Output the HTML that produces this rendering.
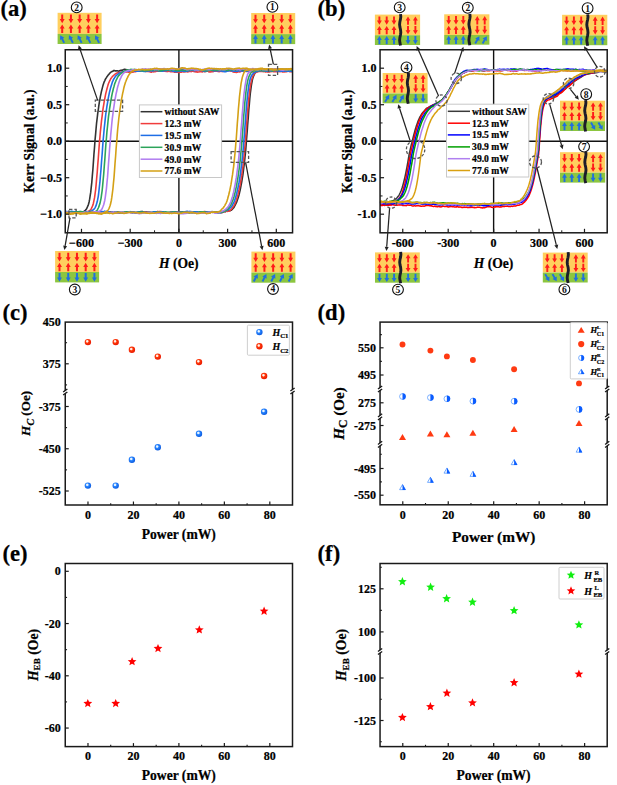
<!DOCTYPE html><html><head><meta charset="utf-8"><style>html,body{margin:0;padding:0;background:#fff;}svg{display:block;}</style></head><body><svg width="617" height="785" viewBox="0 0 617 785">
<rect width="617" height="785" fill="white"/>
<defs><radialGradient id="gb" cx="0.4" cy="0.38" r="0.62"><stop offset="0" stop-color="#ffffff"/><stop offset="0.22" stop-color="#d8ecff"/><stop offset="0.42" stop-color="#2a86ff"/><stop offset="1" stop-color="#0a5ae0"/></radialGradient><radialGradient id="gr" cx="0.4" cy="0.38" r="0.62"><stop offset="0" stop-color="#ffffff"/><stop offset="0.22" stop-color="#ffe0d4"/><stop offset="0.42" stop-color="#ff3a0a"/><stop offset="1" stop-color="#e81800"/></radialGradient></defs>
<line x1="178.90" y1="49.75" x2="178.90" y2="232.80" stroke="#111" stroke-width="1.4" />
<line x1="65.25" y1="141.20" x2="292.55" y2="141.20" stroke="#111" stroke-width="1.4" />
<polyline points="65.2,213.2 65.8,213.3 66.3,213.3 66.9,213.4 67.4,213.1 68.0,213.3 68.5,213.3 69.0,213.1 69.6,212.9 70.1,212.7 70.7,212.7 71.2,212.3 71.7,212.3 72.3,212.1 72.8,212.3 73.4,212.3 73.9,212.4 74.5,212.5 75.0,212.6 75.5,212.7 76.1,212.6 76.6,212.8 77.2,212.6 77.7,212.7 78.2,212.8 78.8,212.8 79.3,212.8 79.9,212.6 80.4,212.7 80.9,212.6 81.5,212.5 82.0,212.5 82.6,212.4 83.1,212.1 83.7,211.6 84.2,211.3 84.7,210.8 85.3,210.5 85.8,209.8 86.4,209.0 86.9,208.2 87.4,207.0 88.0,205.7 88.5,204.2 89.1,202.0 89.6,199.4 90.1,196.2 90.7,192.4 91.2,187.7 91.8,182.3 92.3,176.1 92.9,169.3 93.4,162.1 93.9,154.7 94.5,147.5 95.0,140.5 95.6,134.1 96.1,128.2 96.6,122.8 97.2,118.0 97.7,113.6 98.3,109.6 98.8,105.9 99.3,102.5 99.9,99.3 100.4,96.4 101.0,93.6 101.5,91.2 102.1,88.9 102.6,86.9 103.1,85.0 103.7,83.3 104.2,81.8 104.8,80.6 105.3,79.4 105.8,78.5 106.4,77.6 106.9,76.8 107.5,76.0 108.0,75.3 108.5,74.7 109.1,74.1 109.6,73.4 110.2,72.7 110.7,72.3 111.3,71.9 111.8,71.6 112.3,71.4 112.9,71.2 113.4,70.6 114.0,70.6 114.5,70.6 115.0,70.8 115.6,70.9 116.1,71.0 116.7,70.8 117.2,70.8 117.7,70.9 118.3,71.0 118.8,71.2 119.4,71.0 119.9,70.6 120.5,70.4 121.0,70.3 121.5,70.2 122.1,70.1 122.6,70.2 123.2,69.8 123.7,69.6 124.2,69.4 124.8,69.3 125.3,69.5 125.9,69.6 126.4,69.8 126.9,69.8 127.5,70.1 128.0,70.0 128.6,70.3 129.1,70.6 129.7,70.8 130.2,71.2 130.7,71.3 131.3,71.4 131.8,71.4 132.4,71.6 132.9,71.6 133.4,71.2 134.0,71.0 134.5,71.0 135.1,71.1 135.6,71.0 136.1,70.8 136.7,70.8 137.2,70.5 137.8,70.2 138.3,70.0 138.9,70.2 139.4,70.4 139.9,70.4 140.5,70.4 141.0,70.4 141.6,70.2 142.1,70.2 142.6,70.6 143.2,70.6 143.7,70.6 144.3,70.7 144.8,70.5 145.3,70.5 145.9,70.5 146.4,70.1 147.0,70.1 147.5,69.9 148.1,69.8 148.6,70.1 149.1,70.2 149.7,69.9 150.2,69.9 150.8,69.6 151.3,69.7 151.8,70.0 152.4,70.1 152.9,69.9 153.5,69.7 154.0,69.5 154.5,69.2 155.1,69.2 155.6,69.3 156.2,69.5 156.7,69.4 157.3,69.5 157.8,69.9 158.3,70.2 158.9,70.4 159.4,70.5 160.0,70.4 160.5,70.6 161.0,70.2 161.6,70.0 162.1,69.8 162.7,69.6 163.2,69.5 163.7,69.6 164.3,69.6 164.8,69.8 165.4,70.0 165.9,69.8 166.5,69.8 167.0,70.0 167.5,70.2 168.1,70.0 168.6,70.0 169.2,69.8 169.7,69.5 170.2,69.3 170.8,69.2 171.3,69.4 171.9,69.7 172.4,69.5 172.9,69.7 173.5,69.7 174.0,69.3 174.6,69.4 175.1,69.6 175.7,69.6 176.2,69.6 176.7,69.7 177.3,69.7 177.8,70.0 178.4,69.8 178.9,69.8 179.4,70.1 180.0,69.9 180.5,69.7 181.1,69.8 181.6,70.0 182.1,69.8 182.7,69.8 183.2,69.9 183.8,69.8 184.3,69.9 184.9,69.7 185.4,69.7 185.9,69.9 186.5,69.8 187.0,69.6 187.6,69.8 188.1,69.7 188.6,69.6 189.2,69.9 189.7,69.9 190.3,70.1 190.8,70.3 191.3,70.4 191.9,70.4 192.4,70.6 193.0,70.5 193.5,70.4 194.1,70.1 194.6,70.0 195.1,69.9 195.7,69.8 196.2,69.7 196.8,69.5 197.3,69.9 197.8,69.9 198.4,70.0 198.9,70.3 199.5,70.3 200.0,70.4 200.5,70.6 201.1,70.5 201.6,70.5 202.2,70.6 202.7,70.4 203.3,70.3 203.8,70.1 204.3,70.0 204.9,70.1 205.4,70.1 206.0,70.2 206.5,70.2 207.0,70.2 207.6,70.1 208.1,70.0 208.7,69.8 209.2,70.0 209.7,69.7 210.3,69.8 210.8,69.6 211.4,69.5 211.9,69.6 212.5,69.6 213.0,69.6 213.5,69.6 214.1,69.6 214.6,69.5 215.2,69.3 215.7,69.4 216.2,69.4 216.8,69.3 217.3,69.1 217.9,69.3 218.4,69.4 218.9,69.7 219.5,69.9 220.0,70.2 220.6,70.6 221.1,70.4 221.7,70.3 222.2,70.3 222.7,70.6 223.3,70.4 223.8,70.2 224.4,70.3 224.9,69.9 225.4,69.6 226.0,69.5 226.5,69.4 227.1,69.6 227.6,69.8 228.1,69.4 228.7,69.4 229.2,69.6 229.8,69.4 230.3,69.6 230.9,69.9 231.4,69.9 231.9,70.2 232.5,70.0 233.0,70.2 233.6,70.4 234.1,70.6 234.6,70.7 235.2,70.7 235.7,70.7 236.3,70.6 236.8,70.6 237.3,70.3 237.9,70.3 238.4,69.9 239.0,70.1 239.5,70.2 240.1,70.2 240.6,70.0 241.1,70.1 241.7,70.3 242.2,70.1 242.8,70.2 243.3,70.2 243.8,70.5 244.4,70.4 244.9,70.2 245.5,69.9 246.0,70.0 246.5,70.0 247.1,70.1 247.6,70.0 248.2,70.2 248.7,70.5 249.3,70.2 249.8,70.0 250.3,70.0 250.9,70.2 251.4,70.2 252.0,70.2 252.5,69.8 253.0,69.9 253.6,70.0 254.1,69.8 254.7,69.8 255.2,69.9 255.7,70.2 256.3,70.0 256.8,70.3 257.4,70.3 257.9,70.6 258.5,70.8 259.0,70.8 259.5,70.9 260.1,71.2 260.6,71.0 261.2,70.9 261.7,70.9 262.2,71.0 262.8,70.9 263.3,70.9 263.9,70.8 264.4,70.9 264.9,70.7 265.5,70.6 266.0,70.9 266.6,70.8 267.1,70.6 267.7,70.6 268.2,70.4 268.7,70.2 269.3,70.1 269.8,69.8 270.4,69.9 270.9,69.9 271.4,69.7 272.0,69.5 272.5,69.8 273.1,69.4 273.6,69.5 274.1,69.4 274.7,69.4 275.2,69.7 275.8,69.8 276.3,70.0 276.9,70.2 277.4,70.3 277.9,70.4 278.5,70.7 279.0,71.0 279.6,70.9 280.1,70.7 280.6,70.5 281.2,70.4 281.7,70.4 282.3,70.3 282.8,70.4 283.3,70.4 283.9,70.3 284.4,70.2 285.0,70.2 285.5,70.1 286.1,70.2 286.6,70.2 287.1,69.9 287.7,69.9 288.2,69.9 288.8,70.0 289.3,70.0 289.8,69.9 290.4,70.1 290.9,70.5 291.5,70.5 292.0,70.6 292.6,70.9" fill="none" stroke="#333333" stroke-width="1.6" stroke-linejoin="round"/>
<polyline points="65.2,212.7 65.8,212.5 66.3,212.3 66.9,212.2 67.4,211.9 68.0,212.0 68.5,211.9 69.0,211.8 69.6,212.2 70.1,212.1 70.7,212.0 71.2,212.1 71.7,212.0 72.3,211.7 72.8,212.1 73.4,211.9 73.9,212.0 74.5,212.0 75.0,211.6 75.5,211.6 76.1,211.8 76.6,211.6 77.2,211.7 77.7,211.7 78.2,211.7 78.8,211.9 79.3,212.1 79.9,212.3 80.4,212.6 80.9,212.6 81.5,212.6 82.0,212.7 82.6,212.7 83.1,212.7 83.7,212.6 84.2,212.6 84.7,212.3 85.3,212.2 85.8,212.0 86.4,212.1 86.9,212.1 87.4,212.3 88.0,212.3 88.5,212.5 89.1,212.6 89.6,212.5 90.1,212.6 90.7,212.8 91.2,212.7 91.8,212.5 92.3,212.6 92.9,212.4 93.4,212.6 93.9,212.4 94.5,212.1 95.0,211.9 95.6,211.9 96.1,212.0 96.6,212.3 97.2,212.6 97.7,212.5 98.3,212.5 98.8,212.5 99.3,212.8 99.9,213.1 100.4,213.2 101.0,213.2 101.5,212.9 102.1,212.7 102.6,212.7 103.1,212.8 103.7,212.7 104.2,212.8 104.8,212.7 105.3,212.3 105.8,212.4 106.4,212.2 106.9,212.1 107.5,212.4 108.0,212.4 108.5,212.2 109.1,212.0 109.6,212.0 110.2,211.9 110.7,212.2 111.3,211.9 111.8,212.3 112.3,212.4 112.9,212.4 113.4,212.3 114.0,212.3 114.5,212.6 115.0,212.5 115.6,212.4 116.1,212.1 116.7,212.2 117.2,212.2 117.7,212.0 118.3,211.9 118.8,212.1 119.4,212.5 119.9,212.4 120.5,212.5 121.0,212.6 121.5,212.9 122.1,213.1 122.6,213.1 123.2,213.1 123.7,213.3 124.2,213.0 124.8,212.6 125.3,212.8 125.9,212.6 126.4,212.4 126.9,212.0 127.5,212.1 128.0,212.0 128.6,212.2 129.1,211.8 129.7,211.9 130.2,212.1 130.7,211.9 131.3,212.2 131.8,212.5 132.4,212.9 132.9,212.6 133.4,212.7 134.0,212.4 134.5,212.8 135.1,212.9 135.6,212.8 136.1,212.9 136.7,212.9 137.2,212.5 137.8,212.2 138.3,212.2 138.9,212.0 139.4,212.0 139.9,211.7 140.5,211.6 141.0,211.5 141.6,211.6 142.1,211.4 142.6,211.6 143.2,211.7 143.7,211.8 144.3,211.9 144.8,212.3 145.3,212.3 145.9,212.5 146.4,212.6 147.0,212.5 147.5,212.7 148.1,212.5 148.6,212.4 149.1,212.6 149.7,212.4 150.2,212.3 150.8,212.5 151.3,212.4 151.8,212.5 152.4,212.6 152.9,212.6 153.5,212.6 154.0,212.8 154.5,212.8 155.1,212.7 155.6,212.4 156.2,212.4 156.7,212.5 157.3,212.5 157.8,212.5 158.3,212.5 158.9,212.8 159.4,213.0 160.0,212.9 160.5,213.1 161.0,213.1 161.6,213.0 162.1,212.9 162.7,212.8 163.2,212.6 163.7,212.6 164.3,212.5 164.8,212.6 165.4,212.5 165.9,212.4 166.5,212.7 167.0,212.8 167.5,212.7 168.1,212.5 168.6,212.7 169.2,212.7 169.7,212.7 170.2,212.6 170.8,212.5 171.3,212.5 171.9,212.2 172.4,212.0 172.9,212.3 173.5,212.7 174.0,212.5 174.6,212.2 175.1,212.1 175.7,212.0 176.2,212.2 176.7,212.4 177.3,212.4 177.8,212.4 178.4,212.1 178.9,211.7 179.4,211.9 180.0,212.2 180.5,212.3 181.1,212.4 181.6,212.1 182.1,211.8 182.7,211.9 183.2,212.0 183.8,212.0 184.3,212.3 184.9,212.1 185.4,212.2 185.9,211.9 186.5,212.0 187.0,211.9 187.6,212.0 188.1,212.2 188.6,212.5 189.2,212.7 189.7,212.6 190.3,212.5 190.8,212.5 191.3,212.8 191.9,212.7 192.4,212.8 193.0,212.9 193.5,213.0 194.1,212.8 194.6,212.9 195.1,213.0 195.7,213.1 196.2,212.8 196.8,212.5 197.3,212.4 197.8,212.4 198.4,212.5 198.9,212.5 199.5,212.3 200.0,212.0 200.5,212.0 201.1,212.2 201.6,212.4 202.2,212.4 202.7,212.6 203.3,212.7 203.8,212.5 204.3,212.2 204.9,212.5 205.4,212.8 206.0,212.8 206.5,212.6 207.0,212.5 207.6,212.7 208.1,212.6 208.7,212.4 209.2,212.4 209.7,212.7 210.3,212.4 210.8,212.3 211.4,212.1 211.9,212.2 212.5,212.4 213.0,212.1 213.5,212.3 214.1,212.2 214.6,212.2 215.2,212.2 215.7,212.5 216.2,212.5 216.8,212.5 217.3,212.2 217.9,212.2 218.4,212.4 218.9,212.4 219.5,212.4 220.0,212.5 220.6,212.6 221.1,212.6 221.7,212.6 222.2,212.4 222.7,212.4 223.3,212.1 223.8,211.8 224.4,211.5 224.9,211.7 225.4,211.6 226.0,211.1 226.5,210.7 227.1,210.7 227.6,210.7 228.1,210.8 228.7,210.7 229.2,210.8 229.8,210.8 230.3,210.7 230.9,210.3 231.4,210.2 231.9,209.6 232.5,209.1 233.0,208.5 233.6,207.9 234.1,207.2 234.6,206.2 235.2,205.1 235.7,204.0 236.3,202.9 236.8,201.6 237.3,200.3 237.9,198.5 238.4,196.9 239.0,194.9 239.5,192.7 240.1,190.4 240.6,187.9 241.1,185.1 241.7,182.1 242.2,178.9 242.8,175.4 243.3,171.7 243.8,167.5 244.4,163.0 244.9,158.0 245.5,152.5 246.0,146.4 246.5,139.8 247.1,132.8 247.6,125.5 248.2,118.1 248.7,111.0 249.3,104.4 249.8,98.4 250.3,93.3 250.9,88.8 251.4,85.1 252.0,81.9 252.5,79.4 253.0,77.6 253.6,76.0 254.1,74.9 254.7,73.7 255.2,72.6 255.7,71.8 256.3,71.5 256.8,71.3 257.4,71.1 257.9,70.8 258.5,70.6 259.0,70.2 259.5,70.0 260.1,69.9 260.6,69.9 261.2,69.8 261.7,69.7 262.2,69.7 262.8,69.7 263.3,69.8 263.9,69.8 264.4,70.1 264.9,70.1 265.5,70.3 266.0,70.6 266.6,70.8 267.1,70.7 267.7,70.7 268.2,70.5 268.7,70.4 269.3,70.0 269.8,70.0 270.4,70.3 270.9,70.3 271.4,70.2 272.0,69.9 272.5,69.9 273.1,69.9 273.6,70.2 274.1,70.3 274.7,70.4 275.2,70.2 275.8,69.9 276.3,69.6 276.9,69.8 277.4,69.8 277.9,69.8 278.5,69.7 279.0,69.7 279.6,69.6 280.1,69.9 280.6,70.1 281.2,70.3 281.7,70.6 282.3,70.2 282.8,70.3 283.3,70.3 283.9,70.4 284.4,70.1 285.0,70.2 285.5,70.2 286.1,70.0 286.6,69.8 287.1,69.4 287.7,69.8 288.2,69.8 288.8,69.6 289.3,69.4 289.8,69.4 290.4,69.6 290.9,69.6 291.5,69.9 292.0,70.1 292.6,70.1" fill="none" stroke="#333333" stroke-width="1.6" stroke-linejoin="round"/>
<polyline points="65.2,212.0 65.8,212.3 66.3,212.3 66.9,212.6 67.4,212.7 68.0,212.7 68.5,212.8 69.0,212.9 69.6,212.9 70.1,213.1 70.7,213.3 71.2,213.1 71.7,213.1 72.3,213.1 72.8,213.1 73.4,212.8 73.9,212.8 74.5,213.1 75.0,213.1 75.5,213.0 76.1,212.9 76.6,212.9 77.2,212.9 77.7,213.0 78.2,212.8 78.8,212.9 79.3,213.1 79.9,212.9 80.4,212.6 80.9,212.6 81.5,212.6 82.0,212.7 82.6,212.5 83.1,212.2 83.7,212.0 84.2,212.0 84.7,212.0 85.3,211.8 85.8,212.0 86.4,212.1 86.9,211.8 87.4,211.7 88.0,211.3 88.5,211.3 89.1,211.0 89.6,210.6 90.1,210.2 90.7,209.8 91.2,208.9 91.8,207.7 92.3,206.5 92.9,205.1 93.4,203.2 93.9,200.8 94.5,197.9 95.0,194.3 95.6,190.0 96.1,184.8 96.6,179.0 97.2,172.5 97.7,165.5 98.3,158.2 98.8,151.0 99.3,144.0 99.9,137.4 100.4,131.3 101.0,125.8 101.5,120.8 102.1,116.3 102.6,112.2 103.1,108.4 103.7,104.9 104.2,101.7 104.8,98.7 105.3,95.9 105.8,93.4 106.4,91.1 106.9,89.0 107.5,86.9 108.0,85.1 108.5,83.5 109.1,82.2 109.6,81.0 110.2,79.9 110.7,78.8 111.3,78.1 111.8,77.4 112.3,76.6 112.9,75.9 113.4,75.7 114.0,75.1 114.5,74.5 115.0,74.2 115.6,73.8 116.1,73.6 116.7,73.2 117.2,72.9 117.7,72.7 118.3,72.8 118.8,72.5 119.4,72.4 119.9,72.4 120.5,72.1 121.0,72.1 121.5,71.9 122.1,72.1 122.6,72.0 123.2,72.0 123.7,72.0 124.2,71.9 124.8,71.7 125.3,71.7 125.9,71.9 126.4,71.9 126.9,72.0 127.5,71.9 128.0,72.0 128.6,72.2 129.1,72.1 129.7,72.2 130.2,72.5 130.7,72.4 131.3,72.4 131.8,72.3 132.4,72.0 132.9,71.8 133.4,72.0 134.0,71.8 134.5,71.8 135.1,71.6 135.6,71.6 136.1,71.5 136.7,71.1 137.2,71.1 137.8,71.1 138.3,71.2 138.9,70.8 139.4,70.8 139.9,70.6 140.5,70.6 141.0,70.6 141.6,70.6 142.1,70.6 142.6,70.9 143.2,71.1 143.7,70.9 144.3,71.2 144.8,71.1 145.3,71.4 145.9,71.4 146.4,71.4 147.0,71.5 147.5,71.5 148.1,71.5 148.6,71.5 149.1,71.6 149.7,71.6 150.2,71.9 150.8,72.0 151.3,72.3 151.8,71.9 152.4,71.8 152.9,71.8 153.5,71.9 154.0,71.6 154.5,71.8 155.1,71.7 155.6,71.4 156.2,71.4 156.7,71.1 157.3,71.2 157.8,71.3 158.3,71.3 158.9,71.3 159.4,71.2 160.0,71.0 160.5,71.0 161.0,71.0 161.6,71.0 162.1,71.0 162.7,71.0 163.2,71.0 163.7,71.1 164.3,71.0 164.8,71.3 165.4,71.3 165.9,71.4 166.5,71.4 167.0,71.4 167.5,71.6 168.1,71.4 168.6,71.3 169.2,71.3 169.7,71.4 170.2,71.5 170.8,71.8 171.3,71.7 171.9,71.8 172.4,71.7 172.9,71.8 173.5,71.8 174.0,72.0 174.6,72.2 175.1,72.1 175.7,72.1 176.2,72.1 176.7,72.0 177.3,72.2 177.8,72.2 178.4,72.4 178.9,72.5 179.4,72.3 180.0,72.3 180.5,72.3 181.1,72.1 181.6,72.1 182.1,71.8 182.7,71.8 183.2,71.9 183.8,71.9 184.3,71.9 184.9,71.8 185.4,71.5 185.9,71.6 186.5,71.7 187.0,71.8 187.6,71.9 188.1,71.7 188.6,71.7 189.2,71.4 189.7,71.5 190.3,71.5 190.8,71.5 191.3,71.6 191.9,71.3 192.4,71.3 193.0,71.3 193.5,71.4 194.1,71.4 194.6,71.7 195.1,71.5 195.7,71.9 196.2,72.0 196.8,71.7 197.3,72.1 197.8,72.0 198.4,72.0 198.9,71.9 199.5,71.7 200.0,71.4 200.5,71.7 201.1,71.5 201.6,71.6 202.2,72.0 202.7,71.7 203.3,71.5 203.8,71.4 204.3,71.6 204.9,71.5 205.4,71.6 206.0,71.4 206.5,71.2 207.0,71.2 207.6,71.1 208.1,71.4 208.7,71.7 209.2,72.0 209.7,71.8 210.3,71.9 210.8,71.9 211.4,71.7 211.9,71.8 212.5,71.8 213.0,71.7 213.5,71.5 214.1,71.3 214.6,71.1 215.2,71.1 215.7,71.2 216.2,71.0 216.8,71.3 217.3,71.2 217.9,71.4 218.4,71.5 218.9,71.6 219.5,71.6 220.0,71.4 220.6,71.2 221.1,71.3 221.7,71.4 222.2,71.3 222.7,71.6 223.3,71.2 223.8,71.1 224.4,70.9 224.9,70.9 225.4,70.9 226.0,71.0 226.5,70.8 227.1,70.8 227.6,70.6 228.1,70.5 228.7,70.6 229.2,70.6 229.8,70.8 230.3,71.0 230.9,71.2 231.4,71.3 231.9,71.3 232.5,71.5 233.0,71.9 233.6,72.1 234.1,72.0 234.6,72.1 235.2,72.1 235.7,72.2 236.3,72.5 236.8,72.2 237.3,72.3 237.9,72.1 238.4,71.8 239.0,71.8 239.5,71.9 240.1,71.9 240.6,71.6 241.1,71.3 241.7,70.9 242.2,71.2 242.8,71.1 243.3,71.0 243.8,70.9 244.4,70.9 244.9,71.0 245.5,71.2 246.0,71.5 246.5,71.5 247.1,71.5 247.6,71.3 248.2,71.3 248.7,71.4 249.3,71.7 249.8,71.7 250.3,71.8 250.9,71.5 251.4,71.4 252.0,71.6 252.5,71.8 253.0,72.1 253.6,72.3 254.1,72.5 254.7,72.3 255.2,72.2 255.7,72.1 256.3,72.0 256.8,71.8 257.4,71.6 257.9,71.5 258.5,71.5 259.0,71.5 259.5,71.4 260.1,71.4 260.6,71.4 261.2,71.2 261.7,71.4 262.2,71.5 262.8,71.5 263.3,71.7 263.9,71.4 264.4,71.5 264.9,71.7 265.5,71.9 266.0,71.8 266.6,71.6 267.1,71.9 267.7,71.8 268.2,71.9 268.7,71.6 269.3,71.9 269.8,71.7 270.4,71.6 270.9,71.3 271.4,71.5 272.0,71.6 272.5,71.4 273.1,71.6 273.6,71.5 274.1,71.6 274.7,71.6 275.2,71.6 275.8,71.7 276.3,71.7 276.9,71.5 277.4,71.6 277.9,71.4 278.5,71.4 279.0,71.5 279.6,71.5 280.1,71.2 280.6,71.4 281.2,71.1 281.7,71.4 282.3,71.6 282.8,71.9 283.3,71.7 283.9,71.7 284.4,71.7 285.0,71.5 285.5,71.8 286.1,71.6 286.6,71.8 287.1,71.4 287.7,71.2 288.2,71.0 288.8,71.3 289.3,71.3 289.8,71.4 290.4,71.5 290.9,71.3 291.5,71.2 292.0,71.3 292.6,71.4" fill="none" stroke="#f03c3c" stroke-width="1.6" stroke-linejoin="round"/>
<polyline points="65.2,212.6 65.8,212.8 66.3,212.7 66.9,212.8 67.4,213.0 68.0,213.0 68.5,212.9 69.0,213.0 69.6,212.9 70.1,212.9 70.7,212.9 71.2,212.6 71.7,212.6 72.3,212.6 72.8,212.4 73.4,212.1 73.9,212.0 74.5,211.8 75.0,212.2 75.5,212.2 76.1,212.2 76.6,212.6 77.2,212.4 77.7,212.6 78.2,212.8 78.8,212.8 79.3,212.9 79.9,212.8 80.4,212.6 80.9,212.7 81.5,212.7 82.0,212.5 82.6,212.5 83.1,212.2 83.7,212.0 84.2,212.1 84.7,212.2 85.3,212.1 85.8,212.2 86.4,212.3 86.9,212.0 87.4,211.9 88.0,211.7 88.5,211.8 89.1,211.8 89.6,211.7 90.1,211.7 90.7,211.8 91.2,211.8 91.8,211.7 92.3,211.9 92.9,212.1 93.4,212.1 93.9,212.1 94.5,212.2 95.0,212.4 95.6,212.5 96.1,212.5 96.6,212.4 97.2,212.5 97.7,212.2 98.3,212.0 98.8,212.2 99.3,212.3 99.9,212.2 100.4,212.1 101.0,212.1 101.5,211.9 102.1,212.1 102.6,212.1 103.1,212.3 103.7,212.4 104.2,212.0 104.8,212.1 105.3,212.4 105.8,212.3 106.4,212.3 106.9,212.4 107.5,212.2 108.0,212.2 108.5,211.9 109.1,212.0 109.6,212.2 110.2,212.0 110.7,212.0 111.3,211.9 111.8,212.0 112.3,212.0 112.9,212.1 113.4,212.0 114.0,212.2 114.5,212.4 115.0,212.5 115.6,212.7 116.1,212.8 116.7,212.9 117.2,212.9 117.7,212.9 118.3,212.8 118.8,213.1 119.4,213.2 119.9,212.9 120.5,212.6 121.0,212.5 121.5,212.5 122.1,212.3 122.6,212.3 123.2,212.5 123.7,212.6 124.2,212.4 124.8,212.1 125.3,212.2 125.9,212.4 126.4,212.4 126.9,212.4 127.5,212.3 128.0,212.3 128.6,212.1 129.1,211.8 129.7,211.8 130.2,212.0 130.7,212.1 131.3,212.1 131.8,212.3 132.4,212.0 132.9,212.3 133.4,212.0 134.0,212.2 134.5,212.4 135.1,212.6 135.6,212.7 136.1,212.7 136.7,213.0 137.2,212.7 137.8,212.9 138.3,213.0 138.9,213.2 139.4,213.1 139.9,213.1 140.5,212.9 141.0,212.8 141.6,212.8 142.1,212.4 142.6,212.3 143.2,212.4 143.7,212.1 144.3,211.9 144.8,211.7 145.3,211.9 145.9,211.8 146.4,211.8 147.0,211.9 147.5,212.3 148.1,212.3 148.6,212.0 149.1,212.3 149.7,212.6 150.2,212.9 150.8,212.9 151.3,212.9 151.8,213.0 152.4,213.0 152.9,212.6 153.5,212.7 154.0,212.9 154.5,212.6 155.1,212.4 155.6,212.1 156.2,211.9 156.7,211.8 157.3,211.7 157.8,211.4 158.3,211.7 158.9,211.7 159.4,211.5 160.0,211.6 160.5,211.7 161.0,211.6 161.6,211.7 162.1,212.0 162.7,212.2 163.2,212.5 163.7,212.4 164.3,212.7 164.8,212.7 165.4,213.0 165.9,212.9 166.5,213.1 167.0,213.1 167.5,212.8 168.1,212.9 168.6,212.6 169.2,212.6 169.7,212.4 170.2,212.3 170.8,212.0 171.3,212.1 171.9,212.1 172.4,211.9 172.9,212.3 173.5,212.0 174.0,212.1 174.6,212.3 175.1,212.3 175.7,212.3 176.2,212.2 176.7,212.2 177.3,212.0 177.8,212.2 178.4,212.0 178.9,211.9 179.4,212.2 180.0,211.9 180.5,211.9 181.1,212.0 181.6,212.0 182.1,212.0 182.7,212.2 183.2,212.2 183.8,212.1 184.3,212.4 184.9,212.2 185.4,212.4 185.9,212.4 186.5,212.2 187.0,212.4 187.6,212.2 188.1,212.3 188.6,212.3 189.2,212.5 189.7,212.4 190.3,212.1 190.8,212.0 191.3,211.9 191.9,212.1 192.4,212.1 193.0,212.4 193.5,212.3 194.1,212.2 194.6,212.0 195.1,212.2 195.7,212.3 196.2,212.2 196.8,212.3 197.3,212.4 197.8,212.4 198.4,212.6 198.9,212.7 199.5,212.6 200.0,212.7 200.5,212.4 201.1,212.4 201.6,212.4 202.2,212.4 202.7,212.1 203.3,212.0 203.8,211.7 204.3,211.5 204.9,211.6 205.4,211.8 206.0,211.8 206.5,211.9 207.0,212.0 207.6,212.2 208.1,212.4 208.7,212.6 209.2,212.6 209.7,212.5 210.3,212.5 210.8,212.4 211.4,212.3 211.9,212.2 212.5,212.3 213.0,212.2 213.5,212.1 214.1,212.0 214.6,212.1 215.2,212.3 215.7,212.3 216.2,212.1 216.8,212.4 217.3,212.5 217.9,212.7 218.4,212.8 218.9,212.5 219.5,212.4 220.0,212.1 220.6,212.1 221.1,212.3 221.7,212.5 222.2,212.2 222.7,212.0 223.3,211.6 223.8,211.4 224.4,211.4 224.9,211.5 225.4,211.6 226.0,211.5 226.5,211.3 227.1,211.3 227.6,211.4 228.1,211.3 228.7,211.3 229.2,210.9 229.8,210.7 230.3,210.0 230.9,209.7 231.4,209.3 231.9,208.6 232.5,207.8 233.0,206.9 233.6,206.2 234.1,205.4 234.6,204.4 235.2,203.0 235.7,201.8 236.3,200.2 236.8,198.6 237.3,196.8 237.9,194.8 238.4,192.7 239.0,190.3 239.5,187.7 240.1,185.0 240.6,182.0 241.1,178.9 241.7,175.4 242.2,171.7 242.8,167.6 243.3,163.0 243.8,158.1 244.4,152.6 244.9,146.5 245.5,139.9 246.0,132.9 246.5,125.6 247.1,118.4 247.6,111.4 248.2,104.9 248.7,99.1 249.3,94.0 249.8,89.7 250.3,86.1 250.9,83.2 251.4,80.8 252.0,78.8 252.5,77.2 253.0,75.9 253.6,74.8 254.1,74.0 254.7,73.2 255.2,72.9 255.7,72.7 256.3,72.2 256.8,72.0 257.4,71.6 257.9,71.5 258.5,71.4 259.0,71.3 259.5,71.2 260.1,71.2 260.6,71.1 261.2,70.9 261.7,70.9 262.2,71.0 262.8,71.1 263.3,71.0 263.9,70.8 264.4,70.9 264.9,71.1 265.5,71.4 266.0,71.4 266.6,71.4 267.1,71.5 267.7,71.3 268.2,71.2 268.7,71.5 269.3,71.5 269.8,71.5 270.4,71.3 270.9,71.0 271.4,71.0 272.0,70.8 272.5,70.7 273.1,70.8 273.6,70.8 274.1,70.6 274.7,71.0 275.2,71.1 275.8,71.1 276.3,71.3 276.9,71.1 277.4,71.0 277.9,71.3 278.5,71.3 279.0,71.4 279.6,71.4 280.1,71.3 280.6,71.4 281.2,71.5 281.7,71.2 282.3,71.3 282.8,71.7 283.3,71.4 283.9,71.4 284.4,71.6 285.0,71.5 285.5,71.2 286.1,70.9 286.6,71.0 287.1,71.2 287.7,71.1 288.2,71.1 288.8,71.3 289.3,71.6 289.8,71.4 290.4,71.5 290.9,71.6 291.5,71.8 292.0,71.8 292.6,72.0" fill="none" stroke="#f03c3c" stroke-width="1.6" stroke-linejoin="round"/>
<polyline points="65.2,212.2 65.8,212.6 66.3,212.4 66.9,212.0 67.4,212.1 68.0,212.2 68.5,212.1 69.0,212.1 69.6,212.0 70.1,211.8 70.7,211.5 71.2,211.2 71.7,211.2 72.3,211.5 72.8,211.6 73.4,211.8 73.9,211.8 74.5,212.2 75.0,212.3 75.5,212.5 76.1,212.4 76.6,212.6 77.2,212.6 77.7,212.3 78.2,212.3 78.8,212.1 79.3,212.0 79.9,212.0 80.4,211.6 80.9,211.7 81.5,211.9 82.0,211.8 82.6,211.8 83.1,211.9 83.7,211.7 84.2,211.8 84.7,211.9 85.3,211.5 85.8,211.5 86.4,211.5 86.9,211.7 87.4,211.8 88.0,212.1 88.5,211.9 89.1,211.6 89.6,211.4 90.1,211.3 90.7,211.3 91.2,211.2 91.8,210.9 92.3,210.2 92.9,210.0 93.4,209.7 93.9,209.2 94.5,208.6 95.0,207.8 95.6,206.7 96.1,205.4 96.6,203.7 97.2,201.8 97.7,199.3 98.3,196.1 98.8,192.2 99.3,187.5 99.9,182.2 100.4,176.0 101.0,169.3 101.5,162.1 102.1,154.8 102.6,147.6 103.1,140.7 103.7,134.3 104.2,128.5 104.8,123.2 105.3,118.4 105.8,114.0 106.4,110.0 106.9,106.4 107.5,103.0 108.0,99.9 108.5,97.0 109.1,94.2 109.6,91.7 110.2,89.4 110.7,87.4 111.3,85.5 111.8,83.9 112.3,82.2 112.9,80.9 113.4,79.6 114.0,78.8 114.5,77.9 115.0,77.0 115.6,76.4 116.1,75.5 116.7,75.1 117.2,74.7 117.7,74.4 118.3,74.0 118.8,73.4 119.4,73.0 119.9,72.9 120.5,72.7 121.0,72.5 121.5,72.3 122.1,72.2 122.6,71.8 123.2,71.8 123.7,71.4 124.2,71.4 124.8,71.4 125.3,71.2 125.9,71.2 126.4,71.2 126.9,71.4 127.5,71.3 128.0,71.2 128.6,70.8 129.1,70.8 129.7,71.0 130.2,70.9 130.7,70.7 131.3,70.8 131.8,70.6 132.4,70.5 132.9,70.3 133.4,70.7 134.0,70.8 134.5,71.0 135.1,71.0 135.6,71.1 136.1,71.1 136.7,70.9 137.2,71.2 137.8,71.1 138.3,71.1 138.9,71.0 139.4,71.1 139.9,71.2 140.5,71.2 141.0,70.9 141.6,70.9 142.1,71.1 142.6,71.1 143.2,71.3 143.7,71.4 144.3,71.3 144.8,71.4 145.3,71.4 145.9,71.2 146.4,71.2 147.0,71.2 147.5,71.0 148.1,70.9 148.6,70.9 149.1,70.9 149.7,70.9 150.2,70.7 150.8,70.8 151.3,70.7 151.8,70.9 152.4,70.9 152.9,70.7 153.5,70.6 154.0,70.6 154.5,70.6 155.1,70.5 155.6,70.5 156.2,70.4 156.7,70.6 157.3,70.4 157.8,70.6 158.3,70.9 158.9,71.0 159.4,70.7 160.0,71.1 160.5,71.1 161.0,71.3 161.6,71.2 162.1,71.2 162.7,71.3 163.2,71.1 163.7,70.8 164.3,70.8 164.8,70.7 165.4,70.6 165.9,70.5 166.5,70.6 167.0,70.5 167.5,70.1 168.1,70.2 168.6,70.3 169.2,70.5 169.7,70.4 170.2,70.7 170.8,70.4 171.3,70.7 171.9,70.6 172.4,71.0 172.9,71.3 173.5,71.1 174.0,71.3 174.6,71.5 175.1,71.5 175.7,71.4 176.2,71.8 176.7,71.6 177.3,71.5 177.8,71.3 178.4,71.1 178.9,71.4 179.4,71.0 180.0,70.8 180.5,71.0 181.1,71.1 181.6,70.9 182.1,70.9 182.7,71.0 183.2,71.2 183.8,71.3 184.3,71.3 184.9,71.4 185.4,71.4 185.9,71.3 186.5,71.1 187.0,71.0 187.6,71.2 188.1,70.9 188.6,70.6 189.2,70.6 189.7,70.5 190.3,70.4 190.8,70.5 191.3,70.4 191.9,70.2 192.4,70.2 193.0,70.1 193.5,70.4 194.1,70.7 194.6,70.6 195.1,70.4 195.7,70.4 196.2,70.2 196.8,70.1 197.3,70.1 197.8,70.4 198.4,70.3 198.9,70.0 199.5,69.8 200.0,69.8 200.5,70.1 201.1,70.2 201.6,70.4 202.2,70.5 202.7,70.9 203.3,70.7 203.8,70.7 204.3,71.1 204.9,71.5 205.4,71.2 206.0,71.0 206.5,70.9 207.0,70.7 207.6,70.6 208.1,70.3 208.7,70.1 209.2,70.3 209.7,70.0 210.3,70.0 210.8,70.1 211.4,70.3 211.9,70.5 212.5,70.3 213.0,70.4 213.5,70.7 214.1,70.9 214.6,70.7 215.2,70.6 215.7,70.5 216.2,70.7 216.8,70.5 217.3,70.7 217.9,70.9 218.4,70.7 218.9,70.6 219.5,70.7 220.0,70.7 220.6,70.9 221.1,71.0 221.7,71.0 222.2,71.3 222.7,71.2 223.3,71.3 223.8,71.6 224.4,71.7 224.9,71.8 225.4,71.7 226.0,71.6 226.5,71.4 227.1,71.2 227.6,71.0 228.1,71.0 228.7,70.9 229.2,70.8 229.8,70.7 230.3,70.4 230.9,70.5 231.4,70.7 231.9,70.9 232.5,71.0 233.0,71.1 233.6,71.0 234.1,71.0 234.6,71.2 235.2,71.3 235.7,71.2 236.3,71.3 236.8,71.2 237.3,71.1 237.9,71.1 238.4,70.9 239.0,70.9 239.5,70.8 240.1,70.8 240.6,70.9 241.1,70.9 241.7,70.8 242.2,71.0 242.8,71.0 243.3,71.0 243.8,71.1 244.4,71.2 244.9,71.4 245.5,71.1 246.0,70.8 246.5,71.1 247.1,71.1 247.6,71.0 248.2,70.9 248.7,70.8 249.3,70.7 249.8,70.4 250.3,70.3 250.9,70.4 251.4,70.4 252.0,70.1 252.5,70.1 253.0,69.9 253.6,69.9 254.1,69.7 254.7,70.1 255.2,70.0 255.7,70.3 256.3,70.2 256.8,70.3 257.4,70.4 257.9,70.2 258.5,70.3 259.0,70.4 259.5,70.5 260.1,70.2 260.6,70.3 261.2,70.1 261.7,70.3 262.2,70.3 262.8,70.2 263.3,70.5 263.9,70.6 264.4,70.5 264.9,70.7 265.5,70.9 266.0,70.9 266.6,70.7 267.1,70.6 267.7,70.6 268.2,70.9 268.7,70.9 269.3,71.0 269.8,71.0 270.4,70.9 270.9,71.0 271.4,70.9 272.0,71.2 272.5,71.0 273.1,70.8 273.6,70.5 274.1,70.5 274.7,70.4 275.2,70.3 275.8,70.5 276.3,70.5 276.9,70.7 277.4,70.6 277.9,70.6 278.5,70.6 279.0,70.8 279.6,70.5 280.1,70.4 280.6,70.6 281.2,70.3 281.7,70.1 282.3,70.2 282.8,70.2 283.3,70.4 283.9,70.4 284.4,70.3 285.0,70.5 285.5,70.7 286.1,70.8 286.6,70.9 287.1,70.8 287.7,70.7 288.2,70.6 288.8,70.3 289.3,70.5 289.8,70.6 290.4,70.6 290.9,70.2 291.5,70.2 292.0,70.1 292.6,70.0" fill="none" stroke="#1e6ee6" stroke-width="1.6" stroke-linejoin="round"/>
<polyline points="65.2,211.1 65.8,211.1 66.3,211.4 66.9,211.7 67.4,211.7 68.0,211.5 68.5,211.8 69.0,212.0 69.6,212.1 70.1,212.3 70.7,212.5 71.2,212.3 71.7,212.1 72.3,212.2 72.8,212.2 73.4,212.1 73.9,212.0 74.5,211.8 75.0,212.1 75.5,212.2 76.1,212.0 76.6,212.2 77.2,212.2 77.7,212.1 78.2,212.1 78.8,212.2 79.3,212.2 79.9,212.2 80.4,212.0 80.9,211.7 81.5,211.8 82.0,211.9 82.6,212.1 83.1,212.1 83.7,212.0 84.2,212.2 84.7,212.3 85.3,212.5 85.8,212.5 86.4,212.6 86.9,212.5 87.4,212.4 88.0,212.4 88.5,212.5 89.1,212.5 89.6,212.4 90.1,212.1 90.7,212.0 91.2,212.2 91.8,212.4 92.3,212.6 92.9,212.6 93.4,212.4 93.9,212.2 94.5,212.4 95.0,212.3 95.6,212.6 96.1,212.4 96.6,212.2 97.2,211.9 97.7,211.7 98.3,211.9 98.8,212.0 99.3,212.2 99.9,211.9 100.4,211.7 101.0,211.6 101.5,211.6 102.1,211.5 102.6,211.8 103.1,211.7 103.7,211.6 104.2,211.5 104.8,211.1 105.3,211.4 105.8,211.6 106.4,211.4 106.9,211.7 107.5,211.9 108.0,211.7 108.5,211.7 109.1,211.8 109.6,211.9 110.2,212.3 110.7,212.2 111.3,212.3 111.8,212.2 112.3,212.1 112.9,212.0 113.4,212.4 114.0,212.3 114.5,212.5 115.0,212.5 115.6,212.5 116.1,212.6 116.7,212.3 117.2,212.6 117.7,212.6 118.3,212.8 118.8,212.7 119.4,212.8 119.9,213.0 120.5,212.9 121.0,212.8 121.5,212.7 122.1,212.8 122.6,212.9 123.2,212.9 123.7,212.6 124.2,212.7 124.8,212.6 125.3,212.2 125.9,212.2 126.4,212.3 126.9,212.2 127.5,212.2 128.0,212.0 128.6,211.7 129.1,212.0 129.7,211.7 130.2,211.6 130.7,211.9 131.3,212.0 131.8,212.1 132.4,211.9 132.9,212.1 133.4,211.9 134.0,212.0 134.5,212.0 135.1,212.3 135.6,212.2 136.1,212.2 136.7,212.1 137.2,212.1 137.8,212.1 138.3,212.0 138.9,212.3 139.4,212.2 139.9,212.2 140.5,212.0 141.0,212.0 141.6,212.0 142.1,212.2 142.6,212.2 143.2,212.4 143.7,212.2 144.3,212.2 144.8,212.3 145.3,212.4 145.9,212.4 146.4,212.5 147.0,212.4 147.5,212.5 148.1,212.5 148.6,212.4 149.1,212.7 149.7,212.8 150.2,212.8 150.8,212.7 151.3,212.8 151.8,212.5 152.4,212.4 152.9,212.1 153.5,211.8 154.0,211.9 154.5,211.9 155.1,211.9 155.6,211.9 156.2,211.7 156.7,211.8 157.3,212.0 157.8,212.0 158.3,212.1 158.9,212.4 159.4,212.1 160.0,212.0 160.5,211.8 161.0,212.0 161.6,212.2 162.1,212.0 162.7,211.8 163.2,211.8 163.7,212.1 164.3,212.2 164.8,212.5 165.4,212.6 165.9,212.7 166.5,212.6 167.0,212.7 167.5,212.9 168.1,213.0 168.6,213.2 169.2,212.8 169.7,212.6 170.2,212.4 170.8,212.3 171.3,212.3 171.9,212.2 172.4,212.0 172.9,212.2 173.5,212.1 174.0,211.8 174.6,212.1 175.1,212.3 175.7,212.2 176.2,212.1 176.7,212.2 177.3,212.4 177.8,212.5 178.4,212.2 178.9,212.5 179.4,212.4 180.0,212.2 180.5,212.2 181.1,212.2 181.6,212.3 182.1,212.0 182.7,211.8 183.2,211.7 183.8,212.0 184.3,211.7 184.9,211.9 185.4,211.8 185.9,211.6 186.5,211.5 187.0,211.3 187.6,211.4 188.1,211.6 188.6,211.7 189.2,211.4 189.7,211.6 190.3,211.6 190.8,211.6 191.3,211.8 191.9,211.8 192.4,212.2 193.0,212.1 193.5,212.0 194.1,211.9 194.6,212.0 195.1,211.7 195.7,211.7 196.2,211.8 196.8,211.8 197.3,212.1 197.8,212.0 198.4,212.1 198.9,212.3 199.5,212.3 200.0,212.5 200.5,212.6 201.1,212.6 201.6,212.7 202.2,212.7 202.7,212.5 203.3,212.5 203.8,212.3 204.3,212.2 204.9,212.2 205.4,211.9 206.0,212.1 206.5,212.2 207.0,212.1 207.6,211.9 208.1,211.9 208.7,211.7 209.2,212.0 209.7,211.9 210.3,211.8 210.8,212.0 211.4,211.7 211.9,211.6 212.5,211.6 213.0,211.9 213.5,211.9 214.1,212.2 214.6,212.2 215.2,212.4 215.7,212.5 216.2,212.4 216.8,212.5 217.3,212.8 217.9,212.7 218.4,212.6 218.9,212.6 219.5,212.6 220.0,212.5 220.6,212.6 221.1,212.2 221.7,212.1 222.2,212.2 222.7,211.9 223.3,211.5 223.8,211.3 224.4,211.3 224.9,211.1 225.4,210.8 226.0,210.5 226.5,210.5 227.1,210.5 227.6,209.9 228.1,209.7 228.7,209.4 229.2,208.9 229.8,208.2 230.3,207.8 230.9,207.3 231.4,206.6 231.9,206.0 232.5,204.9 233.0,203.9 233.6,202.9 234.1,201.8 234.6,200.4 235.2,198.8 235.7,197.0 236.3,195.1 236.8,192.9 237.3,190.6 237.9,188.1 238.4,185.4 239.0,182.5 239.5,179.4 240.1,176.0 240.6,172.3 241.1,168.3 241.7,164.0 242.2,159.1 242.8,153.8 243.3,147.8 243.8,141.4 244.4,134.5 244.9,127.2 245.5,119.9 246.0,112.8 246.5,106.1 247.1,100.0 247.6,94.7 248.2,90.1 248.7,86.2 249.3,83.0 249.8,80.5 250.3,78.5 250.9,77.0 251.4,75.9 252.0,74.8 252.5,74.2 253.0,73.7 253.6,73.1 254.1,72.8 254.7,72.4 255.2,72.2 255.7,71.9 256.3,71.5 256.8,71.2 257.4,71.4 257.9,71.2 258.5,70.9 259.0,70.8 259.5,70.7 260.1,70.8 260.6,70.6 261.2,70.6 261.7,70.6 262.2,70.6 262.8,70.7 263.3,70.7 263.9,70.8 264.4,70.7 264.9,70.8 265.5,70.8 266.0,71.0 266.6,71.1 267.1,71.3 267.7,71.3 268.2,70.9 268.7,70.7 269.3,70.5 269.8,70.3 270.4,70.2 270.9,69.9 271.4,69.9 272.0,69.7 272.5,69.7 273.1,70.0 273.6,70.1 274.1,70.1 274.7,70.3 275.2,70.4 275.8,70.6 276.3,70.8 276.9,70.4 277.4,70.7 277.9,70.9 278.5,70.7 279.0,70.8 279.6,71.2 280.1,71.1 280.6,71.2 281.2,71.1 281.7,71.0 282.3,71.2 282.8,71.0 283.3,70.9 283.9,71.1 284.4,71.2 285.0,70.9 285.5,70.9 286.1,71.0 286.6,70.9 287.1,71.0 287.7,71.2 288.2,71.2 288.8,71.3 289.3,71.1 289.8,70.9 290.4,71.2 290.9,71.2 291.5,71.2 292.0,71.4 292.6,71.2" fill="none" stroke="#1e6ee6" stroke-width="1.6" stroke-linejoin="round"/>
<polyline points="65.2,212.1 65.8,212.2 66.3,211.9 66.9,211.9 67.4,212.2 68.0,212.0 68.5,212.1 69.0,212.1 69.6,212.1 70.1,212.2 70.7,212.5 71.2,212.4 71.7,212.6 72.3,212.8 72.8,212.6 73.4,212.9 73.9,213.0 74.5,213.1 75.0,212.9 75.5,212.9 76.1,212.6 76.6,212.4 77.2,212.3 77.7,211.9 78.2,211.8 78.8,211.8 79.3,211.6 79.9,211.8 80.4,211.6 80.9,211.7 81.5,211.6 82.0,211.9 82.6,212.0 83.1,212.1 83.7,212.1 84.2,211.8 84.7,212.1 85.3,212.0 85.8,212.3 86.4,212.3 86.9,212.3 87.4,212.3 88.0,212.1 88.5,212.1 89.1,212.4 89.6,212.6 90.1,212.4 90.7,212.3 91.2,212.0 91.8,212.2 92.3,212.4 92.9,212.3 93.4,212.3 93.9,212.4 94.5,212.1 95.0,211.8 95.6,211.4 96.1,211.2 96.6,211.0 97.2,210.1 97.7,209.2 98.3,208.0 98.8,206.9 99.3,205.2 99.9,203.6 100.4,201.3 101.0,198.6 101.5,195.2 102.1,191.0 102.6,186.1 103.1,180.5 103.7,174.1 104.2,167.2 104.8,159.9 105.3,152.5 105.8,145.3 106.4,138.5 106.9,132.2 107.5,126.5 108.0,121.3 108.5,116.6 109.1,112.4 109.6,108.5 110.2,104.9 110.7,101.6 111.3,98.5 111.8,95.6 112.3,93.1 112.9,90.7 113.4,88.5 114.0,86.5 114.5,84.6 115.0,83.0 115.6,81.6 116.1,80.3 116.7,79.2 117.2,78.2 117.7,77.2 118.3,76.2 118.8,75.6 119.4,75.1 119.9,74.5 120.5,74.0 121.0,73.5 121.5,73.1 122.1,72.8 122.6,72.3 123.2,72.1 123.7,71.8 124.2,71.3 124.8,71.1 125.3,71.0 125.9,70.7 126.4,70.3 126.9,70.1 127.5,69.9 128.0,69.8 128.6,69.8 129.1,70.0 129.7,70.0 130.2,69.6 130.7,69.4 131.3,69.4 131.8,69.7 132.4,69.6 132.9,69.6 133.4,69.6 134.0,69.5 134.5,69.4 135.1,69.5 135.6,69.7 136.1,70.1 136.7,70.2 137.2,70.2 137.8,70.1 138.3,70.2 138.9,70.3 139.4,70.4 139.9,70.5 140.5,70.6 141.0,70.7 141.6,70.7 142.1,70.5 142.6,70.4 143.2,70.7 143.7,70.6 144.3,70.6 144.8,70.7 145.3,70.7 145.9,70.8 146.4,70.7 147.0,70.4 147.5,70.5 148.1,70.3 148.6,70.3 149.1,70.2 149.7,70.1 150.2,70.1 150.8,70.1 151.3,69.9 151.8,69.6 152.4,69.8 152.9,69.7 153.5,69.9 154.0,69.7 154.5,70.1 155.1,70.1 155.6,69.8 156.2,69.7 156.7,69.8 157.3,70.3 157.8,70.4 158.3,70.6 158.9,70.5 159.4,70.7 160.0,70.6 160.5,70.7 161.0,70.9 161.6,70.6 162.1,70.4 162.7,70.3 163.2,70.1 163.7,69.8 164.3,69.8 164.8,69.9 165.4,69.7 165.9,69.4 166.5,69.5 167.0,69.9 167.5,70.1 168.1,69.9 168.6,69.8 169.2,70.0 169.7,69.8 170.2,69.8 170.8,70.0 171.3,70.1 171.9,69.9 172.4,69.8 172.9,69.6 173.5,69.7 174.0,70.0 174.6,70.1 175.1,70.5 175.7,70.3 176.2,70.3 176.7,70.4 177.3,70.5 177.8,70.5 178.4,70.6 178.9,70.8 179.4,70.4 180.0,70.3 180.5,69.9 181.1,70.2 181.6,70.0 182.1,69.9 182.7,70.1 183.2,70.1 183.8,70.3 184.3,70.2 184.9,70.3 185.4,70.5 185.9,70.6 186.5,70.4 187.0,70.4 187.6,70.5 188.1,70.4 188.6,70.1 189.2,69.9 189.7,69.9 190.3,69.9 190.8,69.8 191.3,69.8 191.9,69.7 192.4,69.6 193.0,69.7 193.5,69.6 194.1,69.5 194.6,69.5 195.1,69.6 195.7,69.7 196.2,69.4 196.8,69.6 197.3,69.9 197.8,70.1 198.4,69.9 198.9,69.9 199.5,70.2 200.0,70.0 200.5,70.0 201.1,69.9 201.6,70.3 202.2,70.3 202.7,70.2 203.3,70.4 203.8,70.5 204.3,70.6 204.9,70.7 205.4,70.7 206.0,70.6 206.5,70.9 207.0,70.9 207.6,70.5 208.1,70.2 208.7,70.2 209.2,70.4 209.7,70.3 210.3,70.2 210.8,70.2 211.4,70.2 211.9,70.0 212.5,69.9 213.0,69.9 213.5,70.1 214.1,70.0 214.6,69.6 215.2,69.9 215.7,69.7 216.2,70.1 216.8,70.0 217.3,70.1 217.9,69.9 218.4,70.2 218.9,70.2 219.5,70.1 220.0,70.1 220.6,69.8 221.1,69.8 221.7,69.7 222.2,69.9 222.7,70.0 223.3,70.2 223.8,70.1 224.4,70.2 224.9,70.1 225.4,70.2 226.0,70.5 226.5,70.3 227.1,70.3 227.6,70.2 228.1,70.2 228.7,70.1 229.2,69.8 229.8,69.7 230.3,69.7 230.9,69.7 231.4,69.7 231.9,70.0 232.5,69.8 233.0,69.7 233.6,69.7 234.1,69.8 234.6,69.9 235.2,69.8 235.7,69.9 236.3,69.9 236.8,69.9 237.3,69.7 237.9,69.7 238.4,69.8 239.0,69.5 239.5,69.7 240.1,69.6 240.6,69.3 241.1,69.4 241.7,69.8 242.2,69.9 242.8,69.8 243.3,70.0 243.8,69.9 244.4,70.2 244.9,70.0 245.5,70.3 246.0,70.7 246.5,70.5 247.1,70.5 247.6,70.4 248.2,70.4 248.7,70.1 249.3,70.1 249.8,69.8 250.3,70.1 250.9,70.0 251.4,69.7 252.0,69.7 252.5,69.8 253.0,69.7 253.6,70.0 254.1,70.1 254.7,70.4 255.2,70.9 255.7,70.4 256.3,70.4 256.8,70.4 257.4,70.6 257.9,70.4 258.5,70.6 259.0,70.5 259.5,70.6 260.1,70.4 260.6,70.3 261.2,70.4 261.7,70.3 262.2,70.7 262.8,70.6 263.3,70.6 263.9,70.2 264.4,70.3 264.9,70.2 265.5,70.1 266.0,69.8 266.6,69.8 267.1,69.9 267.7,69.9 268.2,69.9 268.7,70.1 269.3,70.5 269.8,70.4 270.4,70.3 270.9,70.5 271.4,70.7 272.0,71.0 272.5,70.9 273.1,70.7 273.6,70.5 274.1,70.3 274.7,70.0 275.2,69.8 275.8,69.6 276.3,69.6 276.9,69.5 277.4,69.4 277.9,69.5 278.5,69.4 279.0,69.5 279.6,69.5 280.1,69.6 280.6,70.0 281.2,70.0 281.7,70.3 282.3,70.2 282.8,69.9 283.3,70.0 283.9,70.1 284.4,70.1 285.0,70.2 285.5,70.3 286.1,70.3 286.6,70.4 287.1,70.0 287.7,69.9 288.2,70.3 288.8,70.1 289.3,70.2 289.8,70.1 290.4,70.0 290.9,69.9 291.5,69.5 292.0,69.9 292.6,69.9" fill="none" stroke="#2ca45a" stroke-width="1.6" stroke-linejoin="round"/>
<polyline points="65.2,212.1 65.8,212.0 66.3,212.0 66.9,212.3 67.4,212.1 68.0,212.1 68.5,212.4 69.0,212.3 69.6,212.5 70.1,212.2 70.7,212.3 71.2,212.2 71.7,212.3 72.3,212.2 72.8,212.4 73.4,212.6 73.9,212.3 74.5,212.3 75.0,212.2 75.5,212.3 76.1,212.2 76.6,212.4 77.2,212.6 77.7,212.4 78.2,212.3 78.8,212.1 79.3,212.1 79.9,212.0 80.4,211.8 80.9,212.0 81.5,212.2 82.0,212.0 82.6,211.7 83.1,212.0 83.7,212.1 84.2,212.3 84.7,212.6 85.3,212.8 85.8,212.9 86.4,212.7 86.9,212.6 87.4,213.0 88.0,213.1 88.5,212.8 89.1,212.5 89.6,212.4 90.1,212.3 90.7,212.1 91.2,212.1 91.8,212.3 92.3,212.2 92.9,212.0 93.4,212.0 93.9,212.3 94.5,212.5 95.0,212.5 95.6,212.5 96.1,212.9 96.6,213.1 97.2,213.0 97.7,213.2 98.3,213.3 98.8,213.2 99.3,213.2 99.9,213.2 100.4,213.3 101.0,213.1 101.5,213.0 102.1,212.8 102.6,212.7 103.1,212.7 103.7,212.5 104.2,212.5 104.8,212.4 105.3,212.3 105.8,212.4 106.4,212.6 106.9,212.5 107.5,212.4 108.0,212.7 108.5,212.6 109.1,212.5 109.6,212.5 110.2,212.6 110.7,212.6 111.3,212.4 111.8,212.2 112.3,212.2 112.9,212.1 113.4,211.9 114.0,212.0 114.5,212.0 115.0,212.2 115.6,212.3 116.1,212.1 116.7,212.2 117.2,212.4 117.7,212.3 118.3,212.3 118.8,212.3 119.4,212.4 119.9,212.4 120.5,212.4 121.0,212.2 121.5,212.2 122.1,212.2 122.6,212.2 123.2,212.0 123.7,212.2 124.2,212.3 124.8,212.1 125.3,212.0 125.9,211.9 126.4,211.8 126.9,212.0 127.5,212.2 128.0,212.1 128.6,212.2 129.1,212.1 129.7,212.0 130.2,212.1 130.7,212.4 131.3,212.7 131.8,212.6 132.4,212.7 132.9,212.7 133.4,212.7 134.0,212.7 134.5,213.0 135.1,213.0 135.6,212.8 136.1,212.7 136.7,212.7 137.2,212.7 137.8,212.6 138.3,212.4 138.9,212.3 139.4,212.2 139.9,211.8 140.5,212.0 141.0,212.2 141.6,212.2 142.1,212.2 142.6,212.1 143.2,212.1 143.7,212.3 144.3,212.6 144.8,212.8 145.3,212.8 145.9,212.7 146.4,212.6 147.0,212.6 147.5,212.6 148.1,212.9 148.6,212.6 149.1,212.4 149.7,212.2 150.2,212.2 150.8,212.5 151.3,212.7 151.8,212.7 152.4,212.7 152.9,212.5 153.5,212.4 154.0,212.5 154.5,212.7 155.1,212.8 155.6,212.8 156.2,212.5 156.7,212.2 157.3,212.5 157.8,212.5 158.3,212.5 158.9,212.5 159.4,212.5 160.0,212.5 160.5,212.7 161.0,212.5 161.6,212.8 162.1,212.7 162.7,212.4 163.2,212.2 163.7,212.3 164.3,212.0 164.8,212.1 165.4,211.9 165.9,212.0 166.5,212.1 167.0,212.0 167.5,212.2 168.1,212.2 168.6,212.5 169.2,212.4 169.7,212.7 170.2,212.5 170.8,212.6 171.3,212.3 171.9,212.3 172.4,212.3 172.9,212.0 173.5,212.3 174.0,212.2 174.6,212.1 175.1,212.1 175.7,212.1 176.2,212.3 176.7,212.6 177.3,212.7 177.8,212.7 178.4,212.6 178.9,212.5 179.4,212.3 180.0,212.6 180.5,212.2 181.1,212.3 181.6,212.4 182.1,212.4 182.7,212.1 183.2,212.5 183.8,212.5 184.3,212.6 184.9,212.7 185.4,212.6 185.9,212.9 186.5,212.9 187.0,212.9 187.6,212.5 188.1,212.7 188.6,212.4 189.2,212.7 189.7,212.4 190.3,212.1 190.8,212.2 191.3,212.3 191.9,212.4 192.4,212.2 193.0,212.5 193.5,212.4 194.1,212.7 194.6,212.6 195.1,212.6 195.7,212.8 196.2,212.7 196.8,212.7 197.3,212.5 197.8,212.7 198.4,212.4 198.9,212.2 199.5,211.8 200.0,211.8 200.5,212.0 201.1,212.0 201.6,212.0 202.2,211.8 202.7,211.8 203.3,211.8 203.8,212.0 204.3,212.0 204.9,212.2 205.4,212.2 206.0,212.3 206.5,212.4 207.0,212.6 207.6,212.4 208.1,212.4 208.7,212.4 209.2,212.2 209.7,212.5 210.3,212.5 210.8,212.3 211.4,212.2 211.9,211.9 212.5,211.7 213.0,212.0 213.5,212.2 214.1,212.1 214.6,212.4 215.2,212.1 215.7,212.3 216.2,212.3 216.8,212.3 217.3,212.6 217.9,212.6 218.4,212.6 218.9,212.4 219.5,212.2 220.0,212.0 220.6,212.1 221.1,212.0 221.7,212.1 222.2,212.0 222.7,211.7 223.3,211.7 223.8,211.3 224.4,211.2 224.9,211.1 225.4,210.8 226.0,210.6 226.5,210.3 227.1,209.7 227.6,209.2 228.1,208.6 228.7,207.8 229.2,207.2 229.8,206.5 230.3,205.7 230.9,204.7 231.4,203.7 231.9,202.4 232.5,201.1 233.0,199.7 233.6,198.1 234.1,196.3 234.6,194.2 235.2,192.0 235.7,189.5 236.3,186.9 236.8,184.0 237.3,180.9 237.9,177.6 238.4,174.0 239.0,170.0 239.5,165.8 240.1,161.1 240.6,155.9 241.1,150.2 241.7,143.9 242.2,137.1 242.8,129.9 243.3,122.5 243.8,115.2 244.4,108.3 244.9,101.9 245.5,96.3 246.0,91.4 246.5,87.3 247.1,83.9 247.6,81.2 248.2,78.9 248.7,77.3 249.3,75.8 249.8,74.8 250.3,73.8 250.9,72.9 251.4,72.1 252.0,71.8 252.5,71.5 253.0,71.1 253.6,70.9 254.1,70.7 254.7,70.6 255.2,70.3 255.7,70.1 256.3,70.2 256.8,70.1 257.4,69.9 257.9,69.6 258.5,69.8 259.0,69.8 259.5,69.6 260.1,69.7 260.6,70.0 261.2,70.2 261.7,70.0 262.2,70.1 262.8,70.2 263.3,70.5 263.9,70.4 264.4,70.7 264.9,70.8 265.5,70.8 266.0,70.5 266.6,70.1 267.1,70.1 267.7,70.2 268.2,70.0 268.7,69.8 269.3,69.5 269.8,69.3 270.4,69.1 270.9,69.1 271.4,69.3 272.0,69.4 272.5,69.4 273.1,69.5 273.6,69.4 274.1,69.6 274.7,70.0 275.2,69.9 275.8,69.8 276.3,69.6 276.9,69.8 277.4,69.8 277.9,69.8 278.5,69.4 279.0,69.4 279.6,69.2 280.1,68.9 280.6,69.1 281.2,69.2 281.7,69.1 282.3,68.8 282.8,68.8 283.3,69.1 283.9,69.1 284.4,69.2 285.0,69.1 285.5,69.4 286.1,69.3 286.6,69.1 287.1,69.4 287.7,69.3 288.2,69.6 288.8,69.7 289.3,69.9 289.8,70.0 290.4,70.2 290.9,69.9 291.5,70.0 292.0,70.0 292.6,70.0" fill="none" stroke="#2ca45a" stroke-width="1.6" stroke-linejoin="round"/>
<polyline points="65.2,212.2 65.8,212.2 66.3,212.2 66.9,212.6 67.4,212.7 68.0,212.9 68.5,212.9 69.0,212.8 69.6,213.0 70.1,212.9 70.7,212.9 71.2,213.2 71.7,213.4 72.3,213.3 72.8,213.1 73.4,212.8 73.9,212.8 74.5,213.1 75.0,213.1 75.5,213.1 76.1,213.1 76.6,213.0 77.2,212.7 77.7,212.8 78.2,212.9 78.8,213.1 79.3,212.9 79.9,212.9 80.4,212.9 80.9,212.7 81.5,212.8 82.0,213.0 82.6,212.9 83.1,212.7 83.7,212.6 84.2,212.5 84.7,212.6 85.3,212.3 85.8,212.2 86.4,212.2 86.9,212.2 87.4,212.0 88.0,212.3 88.5,212.3 89.1,212.7 89.6,212.8 90.1,212.6 90.7,212.8 91.2,212.7 91.8,213.0 92.3,212.9 92.9,213.2 93.4,213.0 93.9,212.9 94.5,212.6 95.0,212.5 95.6,212.4 96.1,212.2 96.6,212.2 97.2,212.2 97.7,211.9 98.3,211.6 98.8,211.3 99.3,211.2 99.9,210.9 100.4,210.4 101.0,210.1 101.5,209.6 102.1,208.8 102.6,207.5 103.1,206.3 103.7,204.7 104.2,202.7 104.8,200.2 105.3,197.1 105.8,193.3 106.4,188.8 106.9,183.5 107.5,177.4 108.0,170.7 108.5,163.5 109.1,156.1 109.6,148.8 110.2,141.7 110.7,135.1 111.3,129.0 111.8,123.5 112.3,118.6 112.9,114.1 113.4,110.0 114.0,106.2 114.5,102.7 115.0,99.5 115.6,96.5 116.1,93.7 116.7,91.2 117.2,88.9 117.7,86.7 118.3,84.8 118.8,83.0 119.4,81.2 119.9,79.7 120.5,78.4 121.0,77.3 121.5,76.1 122.1,75.2 122.6,74.3 123.2,73.6 123.7,73.1 124.2,72.7 124.8,72.1 125.3,71.7 125.9,71.5 126.4,71.3 126.9,71.2 127.5,70.8 128.0,70.8 128.6,70.5 129.1,70.3 129.7,70.3 130.2,70.5 130.7,70.6 131.3,70.5 131.8,70.1 132.4,69.8 132.9,70.0 133.4,69.9 134.0,69.8 134.5,69.7 135.1,69.7 135.6,69.5 136.1,69.5 136.7,69.6 137.2,69.8 137.8,70.0 138.3,69.7 138.9,69.7 139.4,70.0 139.9,69.7 140.5,69.6 141.0,69.4 141.6,69.2 142.1,69.0 142.6,69.0 143.2,69.1 143.7,69.2 144.3,69.1 144.8,68.9 145.3,69.0 145.9,68.9 146.4,69.1 147.0,69.3 147.5,69.2 148.1,69.1 148.6,69.0 149.1,69.1 149.7,69.2 150.2,69.1 150.8,69.4 151.3,69.3 151.8,69.2 152.4,69.2 152.9,69.2 153.5,69.3 154.0,69.3 154.5,69.6 155.1,69.5 155.6,69.5 156.2,69.2 156.7,69.4 157.3,69.3 157.8,69.4 158.3,69.6 158.9,69.5 159.4,69.2 160.0,68.9 160.5,68.9 161.0,68.8 161.6,69.0 162.1,68.7 162.7,68.8 163.2,68.7 163.7,68.6 164.3,68.6 164.8,68.8 165.4,69.0 165.9,68.9 166.5,69.1 167.0,69.0 167.5,69.1 168.1,69.0 168.6,69.1 169.2,69.2 169.7,69.5 170.2,69.5 170.8,69.3 171.3,69.3 171.9,69.3 172.4,69.2 172.9,69.4 173.5,69.5 174.0,69.4 174.6,69.2 175.1,68.9 175.7,68.7 176.2,68.9 176.7,68.9 177.3,68.9 177.8,68.9 178.4,68.7 178.9,68.6 179.4,68.4 180.0,68.4 180.5,68.5 181.1,68.4 181.6,68.4 182.1,68.4 182.7,68.5 183.2,68.4 183.8,68.7 184.3,69.0 184.9,69.1 185.4,69.1 185.9,69.3 186.5,69.6 187.0,69.5 187.6,69.8 188.1,69.8 188.6,69.6 189.2,69.4 189.7,69.3 190.3,69.2 190.8,69.6 191.3,69.3 191.9,69.3 192.4,69.4 193.0,69.1 193.5,69.4 194.1,69.7 194.6,70.0 195.1,70.0 195.7,70.0 196.2,69.7 196.8,70.0 197.3,69.8 197.8,69.8 198.4,70.0 198.9,69.7 199.5,69.7 200.0,69.6 200.5,69.5 201.1,69.7 201.6,69.7 202.2,69.6 202.7,69.6 203.3,69.3 203.8,69.2 204.3,69.4 204.9,69.2 205.4,69.4 206.0,69.4 206.5,69.3 207.0,69.6 207.6,69.5 208.1,69.5 208.7,69.6 209.2,69.7 209.7,69.4 210.3,69.5 210.8,69.4 211.4,69.3 211.9,69.0 212.5,68.7 213.0,68.6 213.5,68.7 214.1,68.6 214.6,68.7 215.2,68.7 215.7,68.9 216.2,68.8 216.8,68.9 217.3,69.0 217.9,69.2 218.4,69.5 218.9,69.5 219.5,69.8 220.0,69.7 220.6,69.8 221.1,69.5 221.7,69.5 222.2,69.6 222.7,69.8 223.3,69.7 223.8,69.8 224.4,69.8 224.9,69.7 225.4,69.5 226.0,69.2 226.5,69.2 227.1,69.0 227.6,68.8 228.1,68.5 228.7,68.5 229.2,68.6 229.8,68.6 230.3,68.9 230.9,68.8 231.4,68.9 231.9,68.9 232.5,69.2 233.0,69.5 233.6,69.7 234.1,69.8 234.6,69.4 235.2,69.3 235.7,69.3 236.3,69.6 236.8,69.8 237.3,69.7 237.9,69.4 238.4,69.4 239.0,69.4 239.5,69.6 240.1,70.0 240.6,69.8 241.1,69.6 241.7,69.2 242.2,69.0 242.8,69.0 243.3,69.2 243.8,69.0 244.4,69.0 244.9,69.0 245.5,68.8 246.0,69.0 246.5,69.1 247.1,69.4 247.6,69.8 248.2,69.7 248.7,69.6 249.3,69.6 249.8,69.2 250.3,69.1 250.9,69.0 251.4,69.0 252.0,68.8 252.5,68.5 253.0,68.5 253.6,68.9 254.1,69.1 254.7,69.2 255.2,69.5 255.7,69.7 256.3,69.6 256.8,69.5 257.4,69.6 257.9,70.0 258.5,69.6 259.0,69.4 259.5,69.5 260.1,69.6 260.6,69.5 261.2,69.1 261.7,69.2 262.2,69.3 262.8,69.4 263.3,69.3 263.9,69.3 264.4,69.4 264.9,69.4 265.5,69.3 266.0,69.5 266.6,69.8 267.1,69.8 267.7,69.8 268.2,69.6 268.7,69.4 269.3,69.6 269.8,69.8 270.4,69.5 270.9,69.7 271.4,69.6 272.0,69.5 272.5,69.4 273.1,69.3 273.6,69.5 274.1,69.5 274.7,69.4 275.2,69.3 275.8,69.5 276.3,69.1 276.9,69.1 277.4,69.2 277.9,69.4 278.5,69.3 279.0,69.3 279.6,69.4 280.1,69.4 280.6,69.2 281.2,69.0 281.7,69.1 282.3,69.3 282.8,69.3 283.3,69.0 283.9,69.1 284.4,69.2 285.0,69.3 285.5,69.5 286.1,69.5 286.6,69.7 287.1,69.7 287.7,69.3 288.2,69.1 288.8,69.1 289.3,69.3 289.8,69.3 290.4,69.3 290.9,69.1 291.5,69.4 292.0,69.1 292.6,69.1" fill="none" stroke="#b07cf0" stroke-width="1.6" stroke-linejoin="round"/>
<polyline points="65.2,212.5 65.8,212.5 66.3,212.3 66.9,212.3 67.4,212.1 68.0,212.1 68.5,212.4 69.0,212.8 69.6,212.6 70.1,212.8 70.7,212.9 71.2,213.2 71.7,213.1 72.3,213.4 72.8,213.3 73.4,213.3 73.9,213.1 74.5,213.1 75.0,213.0 75.5,213.1 76.1,213.1 76.6,213.0 77.2,212.9 77.7,212.7 78.2,212.9 78.8,213.2 79.3,213.1 79.9,212.8 80.4,212.7 80.9,212.7 81.5,212.8 82.0,212.7 82.6,212.8 83.1,212.9 83.7,212.8 84.2,212.4 84.7,212.4 85.3,212.8 85.8,213.1 86.4,213.1 86.9,213.0 87.4,212.8 88.0,213.0 88.5,212.8 89.1,212.9 89.6,213.1 90.1,213.1 90.7,212.7 91.2,212.4 91.8,212.1 92.3,212.0 92.9,211.9 93.4,211.8 93.9,212.0 94.5,211.9 95.0,211.8 95.6,211.9 96.1,211.9 96.6,212.2 97.2,212.1 97.7,212.3 98.3,212.4 98.8,212.6 99.3,212.4 99.9,212.6 100.4,212.8 101.0,213.0 101.5,213.2 102.1,212.8 102.6,212.9 103.1,212.7 103.7,212.7 104.2,212.4 104.8,212.1 105.3,212.0 105.8,212.0 106.4,211.9 106.9,211.9 107.5,212.4 108.0,212.5 108.5,212.6 109.1,212.5 109.6,212.7 110.2,212.8 110.7,212.8 111.3,212.5 111.8,212.3 112.3,212.2 112.9,212.2 113.4,211.9 114.0,212.2 114.5,212.3 115.0,212.3 115.6,212.4 116.1,212.3 116.7,212.6 117.2,212.8 117.7,212.7 118.3,212.5 118.8,212.5 119.4,212.4 119.9,212.3 120.5,212.2 121.0,212.0 121.5,212.4 122.1,212.3 122.6,212.4 123.2,212.3 123.7,212.6 124.2,212.9 124.8,212.7 125.3,212.7 125.9,212.9 126.4,213.1 126.9,212.9 127.5,212.7 128.0,212.5 128.6,212.5 129.1,212.4 129.7,212.4 130.2,212.7 130.7,212.9 131.3,212.9 131.8,212.9 132.4,212.8 132.9,212.8 133.4,212.9 134.0,212.9 134.5,212.8 135.1,212.6 135.6,212.5 136.1,212.7 136.7,212.8 137.2,212.9 137.8,213.2 138.3,213.4 138.9,213.6 139.4,213.7 139.9,213.5 140.5,213.5 141.0,213.5 141.6,213.2 142.1,213.2 142.6,213.1 143.2,213.2 143.7,213.0 144.3,212.8 144.8,212.8 145.3,212.9 145.9,213.2 146.4,212.9 147.0,213.1 147.5,212.8 148.1,212.8 148.6,212.6 149.1,212.7 149.7,212.6 150.2,212.4 150.8,212.5 151.3,212.4 151.8,212.8 152.4,212.9 152.9,212.8 153.5,212.8 154.0,212.8 154.5,212.7 155.1,212.8 155.6,213.0 156.2,213.3 156.7,213.4 157.3,212.9 157.8,212.8 158.3,213.0 158.9,212.8 159.4,213.0 160.0,213.2 160.5,213.5 161.0,213.2 161.6,213.2 162.1,212.8 162.7,213.1 163.2,212.9 163.7,213.2 164.3,213.1 164.8,213.1 165.4,212.9 165.9,212.7 166.5,213.0 167.0,213.0 167.5,213.0 168.1,213.1 168.6,213.2 169.2,213.0 169.7,213.2 170.2,213.2 170.8,213.3 171.3,213.3 171.9,213.2 172.4,213.1 172.9,213.2 173.5,213.0 174.0,213.1 174.6,213.1 175.1,212.9 175.7,212.9 176.2,212.9 176.7,212.9 177.3,213.0 177.8,213.1 178.4,213.0 178.9,213.3 179.4,213.3 180.0,213.4 180.5,213.7 181.1,213.7 181.6,213.5 182.1,213.6 182.7,213.7 183.2,213.7 183.8,213.8 184.3,213.4 184.9,213.3 185.4,213.4 185.9,213.4 186.5,213.2 187.0,213.1 187.6,212.8 188.1,212.4 188.6,212.2 189.2,212.3 189.7,212.3 190.3,212.4 190.8,212.3 191.3,212.3 191.9,212.3 192.4,212.4 193.0,212.8 193.5,213.1 194.1,213.0 194.6,212.9 195.1,213.0 195.7,213.2 196.2,213.1 196.8,213.0 197.3,213.3 197.8,213.1 198.4,213.0 198.9,213.0 199.5,213.0 200.0,213.0 200.5,213.2 201.1,213.3 201.6,213.2 202.2,213.1 202.7,213.2 203.3,213.3 203.8,213.1 204.3,212.9 204.9,213.2 205.4,213.2 206.0,213.0 206.5,212.7 207.0,213.0 207.6,212.8 208.1,212.4 208.7,212.3 209.2,212.2 209.7,212.3 210.3,212.0 210.8,212.1 211.4,212.3 211.9,212.3 212.5,212.0 213.0,212.3 213.5,212.6 214.1,212.8 214.6,213.0 215.2,213.1 215.7,213.3 216.2,213.1 216.8,212.9 217.3,212.7 217.9,212.8 218.4,212.5 218.9,212.5 219.5,212.0 220.0,212.0 220.6,211.8 221.1,211.5 221.7,211.3 222.2,211.2 222.7,210.9 223.3,210.6 223.8,210.6 224.4,210.0 224.9,209.9 225.4,209.2 226.0,208.8 226.5,208.4 227.1,207.9 227.6,207.3 228.1,206.7 228.7,206.0 229.2,204.9 229.8,204.0 230.3,202.8 230.9,201.6 231.4,200.0 231.9,198.3 232.5,196.5 233.0,194.5 233.6,192.2 234.1,189.7 234.6,187.0 235.2,184.1 235.7,181.0 236.3,177.7 236.8,174.0 237.3,170.1 237.9,165.8 238.4,161.1 239.0,155.8 239.5,150.0 240.1,143.7 240.6,136.8 241.1,129.6 241.7,122.2 242.2,114.9 242.8,107.9 243.3,101.5 243.8,95.7 244.4,90.8 244.9,86.6 245.5,83.1 246.0,80.1 246.5,77.7 247.1,76.0 247.6,74.3 248.2,73.2 248.7,72.6 249.3,72.0 249.8,71.7 250.3,71.2 250.9,70.7 251.4,70.6 252.0,70.3 252.5,69.8 253.0,69.7 253.6,69.4 254.1,69.1 254.7,69.1 255.2,69.1 255.7,69.2 256.3,69.2 256.8,69.1 257.4,68.9 257.9,68.8 258.5,69.1 259.0,69.3 259.5,69.1 260.1,68.9 260.6,69.0 261.2,68.9 261.7,69.1 262.2,69.3 262.8,69.6 263.3,69.7 263.9,69.5 264.4,69.5 264.9,69.6 265.5,69.6 266.0,69.4 266.6,69.5 267.1,69.2 267.7,69.3 268.2,69.3 268.7,69.2 269.3,69.2 269.8,68.9 270.4,69.2 270.9,69.0 271.4,68.9 272.0,69.1 272.5,69.2 273.1,68.8 273.6,69.0 274.1,69.1 274.7,69.0 275.2,68.8 275.8,68.8 276.3,68.9 276.9,69.1 277.4,68.9 277.9,68.8 278.5,69.1 279.0,69.1 279.6,69.2 280.1,69.5 280.6,69.9 281.2,69.9 281.7,70.1 282.3,70.1 282.8,70.3 283.3,70.4 283.9,70.0 284.4,69.9 285.0,69.8 285.5,69.6 286.1,69.5 286.6,69.4 287.1,69.4 287.7,69.6 288.2,69.3 288.8,69.5 289.3,69.8 289.8,69.6 290.4,69.4 290.9,69.3 291.5,69.3 292.0,69.1 292.6,69.0" fill="none" stroke="#b07cf0" stroke-width="1.6" stroke-linejoin="round"/>
<polyline points="65.2,212.9 65.8,213.0 66.3,213.1 66.9,212.9 67.4,212.9 68.0,213.2 68.5,213.5 69.0,213.8 69.6,213.9 70.1,214.1 70.7,214.1 71.2,214.0 71.7,213.9 72.3,213.8 72.8,213.9 73.4,213.9 73.9,213.5 74.5,213.1 75.0,213.4 75.5,213.2 76.1,213.1 76.6,213.1 77.2,213.2 77.7,213.4 78.2,213.3 78.8,213.3 79.3,213.7 79.9,214.1 80.4,214.1 80.9,214.0 81.5,213.9 82.0,213.9 82.6,213.8 83.1,213.7 83.7,213.6 84.2,213.4 84.7,213.4 85.3,213.0 85.8,212.8 86.4,213.1 86.9,213.3 87.4,213.1 88.0,213.3 88.5,213.3 89.1,213.4 89.6,213.2 90.1,213.0 90.7,213.3 91.2,213.3 91.8,213.3 92.3,213.0 92.9,213.0 93.4,212.8 93.9,213.0 94.5,213.1 95.0,213.1 95.6,213.2 96.1,213.2 96.6,213.4 97.2,213.2 97.7,213.4 98.3,213.5 98.8,213.7 99.3,213.7 99.9,213.5 100.4,213.6 101.0,213.5 101.5,213.5 102.1,213.2 102.6,213.3 103.1,213.2 103.7,213.1 104.2,212.7 104.8,212.4 105.3,212.0 105.8,211.9 106.4,211.8 106.9,211.1 107.5,210.8 108.0,210.2 108.5,209.4 109.1,208.3 109.6,206.9 110.2,205.3 110.7,203.2 111.3,200.5 111.8,197.4 112.3,193.6 112.9,189.0 113.4,183.7 114.0,177.6 114.5,170.9 115.0,163.6 115.6,156.2 116.1,148.8 116.7,141.7 117.2,135.1 117.7,129.0 118.3,123.4 118.8,118.5 119.4,113.9 119.9,109.8 120.5,106.0 121.0,102.5 121.5,99.3 122.1,96.3 122.6,93.6 123.2,91.1 123.7,88.7 124.2,86.5 124.8,84.6 125.3,82.8 125.9,81.3 126.4,79.9 126.9,78.7 127.5,77.6 128.0,76.4 128.6,75.4 129.1,74.6 129.7,73.8 130.2,72.9 130.7,72.4 131.3,71.9 131.8,71.5 132.4,71.0 132.9,70.9 133.4,70.9 134.0,70.4 134.5,70.0 135.1,70.1 135.6,70.2 136.1,70.0 136.7,69.8 137.2,69.9 137.8,69.7 138.3,69.5 138.9,69.2 139.4,69.5 139.9,69.7 140.5,69.7 141.0,69.4 141.6,69.6 142.1,69.6 142.6,69.3 143.2,69.5 143.7,69.8 144.3,69.9 144.8,69.9 145.3,69.8 145.9,69.5 146.4,69.8 147.0,69.8 147.5,69.5 148.1,69.7 148.6,69.6 149.1,69.6 149.7,69.5 150.2,69.1 150.8,69.3 151.3,69.6 151.8,69.3 152.4,69.0 152.9,68.9 153.5,68.9 154.0,68.6 154.5,68.4 155.1,68.4 155.6,68.6 156.2,68.4 156.7,68.2 157.3,68.4 157.8,68.7 158.3,68.7 158.9,68.9 159.4,68.9 160.0,69.0 160.5,69.1 161.0,69.2 161.6,69.3 162.1,69.1 162.7,69.1 163.2,68.9 163.7,69.1 164.3,69.1 164.8,69.1 165.4,69.1 165.9,69.2 166.5,69.1 167.0,68.9 167.5,69.0 168.1,68.8 168.6,69.2 169.2,69.0 169.7,68.8 170.2,68.7 170.8,68.4 171.3,68.4 171.9,68.2 172.4,68.2 172.9,68.5 173.5,68.6 174.0,68.4 174.6,68.6 175.1,68.7 175.7,69.0 176.2,69.3 176.7,69.1 177.3,69.3 177.8,69.4 178.4,69.1 178.9,68.9 179.4,69.0 180.0,68.7 180.5,68.5 181.1,68.1 181.6,67.9 182.1,68.0 182.7,67.8 183.2,68.0 183.8,68.1 184.3,68.3 184.9,68.0 185.4,68.3 185.9,68.5 186.5,68.7 187.0,68.7 187.6,68.9 188.1,68.9 188.6,68.6 189.2,68.5 189.7,68.6 190.3,68.6 190.8,68.3 191.3,68.2 191.9,68.1 192.4,68.4 193.0,68.2 193.5,68.3 194.1,68.5 194.6,68.7 195.1,68.5 195.7,68.5 196.2,68.5 196.8,68.7 197.3,68.8 197.8,68.7 198.4,69.1 198.9,69.2 199.5,69.4 200.0,69.2 200.5,69.4 201.1,69.7 201.6,70.1 202.2,69.8 202.7,69.9 203.3,69.8 203.8,69.7 204.3,69.5 204.9,69.1 205.4,69.3 206.0,69.1 206.5,68.7 207.0,68.6 207.6,68.5 208.1,68.2 208.7,68.3 209.2,68.1 209.7,68.2 210.3,68.6 210.8,68.5 211.4,68.4 211.9,68.5 212.5,68.5 213.0,68.7 213.5,68.7 214.1,68.5 214.6,68.8 215.2,68.9 215.7,68.8 216.2,68.6 216.8,68.7 217.3,68.9 217.9,68.7 218.4,68.8 218.9,69.0 219.5,69.1 220.0,68.8 220.6,68.8 221.1,68.9 221.7,69.1 222.2,69.1 222.7,68.8 223.3,69.0 223.8,68.9 224.4,68.9 224.9,68.7 225.4,68.9 226.0,68.7 226.5,68.3 227.1,68.4 227.6,68.6 228.1,68.6 228.7,68.4 229.2,68.4 229.8,68.6 230.3,68.8 230.9,68.5 231.4,68.8 231.9,69.0 232.5,69.0 233.0,68.9 233.6,69.1 234.1,69.1 234.6,68.8 235.2,68.7 235.7,68.5 236.3,68.7 236.8,68.4 237.3,68.4 237.9,68.3 238.4,68.2 239.0,68.1 239.5,68.1 240.1,68.4 240.6,68.7 241.1,68.8 241.7,68.5 242.2,68.5 242.8,68.3 243.3,68.4 243.8,68.4 244.4,68.3 244.9,68.7 245.5,68.5 246.0,68.1 246.5,68.2 247.1,68.3 247.6,68.6 248.2,68.9 248.7,68.9 249.3,69.1 249.8,69.1 250.3,69.2 250.9,69.4 251.4,69.6 252.0,69.5 252.5,69.4 253.0,69.4 253.6,69.5 254.1,69.4 254.7,69.6 255.2,69.5 255.7,69.1 256.3,69.1 256.8,69.0 257.4,69.0 257.9,69.0 258.5,68.7 259.0,68.5 259.5,68.7 260.1,68.4 260.6,68.2 261.2,68.6 261.7,68.3 262.2,68.3 262.8,68.6 263.3,68.9 263.9,68.9 264.4,68.9 264.9,68.9 265.5,69.1 266.0,69.2 266.6,68.8 267.1,69.1 267.7,68.9 268.2,68.9 268.7,68.8 269.3,69.1 269.8,69.2 270.4,69.0 270.9,69.1 271.4,69.3 272.0,69.6 272.5,69.7 273.1,70.0 273.6,70.0 274.1,69.8 274.7,69.8 275.2,69.8 275.8,69.9 276.3,69.6 276.9,69.4 277.4,69.1 277.9,68.9 278.5,68.9 279.0,68.8 279.6,69.0 280.1,69.0 280.6,69.2 281.2,69.0 281.7,69.0 282.3,69.1 282.8,69.3 283.3,69.4 283.9,69.3 284.4,69.2 285.0,69.1 285.5,69.1 286.1,68.8 286.6,68.9 287.1,69.3 287.7,69.1 288.2,68.9 288.8,68.9 289.3,68.8 289.8,68.7 290.4,68.7 290.9,68.6 291.5,68.8 292.0,68.9 292.6,68.6" fill="none" stroke="#d4a015" stroke-width="1.6" stroke-linejoin="round"/>
<polyline points="65.2,212.6 65.8,212.8 66.3,212.8 66.9,212.9 67.4,212.9 68.0,212.9 68.5,213.1 69.0,213.3 69.6,213.2 70.1,213.4 70.7,213.5 71.2,213.3 71.7,213.2 72.3,213.0 72.8,213.0 73.4,213.1 73.9,212.9 74.5,212.9 75.0,212.9 75.5,212.9 76.1,212.7 76.6,213.0 77.2,213.0 77.7,213.0 78.2,213.3 78.8,213.2 79.3,213.1 79.9,213.2 80.4,213.2 80.9,213.1 81.5,213.4 82.0,213.2 82.6,213.3 83.1,213.4 83.7,213.5 84.2,213.6 84.7,213.8 85.3,213.8 85.8,213.9 86.4,214.1 86.9,213.9 87.4,213.9 88.0,213.5 88.5,213.2 89.1,212.9 89.6,212.9 90.1,212.9 90.7,212.6 91.2,212.4 91.8,212.5 92.3,212.5 92.9,212.4 93.4,212.6 93.9,213.0 94.5,212.9 95.0,213.0 95.6,212.7 96.1,212.7 96.6,212.9 97.2,212.9 97.7,213.2 98.3,213.6 98.8,213.4 99.3,213.2 99.9,213.5 100.4,213.8 101.0,214.0 101.5,214.1 102.1,213.9 102.6,213.5 103.1,213.4 103.7,212.9 104.2,213.1 104.8,213.2 105.3,213.1 105.8,213.1 106.4,212.7 106.9,212.6 107.5,212.5 108.0,212.9 108.5,213.0 109.1,213.3 109.6,213.4 110.2,213.2 110.7,213.3 111.3,213.2 111.8,213.3 112.3,213.7 112.9,213.8 113.4,213.6 114.0,213.4 114.5,213.3 115.0,213.0 115.6,213.1 116.1,213.0 116.7,213.0 117.2,212.9 117.7,212.5 118.3,212.3 118.8,212.4 119.4,212.6 119.9,212.7 120.5,213.0 121.0,212.9 121.5,213.1 122.1,212.9 122.6,213.0 123.2,213.1 123.7,213.5 124.2,213.4 124.8,213.3 125.3,213.1 125.9,213.0 126.4,213.0 126.9,212.8 127.5,212.7 128.0,212.7 128.6,212.5 129.1,212.2 129.7,212.4 130.2,212.4 130.7,212.6 131.3,212.5 131.8,212.4 132.4,212.3 132.9,212.3 133.4,212.3 134.0,212.4 134.5,212.6 135.1,212.4 135.6,212.4 136.1,212.3 136.7,212.6 137.2,212.6 137.8,212.7 138.3,212.9 138.9,213.0 139.4,213.2 139.9,213.0 140.5,213.0 141.0,213.0 141.6,212.9 142.1,212.8 142.6,212.7 143.2,212.7 143.7,212.6 144.3,212.6 144.8,212.6 145.3,212.7 145.9,213.0 146.4,212.9 147.0,213.2 147.5,213.1 148.1,213.3 148.6,213.2 149.1,213.3 149.7,213.4 150.2,213.1 150.8,213.4 151.3,213.3 151.8,213.1 152.4,213.0 152.9,213.1 153.5,213.2 154.0,213.3 154.5,213.0 155.1,213.0 155.6,212.8 156.2,212.7 156.7,212.6 157.3,212.6 157.8,212.3 158.3,212.4 158.9,212.2 159.4,212.2 160.0,212.2 160.5,212.4 161.0,212.7 161.6,212.6 162.1,212.8 162.7,212.8 163.2,213.2 163.7,212.9 164.3,213.1 164.8,212.9 165.4,213.3 165.9,213.2 166.5,213.1 167.0,213.3 167.5,213.0 168.1,213.3 168.6,213.1 169.2,213.5 169.7,213.4 170.2,213.3 170.8,213.3 171.3,213.4 171.9,213.4 172.4,213.2 172.9,213.2 173.5,213.1 174.0,212.9 174.6,212.8 175.1,213.1 175.7,213.2 176.2,213.1 176.7,213.3 177.3,213.3 177.8,213.4 178.4,213.7 178.9,213.4 179.4,213.6 180.0,213.3 180.5,213.3 181.1,213.3 181.6,213.2 182.1,212.9 182.7,212.8 183.2,212.6 183.8,212.3 184.3,212.4 184.9,212.4 185.4,212.4 185.9,212.3 186.5,212.6 187.0,212.3 187.6,212.4 188.1,212.4 188.6,212.5 189.2,212.7 189.7,212.8 190.3,212.6 190.8,212.6 191.3,212.4 191.9,212.4 192.4,212.5 193.0,212.6 193.5,212.7 194.1,212.9 194.6,213.0 195.1,213.0 195.7,213.1 196.2,213.4 196.8,213.7 197.3,213.5 197.8,213.5 198.4,213.4 198.9,213.5 199.5,213.2 200.0,213.1 200.5,212.9 201.1,212.7 201.6,212.7 202.2,212.7 202.7,212.5 203.3,212.6 203.8,212.6 204.3,212.6 204.9,212.9 205.4,213.0 206.0,213.4 206.5,213.7 207.0,213.4 207.6,213.4 208.1,213.4 208.7,213.3 209.2,213.3 209.7,213.0 210.3,212.8 210.8,212.6 211.4,212.2 211.9,212.0 212.5,212.1 213.0,212.0 213.5,212.3 214.1,212.1 214.6,212.1 215.2,212.0 215.7,212.1 216.2,212.2 216.8,212.2 217.3,212.3 217.9,212.0 218.4,212.0 218.9,211.6 219.5,211.5 220.0,211.0 220.6,210.7 221.1,210.0 221.7,209.3 222.2,208.8 222.7,208.3 223.3,207.8 223.8,207.0 224.4,206.1 224.9,205.3 225.4,204.3 226.0,203.4 226.5,202.2 227.1,200.6 227.6,199.0 228.1,197.0 228.7,195.0 229.2,192.8 229.8,190.4 230.3,187.8 230.9,184.9 231.4,181.8 231.9,178.5 232.5,174.9 233.0,171.0 233.6,166.8 234.1,162.1 234.6,157.0 235.2,151.3 235.7,145.0 236.3,138.2 236.8,131.0 237.3,123.6 237.9,116.2 238.4,109.1 239.0,102.5 239.5,96.6 240.1,91.5 240.6,87.1 241.1,83.3 241.7,80.3 242.2,77.9 242.8,75.8 243.3,74.4 243.8,73.0 244.4,71.9 244.9,71.1 245.5,70.4 246.0,70.2 246.5,70.2 247.1,70.2 247.6,70.2 248.2,70.0 248.7,69.6 249.3,69.7 249.8,69.7 250.3,69.5 250.9,69.6 251.4,69.5 252.0,69.3 252.5,69.3 253.0,69.3 253.6,69.4 254.1,69.6 254.7,69.4 255.2,69.5 255.7,69.4 256.3,69.5 256.8,69.6 257.4,69.7 257.9,69.5 258.5,69.4 259.0,69.2 259.5,69.2 260.1,69.3 260.6,69.0 261.2,69.2 261.7,69.0 262.2,68.7 262.8,68.6 263.3,68.7 263.9,68.8 264.4,69.1 264.9,69.1 265.5,69.3 266.0,69.4 266.6,69.4 267.1,69.5 267.7,69.7 268.2,69.6 268.7,69.5 269.3,69.5 269.8,69.4 270.4,69.4 270.9,69.0 271.4,69.0 272.0,69.0 272.5,69.1 273.1,69.3 273.6,69.6 274.1,69.4 274.7,69.1 275.2,69.2 275.8,69.1 276.3,69.5 276.9,69.5 277.4,69.6 277.9,69.6 278.5,69.3 279.0,69.0 279.6,69.2 280.1,69.4 280.6,69.2 281.2,69.3 281.7,69.0 282.3,69.2 282.8,68.9 283.3,69.0 283.9,69.2 284.4,69.3 285.0,69.5 285.5,69.5 286.1,69.5 286.6,69.3 287.1,69.4 287.7,69.3 288.2,69.4 288.8,69.3 289.3,69.3 289.8,69.1 290.4,69.0 290.9,69.0 291.5,69.3 292.0,69.5 292.6,69.2" fill="none" stroke="#d4a015" stroke-width="1.6" stroke-linejoin="round"/>
<line x1="81.49" y1="232.80" x2="81.49" y2="228.80" stroke="#1a1a1a" stroke-width="1.2" />
<line x1="130.19" y1="232.80" x2="130.19" y2="228.80" stroke="#1a1a1a" stroke-width="1.2" />
<line x1="178.90" y1="232.80" x2="178.90" y2="228.80" stroke="#1a1a1a" stroke-width="1.2" />
<line x1="227.61" y1="232.80" x2="227.61" y2="228.80" stroke="#1a1a1a" stroke-width="1.2" />
<line x1="276.31" y1="232.80" x2="276.31" y2="228.80" stroke="#1a1a1a" stroke-width="1.2" />
<line x1="105.84" y1="232.80" x2="105.84" y2="230.30" stroke="#1a1a1a" stroke-width="1.0" />
<line x1="154.55" y1="232.80" x2="154.55" y2="230.30" stroke="#1a1a1a" stroke-width="1.0" />
<line x1="203.25" y1="232.80" x2="203.25" y2="230.30" stroke="#1a1a1a" stroke-width="1.0" />
<line x1="251.96" y1="232.80" x2="251.96" y2="230.30" stroke="#1a1a1a" stroke-width="1.0" />
<line x1="65.25" y1="68.20" x2="69.25" y2="68.20" stroke="#1a1a1a" stroke-width="1.2" />
<line x1="65.25" y1="104.70" x2="69.25" y2="104.70" stroke="#1a1a1a" stroke-width="1.2" />
<line x1="65.25" y1="141.20" x2="69.25" y2="141.20" stroke="#1a1a1a" stroke-width="1.2" />
<line x1="65.25" y1="177.70" x2="69.25" y2="177.70" stroke="#1a1a1a" stroke-width="1.2" />
<line x1="65.25" y1="214.20" x2="69.25" y2="214.20" stroke="#1a1a1a" stroke-width="1.2" />
<line x1="65.25" y1="86.45" x2="67.75" y2="86.45" stroke="#1a1a1a" stroke-width="1.0" />
<line x1="65.25" y1="122.95" x2="67.75" y2="122.95" stroke="#1a1a1a" stroke-width="1.0" />
<line x1="65.25" y1="159.45" x2="67.75" y2="159.45" stroke="#1a1a1a" stroke-width="1.0" />
<line x1="65.25" y1="195.95" x2="67.75" y2="195.95" stroke="#1a1a1a" stroke-width="1.0" />
<rect x="65.25" y="49.75" width="227.30" height="183.05" fill="none" stroke="#1a1a1a" stroke-width="1.5"/>
<text x="81.49" y="246.60" font-size="12" text-anchor="middle" font-family="Liberation Serif" font-weight="bold" stroke="#000" stroke-width="0.22" >−600</text>
<text x="130.19" y="246.60" font-size="12" text-anchor="middle" font-family="Liberation Serif" font-weight="bold" stroke="#000" stroke-width="0.22" >−300</text>
<text x="178.90" y="246.60" font-size="12" text-anchor="middle" font-family="Liberation Serif" font-weight="bold" stroke="#000" stroke-width="0.22" >0</text>
<text x="227.61" y="246.60" font-size="12" text-anchor="middle" font-family="Liberation Serif" font-weight="bold" stroke="#000" stroke-width="0.22" >300</text>
<text x="276.31" y="246.60" font-size="12" text-anchor="middle" font-family="Liberation Serif" font-weight="bold" stroke="#000" stroke-width="0.22" >600</text>
<text x="62.00" y="72.30" font-size="12" text-anchor="end" font-family="Liberation Serif" font-weight="bold" stroke="#000" stroke-width="0.22" >1.0</text>
<text x="62.00" y="108.80" font-size="12" text-anchor="end" font-family="Liberation Serif" font-weight="bold" stroke="#000" stroke-width="0.22" >0.5</text>
<text x="62.00" y="145.30" font-size="12" text-anchor="end" font-family="Liberation Serif" font-weight="bold" stroke="#000" stroke-width="0.22" >0.0</text>
<text x="62.00" y="181.80" font-size="12" text-anchor="end" font-family="Liberation Serif" font-weight="bold" stroke="#000" stroke-width="0.22" >−0.5</text>
<text x="62.00" y="218.30" font-size="12" text-anchor="end" font-family="Liberation Serif" font-weight="bold" stroke="#000" stroke-width="0.22" >−1.0</text>
<text x="178.8" y="267.6" font-size="13.6" text-anchor="middle" font-family="Liberation Serif" font-weight="bold" stroke="#000" stroke-width="0.22"><tspan font-style="italic">H</tspan> (Oe)</text>
<text x="34.30" y="141.10" font-size="13.8" text-anchor="middle" font-family="Liberation Serif" font-weight="bold" stroke="#000" stroke-width="0.22" transform="rotate(-90 34.3 141.1)" >Kerr Signal (a.u.)</text>
<text x="0.40" y="16.00" font-size="22.6" text-anchor="start" font-family="Liberation Serif" font-weight="bold" stroke="#000" stroke-width="0.22" >(a)</text>
<rect x="139.4" y="104.9" width="82.2" height="72.6" fill="white" stroke="#c8c8c8" stroke-width="1"/>
<line x1="140.60" y1="111.70" x2="162.40" y2="111.70" stroke="#333333" stroke-width="1.5" />
<text x="164.60" y="115.00" font-size="9.6" text-anchor="start" font-family="Liberation Serif" font-weight="bold" stroke="#000" stroke-width="0.22" >without SAW</text>
<line x1="140.60" y1="123.60" x2="162.40" y2="123.60" stroke="#f03c3c" stroke-width="1.5" />
<text x="164.60" y="126.90" font-size="9.6" text-anchor="start" font-family="Liberation Serif" font-weight="bold" stroke="#000" stroke-width="0.22" >12.3 mW</text>
<line x1="140.60" y1="135.40" x2="162.40" y2="135.40" stroke="#1e6ee6" stroke-width="1.5" />
<text x="164.60" y="138.70" font-size="9.6" text-anchor="start" font-family="Liberation Serif" font-weight="bold" stroke="#000" stroke-width="0.22" >19.5 mW</text>
<line x1="140.60" y1="147.30" x2="162.40" y2="147.30" stroke="#2ca45a" stroke-width="1.5" />
<text x="164.60" y="150.60" font-size="9.6" text-anchor="start" font-family="Liberation Serif" font-weight="bold" stroke="#000" stroke-width="0.22" >30.9 mW</text>
<line x1="140.60" y1="159.20" x2="162.40" y2="159.20" stroke="#b07cf0" stroke-width="1.5" />
<text x="164.60" y="162.50" font-size="9.6" text-anchor="start" font-family="Liberation Serif" font-weight="bold" stroke="#000" stroke-width="0.22" >49.0 mW</text>
<line x1="140.60" y1="171.00" x2="162.40" y2="171.00" stroke="#d4a015" stroke-width="1.5" />
<text x="164.60" y="174.30" font-size="9.6" text-anchor="start" font-family="Liberation Serif" font-weight="bold" stroke="#000" stroke-width="0.22" >77.6 mW</text>
<rect x="57.60" y="12.80" width="44.00" height="21.10" fill="#ffcf5e"/>
<rect x="57.60" y="33.90" width="44.00" height="10.10" fill="#8cc63f"/>
<polygon points="63.20,14.58 61.20,14.58 61.20,18.98 59.75,18.98 62.20,23.18 64.65,18.98 63.20,18.98" fill="#ff1a1a"/>
<polygon points="61.20,33.01 63.20,33.01 63.20,28.61 64.65,28.61 62.20,24.41 59.75,28.61 61.20,28.61" fill="#ff1a1a"/>
<polygon points="63.26,43.29 65.04,42.39 63.05,38.46 64.34,37.81 60.25,35.18 59.97,40.03 61.26,39.37" fill="#1f6fe0"/>
<polygon points="71.93,14.58 69.93,14.58 69.93,18.98 68.48,18.98 70.93,23.18 73.38,18.98 71.93,18.98" fill="#ff1a1a"/>
<polygon points="69.93,33.01 71.93,33.01 71.93,28.61 73.38,28.61 70.93,24.41 68.48,28.61 69.93,28.61" fill="#ff1a1a"/>
<polygon points="71.99,43.29 73.77,42.39 71.78,38.46 73.07,37.81 68.98,35.18 68.70,40.03 69.99,39.37" fill="#1f6fe0"/>
<polygon points="80.66,14.58 78.66,14.58 78.66,18.98 77.21,18.98 79.66,23.18 82.11,18.98 80.66,18.98" fill="#ff1a1a"/>
<polygon points="78.66,33.01 80.66,33.01 80.66,28.61 82.11,28.61 79.66,24.41 77.21,28.61 78.66,28.61" fill="#ff1a1a"/>
<polygon points="80.72,43.29 82.50,42.39 80.51,38.46 81.80,37.81 77.71,35.18 77.43,40.03 78.72,39.37" fill="#1f6fe0"/>
<polygon points="89.39,14.58 87.39,14.58 87.39,18.98 85.94,18.98 88.39,23.18 90.84,18.98 89.39,18.98" fill="#ff1a1a"/>
<polygon points="87.39,33.01 89.39,33.01 89.39,28.61 90.84,28.61 88.39,24.41 85.94,28.61 87.39,28.61" fill="#ff1a1a"/>
<polygon points="89.45,43.29 91.23,42.39 89.24,38.46 90.53,37.81 86.44,35.18 86.16,40.03 87.45,39.37" fill="#1f6fe0"/>
<polygon points="98.12,14.58 96.12,14.58 96.12,18.98 94.67,18.98 97.12,23.18 99.57,18.98 98.12,18.98" fill="#ff1a1a"/>
<polygon points="96.12,33.01 98.12,33.01 98.12,28.61 99.57,28.61 97.12,24.41 94.67,28.61 96.12,28.61" fill="#ff1a1a"/>
<polygon points="98.18,43.29 99.96,42.39 97.97,38.46 99.26,37.81 95.17,35.18 94.89,40.03 96.18,39.37" fill="#1f6fe0"/>
<circle cx="76.70" cy="7.40" r="5.4" fill="white" stroke="#111" stroke-width="1.1"/>
<text x="76.70" y="10.70" font-size="9.6" text-anchor="middle" font-family="Liberation Serif" font-weight="bold" fill="#111">2</text>
<rect x="251.20" y="13.00" width="44.00" height="21.10" fill="#ffcf5e"/>
<rect x="251.20" y="34.10" width="44.00" height="10.00" fill="#8cc63f"/>
<polygon points="256.50,14.76 254.50,14.76 254.50,19.16 253.05,19.16 255.50,23.36 257.95,19.16 256.50,19.16" fill="#ff1a1a"/>
<polygon points="254.50,33.16 256.50,33.16 256.50,28.76 257.95,28.76 255.50,24.56 253.05,28.76 254.50,28.76" fill="#ff1a1a"/>
<polygon points="254.50,43.42 256.50,43.42 256.50,39.02 257.95,39.02 255.50,34.82 253.05,39.02 254.50,39.02" fill="#1f6fe0"/>
<polygon points="265.23,14.76 263.23,14.76 263.23,19.16 261.78,19.16 264.23,23.36 266.68,19.16 265.23,19.16" fill="#ff1a1a"/>
<polygon points="263.23,33.16 265.23,33.16 265.23,28.76 266.68,28.76 264.23,24.56 261.78,28.76 263.23,28.76" fill="#ff1a1a"/>
<polygon points="263.23,43.42 265.23,43.42 265.23,39.02 266.68,39.02 264.23,34.82 261.78,39.02 263.23,39.02" fill="#1f6fe0"/>
<polygon points="273.96,14.76 271.96,14.76 271.96,19.16 270.51,19.16 272.96,23.36 275.41,19.16 273.96,19.16" fill="#ff1a1a"/>
<polygon points="271.96,33.16 273.96,33.16 273.96,28.76 275.41,28.76 272.96,24.56 270.51,28.76 271.96,28.76" fill="#ff1a1a"/>
<polygon points="271.96,43.42 273.96,43.42 273.96,39.02 275.41,39.02 272.96,34.82 270.51,39.02 271.96,39.02" fill="#1f6fe0"/>
<polygon points="282.69,14.76 280.69,14.76 280.69,19.16 279.24,19.16 281.69,23.36 284.14,19.16 282.69,19.16" fill="#ff1a1a"/>
<polygon points="280.69,33.16 282.69,33.16 282.69,28.76 284.14,28.76 281.69,24.56 279.24,28.76 280.69,28.76" fill="#ff1a1a"/>
<polygon points="280.69,43.42 282.69,43.42 282.69,39.02 284.14,39.02 281.69,34.82 279.24,39.02 280.69,39.02" fill="#1f6fe0"/>
<polygon points="291.42,14.76 289.42,14.76 289.42,19.16 287.97,19.16 290.42,23.36 292.87,19.16 291.42,19.16" fill="#ff1a1a"/>
<polygon points="289.42,33.16 291.42,33.16 291.42,28.76 292.87,28.76 290.42,24.56 287.97,28.76 289.42,28.76" fill="#ff1a1a"/>
<polygon points="289.42,43.42 291.42,43.42 291.42,39.02 292.87,39.02 290.42,34.82 287.97,39.02 289.42,39.02" fill="#1f6fe0"/>
<circle cx="272.40" cy="6.90" r="5.4" fill="white" stroke="#111" stroke-width="1.1"/>
<text x="272.40" y="10.20" font-size="9.6" text-anchor="middle" font-family="Liberation Serif" font-weight="bold" fill="#111">1</text>
<rect x="55.10" y="251.00" width="44.00" height="21.00" fill="#ffcf5e"/>
<rect x="55.10" y="272.00" width="44.00" height="10.40" fill="#8cc63f"/>
<polygon points="60.50,252.82 58.50,252.82 58.50,257.22 57.05,257.22 59.50,261.42 61.95,257.22 60.50,257.22" fill="#ff1a1a"/>
<polygon points="58.50,271.31 60.50,271.31 60.50,266.91 61.95,266.91 59.50,262.71 57.05,266.91 58.50,266.91" fill="#ff1a1a"/>
<polygon points="60.50,273.08 58.50,273.08 58.50,277.48 57.05,277.48 59.50,281.68 61.95,277.48 60.50,277.48" fill="#1f6fe0"/>
<polygon points="69.23,252.82 67.23,252.82 67.23,257.22 65.78,257.22 68.23,261.42 70.68,257.22 69.23,257.22" fill="#ff1a1a"/>
<polygon points="67.23,271.31 69.23,271.31 69.23,266.91 70.68,266.91 68.23,262.71 65.78,266.91 67.23,266.91" fill="#ff1a1a"/>
<polygon points="69.23,273.08 67.23,273.08 67.23,277.48 65.78,277.48 68.23,281.68 70.68,277.48 69.23,277.48" fill="#1f6fe0"/>
<polygon points="77.96,252.82 75.96,252.82 75.96,257.22 74.51,257.22 76.96,261.42 79.41,257.22 77.96,257.22" fill="#ff1a1a"/>
<polygon points="75.96,271.31 77.96,271.31 77.96,266.91 79.41,266.91 76.96,262.71 74.51,266.91 75.96,266.91" fill="#ff1a1a"/>
<polygon points="77.96,273.08 75.96,273.08 75.96,277.48 74.51,277.48 76.96,281.68 79.41,277.48 77.96,277.48" fill="#1f6fe0"/>
<polygon points="86.69,252.82 84.69,252.82 84.69,257.22 83.24,257.22 85.69,261.42 88.14,257.22 86.69,257.22" fill="#ff1a1a"/>
<polygon points="84.69,271.31 86.69,271.31 86.69,266.91 88.14,266.91 85.69,262.71 83.24,266.91 84.69,266.91" fill="#ff1a1a"/>
<polygon points="86.69,273.08 84.69,273.08 84.69,277.48 83.24,277.48 85.69,281.68 88.14,277.48 86.69,277.48" fill="#1f6fe0"/>
<polygon points="95.42,252.82 93.42,252.82 93.42,257.22 91.97,257.22 94.42,261.42 96.87,257.22 95.42,257.22" fill="#ff1a1a"/>
<polygon points="93.42,271.31 95.42,271.31 95.42,266.91 96.87,266.91 94.42,262.71 91.97,266.91 93.42,266.91" fill="#ff1a1a"/>
<polygon points="95.42,273.08 93.42,273.08 93.42,277.48 91.97,277.48 94.42,281.68 96.87,277.48 95.42,277.48" fill="#1f6fe0"/>
<circle cx="74.80" cy="289.50" r="5.4" fill="white" stroke="#111" stroke-width="1.1"/>
<text x="74.80" y="292.80" font-size="9.6" text-anchor="middle" font-family="Liberation Serif" font-weight="bold" fill="#111">3</text>
<rect x="251.40" y="251.60" width="44.00" height="21.00" fill="#ffcf5e"/>
<rect x="251.40" y="272.60" width="44.00" height="10.10" fill="#8cc63f"/>
<polygon points="256.70,253.36 254.70,253.36 254.70,257.76 253.25,257.76 255.70,261.96 258.15,257.76 256.70,257.76" fill="#ff1a1a"/>
<polygon points="254.70,271.76 256.70,271.76 256.70,267.36 258.15,267.36 255.70,263.16 253.25,267.36 254.70,267.36" fill="#ff1a1a"/>
<polygon points="252.86,281.10 254.64,282.01 256.64,278.09 257.93,278.75 257.65,273.89 253.56,276.52 254.85,277.18" fill="#1f6fe0"/>
<polygon points="265.43,253.36 263.43,253.36 263.43,257.76 261.98,257.76 264.43,261.96 266.88,257.76 265.43,257.76" fill="#ff1a1a"/>
<polygon points="263.43,271.76 265.43,271.76 265.43,267.36 266.88,267.36 264.43,263.16 261.98,267.36 263.43,267.36" fill="#ff1a1a"/>
<polygon points="261.59,281.10 263.37,282.01 265.37,278.09 266.66,278.75 266.38,273.89 262.29,276.52 263.58,277.18" fill="#1f6fe0"/>
<polygon points="274.16,253.36 272.16,253.36 272.16,257.76 270.71,257.76 273.16,261.96 275.61,257.76 274.16,257.76" fill="#ff1a1a"/>
<polygon points="272.16,271.76 274.16,271.76 274.16,267.36 275.61,267.36 273.16,263.16 270.71,267.36 272.16,267.36" fill="#ff1a1a"/>
<polygon points="270.32,281.10 272.10,282.01 274.10,278.09 275.39,278.75 275.11,273.89 271.02,276.52 272.31,277.18" fill="#1f6fe0"/>
<polygon points="282.89,253.36 280.89,253.36 280.89,257.76 279.44,257.76 281.89,261.96 284.34,257.76 282.89,257.76" fill="#ff1a1a"/>
<polygon points="280.89,271.76 282.89,271.76 282.89,267.36 284.34,267.36 281.89,263.16 279.44,267.36 280.89,267.36" fill="#ff1a1a"/>
<polygon points="279.05,281.10 280.83,282.01 282.83,278.09 284.12,278.75 283.84,273.89 279.75,276.52 281.04,277.18" fill="#1f6fe0"/>
<polygon points="291.62,253.36 289.62,253.36 289.62,257.76 288.17,257.76 290.62,261.96 293.07,257.76 291.62,257.76" fill="#ff1a1a"/>
<polygon points="289.62,271.76 291.62,271.76 291.62,267.36 293.07,267.36 290.62,263.16 288.17,267.36 289.62,267.36" fill="#ff1a1a"/>
<polygon points="287.78,281.10 289.56,282.01 291.56,278.09 292.85,278.75 292.57,273.89 288.48,276.52 289.77,277.18" fill="#1f6fe0"/>
<circle cx="273.00" cy="289.00" r="5.4" fill="white" stroke="#111" stroke-width="1.1"/>
<text x="273.00" y="292.30" font-size="9.6" text-anchor="middle" font-family="Liberation Serif" font-weight="bold" fill="#111">4</text>
<rect x="95.30" y="100.10" width="27.30" height="11.30" fill="none" stroke="#555" stroke-width="1.3" stroke-dasharray="3.4,2.0"/>
<rect x="268.50" y="64.40" width="9.10" height="11.00" fill="none" stroke="#555" stroke-width="1.3" stroke-dasharray="3.4,2.0"/>
<rect x="69.00" y="209.40" width="7.20" height="8.40" fill="none" stroke="#555" stroke-width="1.3" stroke-dasharray="3.4,2.0"/>
<rect x="231.10" y="151.60" width="17.50" height="10.80" fill="none" stroke="#555" stroke-width="1.3" stroke-dasharray="3.4,2.0"/>
<line x1="97.60" y1="100.10" x2="79.97" y2="49.17" stroke="#222" stroke-width="1.25" />
<polygon points="78.60,45.20 81.86,48.51 78.08,49.82" fill="#222"/>
<line x1="273.40" y1="64.40" x2="270.07" y2="48.71" stroke="#222" stroke-width="1.25" />
<polygon points="269.20,44.60 272.03,48.29 268.12,49.12" fill="#222"/>
<line x1="70.00" y1="217.80" x2="65.12" y2="245.86" stroke="#222" stroke-width="1.25" />
<polygon points="64.40,250.00 63.15,245.52 67.09,246.20" fill="#222"/>
<line x1="245.60" y1="162.40" x2="261.61" y2="246.07" stroke="#222" stroke-width="1.25" />
<polygon points="262.40,250.20 259.65,246.45 263.58,245.70" fill="#222"/>
<line x1="493.62" y1="49.75" x2="493.62" y2="232.80" stroke="#111" stroke-width="1.4" />
<line x1="380.05" y1="141.20" x2="607.20" y2="141.20" stroke="#111" stroke-width="1.4" />
<polyline points="380.0,202.4 380.6,202.2 381.1,202.3 381.6,202.3 382.1,202.3 382.6,202.3 383.1,202.2 383.6,202.3 384.1,202.0 384.6,202.3 385.1,202.3 385.6,202.2 386.1,202.1 386.6,202.2 387.1,202.1 387.6,202.1 388.1,202.0 388.6,202.0 389.1,202.1 389.6,201.8 390.1,201.7 390.7,201.8 391.2,201.4 391.7,201.2 392.2,201.0 392.7,201.0 393.2,200.7 393.7,200.3 394.2,200.1 394.7,199.8 395.2,199.4 395.7,198.9 396.2,198.7 396.7,198.2 397.2,197.5 397.7,196.9 398.2,196.4 398.7,195.7 399.2,194.8 399.7,193.7 400.2,192.8 400.7,191.6 401.3,190.2 401.8,188.8 402.3,187.3 402.8,185.5 403.3,183.7 403.8,181.8 404.3,179.8 404.8,177.7 405.3,175.4 405.8,173.0 406.3,170.5 406.8,167.9 407.3,165.1 407.8,162.3 408.3,159.4 408.8,156.4 409.3,153.5 409.8,151.3 410.3,149.1 410.8,146.9 411.3,144.7 411.9,142.6 412.4,140.5 412.9,138.5 413.4,136.4 413.9,134.5 414.4,132.6 414.9,130.8 415.4,129.0 415.9,127.4 416.4,125.8 416.9,124.4 417.4,122.9 417.9,121.6 418.4,120.3 418.9,119.2 419.4,118.1 419.9,117.0 420.4,116.2 420.9,115.3 421.4,114.5 421.9,113.7 422.5,112.8 423.0,112.2 423.5,111.7 424.0,111.2 424.5,110.6 425.0,110.0 425.5,109.5 426.0,108.9 426.5,108.4 427.0,108.0 427.5,107.9 428.0,107.7 428.5,107.5 429.0,106.9 429.5,106.7 430.0,106.5 430.5,106.1 431.0,105.8 431.5,105.8 432.0,105.5 432.5,105.3 433.1,104.9 433.6,104.5 434.1,104.4 434.6,104.3 435.1,104.2 435.6,104.1 436.1,103.9 436.6,103.5 437.1,103.0 437.6,102.5 438.1,102.4 438.6,102.2 439.1,101.9 439.6,101.4 440.1,101.1 440.6,100.8 441.1,100.6 441.6,100.2 442.1,99.7 442.6,99.4 443.1,98.8 443.7,98.1 444.2,97.4 444.7,97.1 445.2,96.3 445.7,95.5 446.2,94.9 446.7,94.2 447.2,93.6 447.7,92.7 448.2,92.0 448.7,91.4 449.2,90.7 449.7,89.8 450.2,89.1 450.7,88.3 451.2,87.3 451.7,86.5 452.2,85.7 452.7,84.7 453.2,83.9 453.7,83.1 454.3,82.3 454.8,81.4 455.3,80.6 455.8,79.7 456.3,79.1 456.8,78.4 457.3,77.6 457.8,77.2 458.3,76.7 458.8,76.0 459.3,75.4 459.8,75.2 460.3,74.9 460.8,74.4 461.3,73.8 461.8,73.6 462.3,73.6 462.8,73.3 463.3,73.2 463.8,73.0 464.3,72.8 464.9,72.3 465.4,72.1 465.9,71.9 466.4,71.8 466.9,71.6 467.4,71.4 467.9,71.1 468.4,71.0 468.9,71.1 469.4,70.8 469.9,70.8 470.4,70.6 470.9,70.7 471.4,70.5 471.9,70.4 472.4,70.4 472.9,70.5 473.4,70.5 473.9,70.2 474.4,70.2 474.9,70.2 475.5,70.0 476.0,70.1 476.5,70.0 477.0,70.3 477.5,70.2 478.0,70.1 478.5,70.0 479.0,69.8 479.5,70.1 480.0,70.2 480.5,70.3 481.0,70.4 481.5,70.7 482.0,70.7 482.5,70.6 483.0,70.7 483.5,70.7 484.0,71.0 484.5,70.7 485.0,70.7 485.5,70.4 486.1,70.4 486.6,70.2 487.1,70.1 487.6,70.1 488.1,69.9 488.6,70.0 489.1,69.8 489.6,69.9 490.1,70.0 490.6,70.1 491.1,70.0 491.6,70.0 492.1,70.2 492.6,70.0 493.1,70.2 493.6,70.2 494.1,70.3 494.6,70.2 495.1,70.2 495.6,70.3 496.1,70.2 496.7,70.2 497.2,70.1 497.7,70.1 498.2,70.1 498.7,70.0 499.2,70.1 499.7,70.1 500.2,70.0 500.7,69.9 501.2,70.1 501.7,70.1 502.2,70.0 502.7,70.2 503.2,70.0 503.7,70.0 504.2,69.8 504.7,70.0 505.2,70.2 505.7,70.0 506.2,69.9 506.7,69.8 507.3,69.9 507.8,69.9 508.3,70.1 508.8,70.2 509.3,70.2 509.8,69.9 510.3,69.9 510.8,70.0 511.3,70.2 511.8,70.3 512.3,70.4 512.8,70.4 513.3,70.3 513.8,70.2 514.3,70.4 514.8,70.5 515.3,70.3 515.8,70.5 516.3,70.4 516.8,70.4 517.3,70.3 517.9,70.3 518.4,70.1 518.9,70.1 519.4,70.0 519.9,70.1 520.4,70.0 520.9,69.8 521.4,69.7 521.9,69.8 522.4,69.8 522.9,69.7 523.4,69.7 523.9,69.6 524.4,69.7 524.9,69.6 525.4,69.9 525.9,69.8 526.4,69.7 526.9,69.6 527.4,69.6 527.9,69.7 528.5,69.9 529.0,69.8 529.5,69.7 530.0,69.9 530.5,69.6 531.0,69.8 531.5,69.8 532.0,69.8 532.5,69.7 533.0,69.7 533.5,69.7 534.0,69.7 534.5,69.8 535.0,69.8 535.5,70.0 536.0,70.1 536.5,70.4 537.0,70.4 537.5,70.6 538.0,70.8 538.6,70.8 539.1,71.0 539.6,70.8 540.1,70.5 540.6,70.3 541.1,69.9 541.6,69.8 542.1,69.7 542.6,69.7 543.1,69.4 543.6,69.2 544.1,69.1 544.6,69.3 545.1,69.6 545.6,69.6 546.1,69.7 546.6,69.7 547.1,69.7 547.6,69.7 548.1,69.8 548.6,69.9 549.2,69.9 549.7,69.8 550.2,69.8 550.7,69.8 551.2,69.9 551.7,69.8 552.2,69.8 552.7,69.8 553.2,69.8 553.7,69.8 554.2,70.0 554.7,70.1 555.2,69.8 555.7,70.0 556.2,70.0 556.7,70.0 557.2,70.3 557.7,70.2 558.2,70.1 558.7,70.0 559.2,69.9 559.8,69.9 560.3,70.1 560.8,70.0 561.3,70.0 561.8,70.0 562.3,69.8 562.8,70.0 563.3,70.0 563.8,70.1 564.3,70.1 564.8,69.9 565.3,69.9 565.8,69.9 566.3,70.0 566.8,69.9 567.3,70.0 567.8,70.0 568.3,70.1 568.8,70.1 569.3,70.2 569.8,70.2 570.4,70.2 570.9,70.3 571.4,70.5 571.9,70.5 572.4,70.4 572.9,70.2 573.4,70.3 573.9,70.2 574.4,70.1 574.9,70.3 575.4,70.1 575.9,70.2 576.4,69.9 576.9,69.9 577.4,69.7 577.9,69.8 578.4,69.8 578.9,69.8 579.4,69.7 579.9,69.7 580.4,69.9 581.0,69.9 581.5,70.1 582.0,70.3 582.5,70.5 583.0,70.5 583.5,70.5 584.0,70.7 584.5,71.0 585.0,70.9 585.5,70.9 586.0,70.9 586.5,70.9 587.0,70.8 587.5,70.8 588.0,70.8 588.5,70.9 589.0,70.7 589.5,70.7 590.0,70.9 590.5,70.7 591.0,70.7 591.6,70.7 592.1,70.8 592.6,70.7 593.1,71.0 593.6,70.7 594.1,71.0 594.6,70.9 595.1,70.7 595.6,70.8 596.1,70.9 596.6,71.0 597.1,70.9 597.6,70.9 598.1,71.0 598.6,71.1 599.1,70.9 599.6,71.1 600.1,71.0 600.6,70.9 601.1,71.0 601.6,71.0 602.2,71.2 602.7,71.3 603.2,71.4 603.7,71.4 604.2,71.6 604.7,71.5 605.2,71.6 605.7,71.8 606.2,71.6 606.7,71.4 607.2,71.4" fill="none" stroke="#3a3a3a" stroke-width="1.5" stroke-linejoin="round"/>
<polyline points="380.0,202.8 380.6,202.5 381.1,202.5 381.6,202.4 382.1,202.6 382.6,202.6 383.1,202.7 383.6,202.6 384.1,202.5 384.6,202.5 385.1,202.4 385.6,202.5 386.1,202.6 386.6,202.6 387.1,202.3 387.6,202.5 388.1,202.4 388.6,202.4 389.1,202.4 389.6,202.4 390.1,202.7 390.7,202.6 391.2,202.4 391.7,202.5 392.2,202.7 392.7,202.5 393.2,202.4 393.7,202.6 394.2,202.6 394.7,202.6 395.2,202.3 395.7,202.4 396.2,202.7 396.7,202.6 397.2,202.5 397.7,202.5 398.2,202.8 398.7,202.6 399.2,202.6 399.7,202.6 400.2,202.9 400.7,202.9 401.3,202.8 401.8,202.7 402.3,202.9 402.8,203.1 403.3,202.9 403.8,203.1 404.3,203.0 404.8,203.2 405.3,203.0 405.8,202.9 406.3,202.9 406.8,202.9 407.3,203.0 407.8,202.7 408.3,203.0 408.8,202.8 409.3,203.0 409.8,203.0 410.3,203.1 410.8,203.2 411.3,203.1 411.9,203.4 412.4,203.2 412.9,203.4 413.4,203.1 413.9,203.2 414.4,203.2 414.9,203.2 415.4,203.0 415.9,203.1 416.4,203.0 416.9,202.8 417.4,202.8 417.9,202.7 418.4,202.9 418.9,203.1 419.4,203.2 419.9,203.1 420.4,203.2 420.9,203.3 421.4,203.3 421.9,203.4 422.5,203.4 423.0,203.7 423.5,203.6 424.0,203.5 424.5,203.2 425.0,203.0 425.5,203.3 426.0,203.2 426.5,203.2 427.0,203.5 427.5,203.4 428.0,203.2 428.5,203.3 429.0,203.2 429.5,203.3 430.0,203.6 430.5,203.4 431.0,203.6 431.5,203.6 432.0,203.4 432.5,203.6 433.1,203.8 433.6,203.9 434.1,203.9 434.6,204.2 435.1,204.2 435.6,204.5 436.1,204.5 436.6,204.6 437.1,204.8 437.6,204.6 438.1,204.8 438.6,204.5 439.1,204.6 439.6,204.5 440.1,204.5 440.6,204.3 441.1,204.3 441.6,204.1 442.1,204.1 442.6,204.0 443.1,203.9 443.7,204.0 444.2,203.9 444.7,203.9 445.2,204.0 445.7,204.1 446.2,203.9 446.7,204.0 447.2,203.9 447.7,204.1 448.2,204.2 448.7,204.3 449.2,204.5 449.7,204.3 450.2,204.3 450.7,204.4 451.2,204.4 451.7,204.7 452.2,204.5 452.7,204.5 453.2,204.5 453.7,204.7 454.3,204.6 454.8,204.6 455.3,204.5 455.8,204.5 456.3,204.6 456.8,204.3 457.3,204.5 457.8,204.4 458.3,204.1 458.8,203.8 459.3,203.7 459.8,203.8 460.3,203.8 460.8,203.7 461.3,203.8 461.8,203.8 462.3,203.6 462.8,203.7 463.3,203.8 463.8,204.2 464.3,204.2 464.9,204.3 465.4,204.5 465.9,204.5 466.4,204.5 466.9,204.7 467.4,204.7 467.9,205.0 468.4,204.9 468.9,204.9 469.4,205.1 469.9,204.9 470.4,204.8 470.9,205.0 471.4,205.0 471.9,204.8 472.4,204.9 472.9,204.8 473.4,204.9 473.9,204.7 474.4,204.6 474.9,204.6 475.5,204.7 476.0,204.6 476.5,204.4 477.0,204.7 477.5,204.5 478.0,204.3 478.5,204.2 479.0,204.1 479.5,204.2 480.0,204.1 480.5,204.2 481.0,204.1 481.5,204.0 482.0,203.7 482.5,203.8 483.0,203.8 483.5,204.0 484.0,204.1 484.5,204.0 485.0,204.2 485.5,204.2 486.1,204.2 486.6,204.1 487.1,204.1 487.6,204.2 488.1,204.4 488.6,204.5 489.1,204.5 489.6,204.6 490.1,204.6 490.6,204.7 491.1,204.9 491.6,204.9 492.1,205.2 492.6,205.1 493.1,205.0 493.6,204.8 494.1,204.8 494.6,204.8 495.1,204.8 495.6,204.8 496.1,204.7 496.7,204.8 497.2,204.8 497.7,204.8 498.2,204.8 498.7,205.1 499.2,204.8 499.7,204.8 500.2,204.8 500.7,204.8 501.2,204.9 501.7,204.8 502.2,204.6 502.7,204.7 503.2,204.7 503.7,204.6 504.2,204.5 504.7,204.5 505.2,204.2 505.7,203.8 506.2,203.8 506.7,203.7 507.3,203.9 507.8,203.8 508.3,203.6 508.8,203.4 509.3,203.5 509.8,203.3 510.3,203.6 510.8,203.7 511.3,203.6 511.8,203.7 512.3,203.6 512.8,203.5 513.3,203.6 513.8,203.5 514.3,203.4 514.8,203.4 515.3,203.0 515.8,202.8 516.3,202.6 516.8,202.6 517.3,202.2 517.9,202.2 518.4,202.2 518.9,202.3 519.4,202.1 519.9,201.8 520.4,201.7 520.9,201.5 521.4,201.2 521.9,200.8 522.4,200.7 522.9,200.3 523.4,199.8 523.9,199.4 524.4,199.2 524.9,198.8 525.4,198.2 525.9,197.7 526.4,197.1 526.9,196.4 527.4,195.7 527.9,194.8 528.5,193.9 529.0,192.8 529.5,191.5 530.0,190.2 530.5,188.9 531.0,187.3 531.5,185.7 532.0,184.0 532.5,182.0 533.0,180.0 533.5,177.8 534.0,175.5 534.5,173.2 535.0,170.6 535.5,168.0 536.0,165.2 536.5,162.3 537.0,159.3 537.5,156.3 538.0,153.3 538.6,149.3 539.1,141.6 539.6,134.2 540.1,127.6 540.6,121.7 541.1,116.8 541.6,112.8 542.1,109.5 542.6,106.9 543.1,104.9 543.6,103.4 544.1,102.2 544.6,101.3 545.1,100.6 545.6,100.1 546.1,99.6 546.6,99.2 547.1,98.8 547.6,98.6 548.1,98.3 548.6,98.0 549.2,97.8 549.7,97.6 550.2,97.4 550.7,97.1 551.2,97.1 551.7,97.0 552.2,97.0 552.7,96.9 553.2,96.7 553.7,96.7 554.2,96.3 554.7,95.9 555.2,95.6 555.7,95.5 556.2,95.1 556.7,94.7 557.2,94.2 557.7,93.8 558.2,93.7 558.7,93.1 559.2,92.8 559.8,92.7 560.3,92.3 560.8,91.7 561.3,91.2 561.8,91.1 562.3,90.9 562.8,90.7 563.3,90.2 563.8,89.9 564.3,89.5 564.8,89.1 565.3,88.8 565.8,88.4 566.3,88.1 566.8,87.4 567.3,87.0 567.8,86.4 568.3,86.0 568.8,85.7 569.3,85.3 569.8,84.8 570.4,84.2 570.9,83.9 571.4,83.5 571.9,83.2 572.4,82.8 572.9,82.5 573.4,81.7 573.9,81.5 574.4,81.2 574.9,80.7 575.4,80.7 575.9,80.2 576.4,80.0 576.9,79.7 577.4,79.2 577.9,79.1 578.4,78.9 578.9,78.5 579.4,78.1 579.9,77.9 580.4,77.4 581.0,77.3 581.5,76.8 582.0,76.4 582.5,76.2 583.0,75.7 583.5,75.5 584.0,75.1 584.5,75.0 585.0,74.9 585.5,74.6 586.0,74.5 586.5,74.3 587.0,74.2 587.5,74.0 588.0,74.1 588.5,74.0 589.0,73.8 589.5,73.5 590.0,73.4 590.5,73.3 591.0,73.1 591.6,73.0 592.1,72.8 592.6,73.0 593.1,72.8 593.6,72.7 594.1,72.8 594.6,72.9 595.1,72.6 595.6,72.7 596.1,72.7 596.6,72.5 597.1,72.6 597.6,72.5 598.1,72.3 598.6,72.0 599.1,71.9 599.6,71.6 600.1,71.5 600.6,71.6 601.1,71.6 601.6,71.5 602.2,71.4 602.7,71.4 603.2,71.4 603.7,71.3 604.2,71.2 604.7,71.2 605.2,71.1 605.7,71.0 606.2,70.7 606.7,70.6 607.2,70.8" fill="none" stroke="#3a3a3a" stroke-width="1.5" stroke-linejoin="round"/>
<polyline points="380.0,204.9 380.6,204.9 381.1,205.0 381.6,205.1 382.1,204.9 382.6,204.7 383.1,204.8 383.6,204.8 384.1,205.0 384.6,205.0 385.1,204.9 385.6,204.8 386.1,205.0 386.6,205.0 387.1,205.1 387.6,205.0 388.1,205.0 388.6,204.9 389.1,204.7 389.6,204.9 390.1,204.7 390.7,204.9 391.2,204.7 391.7,204.4 392.2,204.1 392.7,204.1 393.2,203.8 393.7,203.6 394.2,203.5 394.7,203.1 395.2,202.8 395.7,202.3 396.2,201.8 396.7,201.4 397.2,201.0 397.7,200.5 398.2,199.9 398.7,199.2 399.2,198.5 399.7,197.6 400.2,196.9 400.7,195.9 401.3,194.9 401.8,193.7 402.3,192.4 402.8,190.9 403.3,189.3 403.8,187.5 404.3,185.6 404.8,183.7 405.3,181.5 405.8,179.2 406.3,176.8 406.8,174.4 407.3,171.7 407.8,169.0 408.3,166.1 408.8,163.2 409.3,160.2 409.8,157.2 410.3,154.4 410.8,152.1 411.3,149.8 411.9,147.5 412.4,145.3 412.9,143.1 413.4,140.9 413.9,138.8 414.4,136.7 414.9,134.8 415.4,132.9 415.9,131.0 416.4,129.4 416.9,127.7 417.4,126.1 417.9,124.5 418.4,123.0 418.9,121.6 419.4,120.4 419.9,119.2 420.4,118.1 420.9,116.9 421.4,115.8 421.9,114.8 422.5,113.9 423.0,113.1 423.5,112.6 424.0,111.9 424.5,111.1 425.0,110.7 425.5,109.9 426.0,109.6 426.5,109.1 427.0,108.8 427.5,108.3 428.0,108.2 428.5,107.6 429.0,107.3 429.5,107.2 430.0,106.7 430.5,106.6 431.0,106.3 431.5,106.2 432.0,105.9 432.5,105.4 433.1,104.9 433.6,104.8 434.1,104.6 434.6,104.4 435.1,104.5 435.6,104.1 436.1,103.8 436.6,103.5 437.1,103.1 437.6,103.0 438.1,102.9 438.6,102.7 439.1,102.5 439.6,101.8 440.1,101.3 440.6,100.9 441.1,100.5 441.6,100.1 442.1,99.9 442.6,99.4 443.1,98.8 443.7,98.1 444.2,97.3 444.7,97.0 445.2,96.5 445.7,96.0 446.2,95.3 446.7,94.4 447.2,93.4 447.7,92.7 448.2,91.7 448.7,91.1 449.2,90.2 449.7,89.3 450.2,88.4 450.7,87.6 451.2,86.6 451.7,85.7 452.2,85.1 452.7,84.0 453.2,83.1 453.7,82.4 454.3,81.8 454.8,81.0 455.3,80.1 455.8,79.3 456.3,78.9 456.8,78.4 457.3,77.9 457.8,77.4 458.3,77.0 458.8,76.5 459.3,75.9 459.8,75.6 460.3,75.3 460.8,75.0 461.3,74.4 461.8,74.1 462.3,73.5 462.8,73.4 463.3,73.1 463.8,72.7 464.3,72.5 464.9,72.2 465.4,71.9 465.9,71.8 466.4,71.5 466.9,71.3 467.4,71.3 467.9,71.1 468.4,71.2 468.9,71.2 469.4,71.3 469.9,71.1 470.4,71.2 470.9,71.1 471.4,71.0 471.9,70.9 472.4,70.8 472.9,70.9 473.4,70.8 473.9,70.7 474.4,70.6 474.9,70.6 475.5,70.5 476.0,70.3 476.5,70.4 477.0,70.4 477.5,70.3 478.0,70.2 478.5,69.9 479.0,70.2 479.5,70.0 480.0,70.2 480.5,70.1 481.0,70.3 481.5,70.2 482.0,70.3 482.5,70.6 483.0,70.5 483.5,70.6 484.0,70.4 484.5,70.5 485.0,70.5 485.5,70.4 486.1,70.5 486.6,70.6 487.1,70.7 487.6,70.7 488.1,70.7 488.6,70.6 489.1,70.7 489.6,70.7 490.1,70.4 490.6,70.5 491.1,70.5 491.6,70.4 492.1,70.2 492.6,70.0 493.1,70.2 493.6,70.4 494.1,70.5 494.6,70.6 495.1,70.7 495.6,70.7 496.1,70.6 496.7,70.7 497.2,70.7 497.7,70.9 498.2,70.7 498.7,70.8 499.2,70.8 499.7,70.8 500.2,70.7 500.7,70.9 501.2,70.8 501.7,70.5 502.2,70.7 502.7,70.4 503.2,70.5 503.7,70.3 504.2,70.2 504.7,70.0 505.2,69.8 505.7,69.9 506.2,70.1 506.7,70.3 507.3,70.4 507.8,70.5 508.3,70.4 508.8,70.6 509.3,70.4 509.8,70.6 510.3,71.0 510.8,70.7 511.3,70.7 511.8,70.7 512.3,70.8 512.8,70.8 513.3,71.1 513.8,71.0 514.3,71.2 514.8,71.1 515.3,71.0 515.8,71.2 516.3,71.1 516.8,70.9 517.3,70.7 517.9,70.7 518.4,70.4 518.9,70.2 519.4,70.0 519.9,70.1 520.4,70.1 520.9,70.2 521.4,70.0 521.9,70.1 522.4,70.3 522.9,70.1 523.4,70.1 523.9,70.4 524.4,70.4 524.9,70.4 525.4,70.4 525.9,70.1 526.4,70.3 526.9,70.4 527.4,70.1 527.9,70.4 528.5,70.5 529.0,70.4 529.5,70.3 530.0,70.3 530.5,70.2 531.0,70.5 531.5,70.5 532.0,70.7 532.5,70.9 533.0,70.7 533.5,70.9 534.0,70.8 534.5,71.1 535.0,70.9 535.5,70.9 536.0,70.8 536.5,70.9 537.0,70.6 537.5,70.5 538.0,70.4 538.6,70.3 539.1,70.5 539.6,70.1 540.1,70.2 540.6,70.2 541.1,69.9 541.6,69.9 542.1,70.0 542.6,69.8 543.1,70.1 543.6,69.9 544.1,69.8 544.6,69.9 545.1,69.8 545.6,70.1 546.1,70.1 546.6,70.1 547.1,70.0 547.6,70.1 548.1,70.0 548.6,70.1 549.2,70.2 549.7,70.2 550.2,70.4 550.7,70.1 551.2,70.3 551.7,70.1 552.2,70.2 552.7,70.2 553.2,70.2 553.7,70.2 554.2,70.4 554.7,70.5 555.2,70.4 555.7,70.5 556.2,70.4 556.7,70.5 557.2,70.3 557.7,70.3 558.2,70.0 558.7,70.2 559.2,70.0 559.8,69.9 560.3,69.7 560.8,70.0 561.3,69.9 561.8,69.9 562.3,70.0 562.8,70.1 563.3,70.3 563.8,70.3 564.3,70.3 564.8,70.4 565.3,70.6 565.8,70.6 566.3,70.6 566.8,70.5 567.3,70.6 567.8,70.9 568.3,70.6 568.8,70.4 569.3,70.5 569.8,70.6 570.4,70.4 570.9,70.1 571.4,70.5 571.9,70.6 572.4,70.7 572.9,70.4 573.4,70.7 573.9,70.6 574.4,70.5 574.9,70.3 575.4,70.4 575.9,70.5 576.4,70.3 576.9,70.3 577.4,70.3 577.9,70.5 578.4,70.2 578.9,70.5 579.4,70.5 579.9,70.6 580.4,70.6 581.0,70.7 581.5,70.8 582.0,70.7 582.5,70.6 583.0,70.5 583.5,70.6 584.0,70.4 584.5,70.4 585.0,70.5 585.5,70.6 586.0,70.6 586.5,70.7 587.0,70.9 587.5,70.9 588.0,71.3 588.5,71.1 589.0,71.1 589.5,71.2 590.0,71.0 590.5,70.8 591.0,70.6 591.6,70.7 592.1,70.5 592.6,70.5 593.1,70.4 593.6,70.5 594.1,70.4 594.6,70.7 595.1,70.8 595.6,70.8 596.1,70.8 596.6,70.5 597.1,70.8 597.6,70.8 598.1,70.9 598.6,70.9 599.1,70.9 599.6,70.7 600.1,70.6 600.6,70.7 601.1,70.8 601.6,70.8 602.2,70.6 602.7,70.5 603.2,70.3 603.7,70.4 604.2,70.4 604.7,70.4 605.2,70.6 605.7,70.7 606.2,70.7 606.7,70.9 607.2,70.9" fill="none" stroke="#ff0000" stroke-width="1.5" stroke-linejoin="round"/>
<polyline points="380.0,205.3 380.6,205.3 381.1,205.4 381.6,205.5 382.1,205.6 382.6,205.3 383.1,205.2 383.6,205.3 384.1,205.3 384.6,205.4 385.1,205.3 385.6,205.2 386.1,205.2 386.6,205.1 387.1,205.2 387.6,205.2 388.1,205.1 388.6,205.2 389.1,205.2 389.6,204.9 390.1,205.0 390.7,205.0 391.2,205.0 391.7,204.9 392.2,204.8 392.7,204.8 393.2,204.8 393.7,204.9 394.2,205.0 394.7,205.0 395.2,205.3 395.7,205.3 396.2,205.1 396.7,205.2 397.2,205.2 397.7,205.1 398.2,205.1 398.7,205.1 399.2,204.9 399.7,205.1 400.2,205.0 400.7,205.0 401.3,204.9 401.8,205.1 402.3,205.3 402.8,205.5 403.3,205.6 403.8,205.5 404.3,205.6 404.8,205.4 405.3,205.4 405.8,205.5 406.3,205.7 406.8,205.4 407.3,205.1 407.8,205.1 408.3,205.1 408.8,205.2 409.3,205.3 409.8,205.3 410.3,205.2 410.8,205.3 411.3,205.4 411.9,205.7 412.4,205.9 412.9,206.0 413.4,206.1 413.9,205.9 414.4,205.7 414.9,205.8 415.4,205.9 415.9,205.9 416.4,205.8 416.9,205.6 417.4,205.7 417.9,205.7 418.4,205.7 418.9,205.6 419.4,205.9 419.9,206.0 420.4,206.0 420.9,206.2 421.4,206.2 421.9,206.3 422.5,206.1 423.0,206.1 423.5,206.1 424.0,206.3 424.5,206.1 425.0,205.8 425.5,205.8 426.0,205.5 426.5,205.6 427.0,205.4 427.5,205.5 428.0,205.4 428.5,205.4 429.0,205.5 429.5,205.7 430.0,205.8 430.5,205.8 431.0,205.9 431.5,205.8 432.0,206.0 432.5,206.2 433.1,206.4 433.6,206.4 434.1,206.3 434.6,206.1 435.1,206.5 435.6,206.4 436.1,206.5 436.6,206.6 437.1,206.8 437.6,206.8 438.1,206.6 438.6,206.5 439.1,206.6 439.6,206.8 440.1,206.7 440.6,206.9 441.1,206.9 441.6,206.7 442.1,206.5 442.6,206.3 443.1,206.3 443.7,206.3 444.2,206.4 444.7,206.5 445.2,206.6 445.7,206.6 446.2,206.5 446.7,206.6 447.2,206.6 447.7,206.8 448.2,207.0 448.7,206.9 449.2,206.7 449.7,206.6 450.2,206.7 450.7,206.4 451.2,206.5 451.7,206.5 452.2,206.7 452.7,206.7 453.2,206.6 453.7,206.7 454.3,206.9 454.8,207.0 455.3,206.9 455.8,207.0 456.3,206.8 456.8,206.9 457.3,206.7 457.8,206.8 458.3,206.9 458.8,207.2 459.3,207.0 459.8,207.0 460.3,206.9 460.8,207.0 461.3,207.3 461.8,207.4 462.3,207.3 462.8,207.4 463.3,207.4 463.8,207.2 464.3,207.4 464.9,207.2 465.4,207.4 465.9,207.2 466.4,207.2 466.9,207.3 467.4,207.6 467.9,207.5 468.4,207.4 468.9,207.4 469.4,207.4 469.9,207.3 470.4,207.2 470.9,207.5 471.4,207.2 471.9,207.3 472.4,207.3 472.9,207.4 473.4,207.4 473.9,207.3 474.4,207.5 474.9,207.8 475.5,207.6 476.0,207.4 476.5,207.6 477.0,207.4 477.5,207.2 478.0,207.1 478.5,207.3 479.0,207.3 479.5,207.3 480.0,207.3 480.5,207.6 481.0,207.7 481.5,207.7 482.0,207.8 482.5,207.9 483.0,207.8 483.5,207.7 484.0,207.7 484.5,207.7 485.0,207.7 485.5,207.4 486.1,207.2 486.6,206.9 487.1,206.8 487.6,206.8 488.1,206.7 488.6,206.6 489.1,206.8 489.6,206.8 490.1,206.8 490.6,206.8 491.1,207.0 491.6,207.2 492.1,207.3 492.6,207.4 493.1,207.4 493.6,207.3 494.1,207.1 494.6,206.8 495.1,206.8 495.6,207.0 496.1,206.8 496.7,206.7 497.2,206.8 497.7,206.7 498.2,206.8 498.7,206.8 499.2,206.9 499.7,206.9 500.2,206.9 500.7,206.8 501.2,206.9 501.7,206.8 502.2,206.6 502.7,206.6 503.2,206.4 503.7,206.5 504.2,206.4 504.7,206.4 505.2,206.3 505.7,206.2 506.2,206.3 506.7,206.2 507.3,206.2 507.8,206.2 508.3,206.4 508.8,206.4 509.3,206.4 509.8,206.6 510.3,206.5 510.8,206.4 511.3,206.2 511.8,206.3 512.3,206.4 512.8,206.2 513.3,206.2 513.8,205.9 514.3,206.1 514.8,206.0 515.3,206.0 515.8,205.9 516.3,205.7 516.8,205.5 517.3,205.3 517.9,205.3 518.4,205.2 518.9,205.3 519.4,204.9 519.9,204.8 520.4,204.6 520.9,204.4 521.4,204.4 521.9,204.2 522.4,203.9 522.9,203.4 523.4,202.9 523.9,202.5 524.4,202.2 524.9,201.5 525.4,201.0 525.9,200.4 526.4,199.8 526.9,199.1 527.4,198.4 527.9,197.6 528.5,196.7 529.0,195.6 529.5,194.4 530.0,193.3 530.5,192.0 531.0,190.6 531.5,189.0 532.0,187.3 532.5,185.5 533.0,183.6 533.5,181.5 534.0,179.3 534.5,176.9 535.0,174.4 535.5,171.8 536.0,169.1 536.5,166.3 537.0,163.4 537.5,160.4 538.0,157.4 538.6,154.4 539.1,148.4 539.6,140.8 540.1,133.7 540.6,127.4 541.1,121.9 541.6,117.3 542.1,113.6 542.6,110.7 543.1,108.3 543.6,106.4 544.1,104.9 544.6,103.8 545.1,102.9 545.6,102.2 546.1,101.6 546.6,101.0 547.1,100.6 547.6,100.2 548.1,100.1 548.6,99.9 549.2,99.7 549.7,99.5 550.2,99.3 550.7,98.9 551.2,98.7 551.7,98.5 552.2,98.4 552.7,98.3 553.2,98.1 553.7,97.8 554.2,97.6 554.7,97.2 555.2,97.0 555.7,96.8 556.2,96.6 556.7,96.5 557.2,96.1 557.7,95.6 558.2,95.0 558.7,94.5 559.2,94.0 559.8,93.6 560.3,93.3 560.8,93.1 561.3,92.8 561.8,92.3 562.3,92.0 562.8,91.5 563.3,91.0 563.8,90.5 564.3,89.9 564.8,89.5 565.3,89.1 565.8,88.5 566.3,88.0 566.8,87.4 567.3,87.0 567.8,86.8 568.3,86.5 568.8,86.3 569.3,85.9 569.8,85.6 570.4,84.9 570.9,84.4 571.4,83.9 571.9,83.7 572.4,83.2 572.9,82.7 573.4,82.0 573.9,81.5 574.4,81.0 574.9,80.7 575.4,80.4 575.9,79.9 576.4,79.5 576.9,78.9 577.4,78.6 577.9,78.2 578.4,77.8 578.9,77.5 579.4,77.2 579.9,76.8 580.4,76.7 581.0,76.4 581.5,76.3 582.0,76.2 582.5,75.9 583.0,75.6 583.5,75.4 584.0,75.0 584.5,74.8 585.0,74.6 585.5,74.1 586.0,74.3 586.5,74.0 587.0,73.7 587.5,73.6 588.0,73.5 588.5,73.5 589.0,73.6 589.5,73.6 590.0,73.3 590.5,73.4 591.0,73.0 591.6,73.0 592.1,73.0 592.6,72.9 593.1,72.8 593.6,72.9 594.1,72.6 594.6,72.5 595.1,72.5 595.6,72.1 596.1,72.0 596.6,71.7 597.1,71.7 597.6,71.6 598.1,71.4 598.6,71.1 599.1,71.1 599.6,71.1 600.1,70.9 600.6,71.0 601.1,71.1 601.6,71.1 602.2,71.2 602.7,71.0 603.2,71.1 603.7,71.2 604.2,71.3 604.7,71.4 605.2,71.4 605.7,71.3 606.2,71.5 606.7,71.6 607.2,71.4" fill="none" stroke="#ff0000" stroke-width="1.5" stroke-linejoin="round"/>
<polyline points="380.0,203.6 380.6,203.4 381.1,203.2 381.6,203.3 382.1,203.3 382.6,203.3 383.1,203.5 383.6,203.5 384.1,203.5 384.6,203.5 385.1,203.4 385.6,203.4 386.1,203.6 386.6,203.6 387.1,203.4 387.6,203.2 388.1,203.1 388.6,203.2 389.1,203.3 389.6,203.3 390.1,203.1 390.7,203.1 391.2,202.9 391.7,202.6 392.2,202.6 392.7,202.8 393.2,202.6 393.7,202.4 394.2,202.1 394.7,201.9 395.2,201.6 395.7,201.4 396.2,201.2 396.7,201.1 397.2,200.6 397.7,200.1 398.2,199.7 398.7,199.3 399.2,198.9 399.7,198.2 400.2,197.7 400.7,197.1 401.3,196.3 401.8,195.4 402.3,194.4 402.8,193.3 403.3,192.2 403.8,191.0 404.3,189.7 404.8,188.2 405.3,186.5 405.8,184.7 406.3,182.8 406.8,180.7 407.3,178.6 407.8,176.3 408.3,173.9 408.8,171.3 409.3,168.6 409.8,165.8 410.3,163.0 410.8,160.1 411.3,157.1 411.9,154.1 412.4,151.9 412.9,149.6 413.4,147.4 413.9,145.2 414.4,143.0 414.9,140.9 415.4,138.9 415.9,136.9 416.4,135.0 416.9,133.1 417.4,131.3 417.9,129.6 418.4,128.0 418.9,126.4 419.4,125.0 419.9,123.4 420.4,122.0 420.9,120.7 421.4,119.4 421.9,118.3 422.5,117.2 423.0,116.3 423.5,115.4 424.0,114.6 424.5,113.7 425.0,113.1 425.5,112.5 426.0,111.9 426.5,111.3 427.0,110.6 427.5,110.3 428.0,109.5 428.5,109.0 429.0,108.5 429.5,108.3 430.0,108.0 430.5,107.3 431.0,106.7 431.5,106.3 432.0,106.0 432.5,105.5 433.1,105.4 433.6,105.3 434.1,104.9 434.6,104.5 435.1,104.2 435.6,104.1 436.1,104.1 436.6,103.8 437.1,103.6 437.6,103.6 438.1,103.2 438.6,102.8 439.1,102.7 439.6,102.2 440.1,101.8 440.6,101.2 441.1,100.9 441.6,100.6 442.1,100.3 442.6,99.5 443.1,98.8 443.7,98.1 444.2,97.2 444.7,96.9 445.2,96.6 445.7,96.2 446.2,95.1 446.7,94.2 447.2,93.3 447.7,92.7 448.2,91.8 448.7,91.2 449.2,90.5 449.7,89.7 450.2,88.4 450.7,87.4 451.2,86.5 451.7,85.6 452.2,84.7 452.7,83.6 453.2,82.7 453.7,81.6 454.3,80.5 454.8,79.7 455.3,79.0 455.8,78.4 456.3,77.8 456.8,77.3 457.3,76.6 457.8,76.3 458.3,75.9 458.8,75.6 459.3,75.1 459.8,74.5 460.3,74.1 460.8,73.6 461.3,73.1 461.8,72.7 462.3,72.6 462.8,72.1 463.3,71.7 463.8,71.2 464.3,71.2 464.9,70.9 465.4,70.7 465.9,70.5 466.4,70.5 466.9,70.3 467.4,70.3 467.9,70.4 468.4,70.4 468.9,70.6 469.4,70.6 469.9,70.6 470.4,70.5 470.9,70.4 471.4,70.4 471.9,70.3 472.4,70.0 472.9,69.8 473.4,69.7 473.9,69.5 474.4,69.4 474.9,69.5 475.5,69.7 476.0,69.6 476.5,69.4 477.0,69.3 477.5,69.5 478.0,69.6 478.5,69.5 479.0,69.7 479.5,69.7 480.0,69.6 480.5,69.5 481.0,69.5 481.5,69.5 482.0,69.6 482.5,69.4 483.0,69.2 483.5,69.3 484.0,69.3 484.5,69.0 485.0,68.9 485.5,69.1 486.1,69.3 486.6,69.5 487.1,69.5 487.6,69.6 488.1,69.9 488.6,69.8 489.1,69.8 489.6,70.1 490.1,70.3 490.6,70.2 491.1,70.3 491.6,70.2 492.1,70.4 492.6,70.3 493.1,70.2 493.6,70.2 494.1,70.1 494.6,70.2 495.1,70.0 495.6,69.8 496.1,69.7 496.7,69.8 497.2,69.8 497.7,69.5 498.2,69.5 498.7,69.6 499.2,69.4 499.7,69.1 500.2,69.3 500.7,69.4 501.2,69.4 501.7,69.4 502.2,69.3 502.7,69.4 503.2,69.4 503.7,69.2 504.2,69.3 504.7,69.5 505.2,69.5 505.7,69.7 506.2,69.6 506.7,69.3 507.3,69.1 507.8,69.3 508.3,69.2 508.8,69.4 509.3,69.5 509.8,69.6 510.3,69.3 510.8,69.0 511.3,69.0 511.8,69.2 512.3,69.2 512.8,69.1 513.3,69.2 513.8,69.0 514.3,69.0 514.8,68.9 515.3,69.2 515.8,69.2 516.3,69.5 516.8,69.6 517.3,69.8 517.9,69.7 518.4,69.6 518.9,69.7 519.4,69.5 519.9,69.3 520.4,69.3 520.9,69.4 521.4,69.4 521.9,69.4 522.4,69.4 522.9,69.6 523.4,69.7 523.9,69.6 524.4,69.7 524.9,69.9 525.4,69.9 525.9,69.9 526.4,69.7 526.9,69.8 527.4,69.8 527.9,69.7 528.5,69.6 529.0,69.9 529.5,69.8 530.0,69.8 530.5,69.6 531.0,69.6 531.5,69.7 532.0,69.4 532.5,69.3 533.0,69.3 533.5,69.3 534.0,69.1 534.5,69.0 535.0,68.8 535.5,68.8 536.0,68.7 536.5,68.6 537.0,68.6 537.5,68.4 538.0,68.3 538.6,68.4 539.1,68.5 539.6,68.7 540.1,68.9 540.6,68.8 541.1,69.0 541.6,69.0 542.1,69.2 542.6,69.4 543.1,69.4 543.6,69.2 544.1,69.0 544.6,68.8 545.1,68.6 545.6,68.8 546.1,68.6 546.6,68.7 547.1,68.6 547.6,68.6 548.1,68.7 548.6,68.9 549.2,69.1 549.7,69.3 550.2,69.5 550.7,69.5 551.2,69.6 551.7,69.8 552.2,70.0 552.7,70.0 553.2,70.0 553.7,69.9 554.2,69.8 554.7,69.9 555.2,70.0 555.7,70.0 556.2,70.0 556.7,69.6 557.2,69.6 557.7,69.6 558.2,69.6 558.7,69.6 559.2,69.6 559.8,69.4 560.3,69.5 560.8,69.4 561.3,69.6 561.8,69.8 562.3,69.7 562.8,69.7 563.3,69.5 563.8,69.6 564.3,69.6 564.8,69.5 565.3,69.3 565.8,69.1 566.3,68.9 566.8,68.9 567.3,69.1 567.8,68.8 568.3,69.0 568.8,69.0 569.3,69.2 569.8,69.2 570.4,69.3 570.9,69.3 571.4,69.5 571.9,69.3 572.4,69.2 572.9,69.5 573.4,69.3 573.9,69.5 574.4,69.4 574.9,69.5 575.4,69.3 575.9,69.5 576.4,69.6 576.9,69.6 577.4,69.8 577.9,69.7 578.4,69.8 578.9,69.6 579.4,69.5 579.9,69.6 580.4,69.7 581.0,69.6 581.5,69.4 582.0,69.6 582.5,69.3 583.0,69.3 583.5,69.5 584.0,69.8 584.5,69.9 585.0,70.0 585.5,70.3 586.0,70.1 586.5,70.3 587.0,70.2 587.5,70.5 588.0,70.5 588.5,70.5 589.0,70.5 589.5,70.7 590.0,70.4 590.5,70.2 591.0,70.4 591.6,70.4 592.1,70.4 592.6,70.2 593.1,70.2 593.6,70.4 594.1,70.1 594.6,70.2 595.1,70.4 595.6,70.7 596.1,70.7 596.6,70.7 597.1,70.9 597.6,71.1 598.1,71.3 598.6,71.0 599.1,71.2 599.6,71.1 600.1,70.9 600.6,70.7 601.1,70.5 601.6,70.4 602.2,70.5 602.7,70.6 603.2,70.5 603.7,70.6 604.2,70.6 604.7,70.4 605.2,70.6 605.7,70.8 606.2,70.8 606.7,70.8 607.2,70.7" fill="none" stroke="#0000ff" stroke-width="1.5" stroke-linejoin="round"/>
<polyline points="380.0,203.4 380.6,203.4 381.1,203.3 381.6,203.5 382.1,203.2 382.6,203.3 383.1,203.6 383.6,203.6 384.1,203.8 384.6,203.7 385.1,203.6 385.6,203.6 386.1,203.7 386.6,203.8 387.1,203.9 387.6,203.8 388.1,203.8 388.6,203.6 389.1,203.5 389.6,203.5 390.1,203.5 390.7,203.4 391.2,203.7 391.7,203.6 392.2,203.8 392.7,203.9 393.2,203.7 393.7,203.6 394.2,203.4 394.7,203.2 395.2,203.5 395.7,203.4 396.2,203.2 396.7,203.1 397.2,202.7 397.7,202.6 398.2,202.8 398.7,203.1 399.2,203.4 399.7,203.5 400.2,203.3 400.7,203.3 401.3,203.6 401.8,203.8 402.3,203.8 402.8,203.9 403.3,203.9 403.8,203.6 404.3,203.6 404.8,203.6 405.3,203.5 405.8,203.6 406.3,203.4 406.8,203.4 407.3,203.5 407.8,203.4 408.3,203.2 408.8,203.4 409.3,203.4 409.8,203.6 410.3,203.7 410.8,203.9 411.3,204.1 411.9,204.0 412.4,203.9 412.9,204.0 413.4,204.1 413.9,204.0 414.4,203.8 414.9,203.8 415.4,203.9 415.9,203.6 416.4,203.5 416.9,203.5 417.4,203.6 417.9,203.4 418.4,203.3 418.9,203.6 419.4,203.6 419.9,203.6 420.4,203.7 420.9,203.7 421.4,203.9 421.9,203.9 422.5,204.0 423.0,204.1 423.5,204.1 424.0,204.0 424.5,204.0 425.0,204.0 425.5,204.1 426.0,204.2 426.5,204.0 427.0,204.1 427.5,204.0 428.0,204.0 428.5,204.2 429.0,204.3 429.5,204.3 430.0,204.1 430.5,203.8 431.0,203.9 431.5,204.1 432.0,204.0 432.5,204.3 433.1,204.2 433.6,204.1 434.1,204.1 434.6,204.2 435.1,204.3 435.6,204.6 436.1,204.6 436.6,204.3 437.1,204.3 437.6,204.2 438.1,204.5 438.6,204.6 439.1,204.7 439.6,204.9 440.1,204.9 440.6,204.8 441.1,204.6 441.6,204.7 442.1,204.6 442.6,204.7 443.1,204.5 443.7,204.5 444.2,204.5 444.7,204.2 445.2,204.2 445.7,204.5 446.2,204.7 446.7,204.8 447.2,205.0 447.7,205.0 448.2,205.0 448.7,204.8 449.2,204.7 449.7,205.0 450.2,205.2 450.7,205.0 451.2,204.9 451.7,204.8 452.2,204.8 452.7,205.0 453.2,205.0 453.7,205.1 454.3,205.2 454.8,205.2 455.3,205.2 455.8,205.1 456.3,205.2 456.8,205.4 457.3,205.3 457.8,205.0 458.3,204.8 458.8,204.9 459.3,204.9 459.8,204.9 460.3,204.8 460.8,204.8 461.3,204.9 461.8,204.9 462.3,204.9 462.8,205.0 463.3,205.3 463.8,205.5 464.3,205.6 464.9,205.3 465.4,205.3 465.9,205.3 466.4,205.4 466.9,205.2 467.4,205.5 467.9,205.6 468.4,205.6 468.9,205.4 469.4,205.6 469.9,205.7 470.4,205.7 470.9,205.7 471.4,205.5 471.9,205.7 472.4,205.4 472.9,205.4 473.4,205.1 473.9,205.1 474.4,205.1 474.9,205.1 475.5,205.2 476.0,205.2 476.5,205.3 477.0,205.0 477.5,205.1 478.0,205.2 478.5,205.3 479.0,205.2 479.5,205.1 480.0,205.2 480.5,205.2 481.0,205.2 481.5,205.4 482.0,205.6 482.5,205.6 483.0,205.5 483.5,205.7 484.0,205.9 484.5,205.7 485.0,205.7 485.5,205.5 486.1,205.7 486.6,205.7 487.1,205.6 487.6,205.5 488.1,205.4 488.6,205.4 489.1,205.2 489.6,205.4 490.1,205.3 490.6,205.3 491.1,205.2 491.6,205.2 492.1,205.1 492.6,205.3 493.1,205.5 493.6,205.2 494.1,205.2 494.6,205.2 495.1,205.1 495.6,205.2 496.1,205.2 496.7,205.1 497.2,205.3 497.7,205.2 498.2,205.3 498.7,205.2 499.2,205.1 499.7,205.0 500.2,205.2 500.7,205.0 501.2,205.1 501.7,204.9 502.2,204.7 502.7,204.6 503.2,204.3 503.7,204.6 504.2,204.6 504.7,204.6 505.2,204.3 505.7,204.3 506.2,204.3 506.7,204.4 507.3,204.5 507.8,204.7 508.3,204.6 508.8,204.4 509.3,204.5 509.8,204.4 510.3,204.4 510.8,204.6 511.3,204.5 511.8,204.4 512.3,204.3 512.8,204.1 513.3,204.2 513.8,204.3 514.3,204.2 514.8,204.2 515.3,204.1 515.8,203.7 516.3,203.4 516.8,203.4 517.3,203.3 517.9,203.4 518.4,203.2 518.9,203.1 519.4,203.0 519.9,202.6 520.4,202.5 520.9,202.5 521.4,202.5 521.9,202.0 522.4,201.8 522.9,201.3 523.4,200.7 523.9,200.4 524.4,199.8 524.9,199.4 525.4,199.0 525.9,198.4 526.4,197.6 526.9,197.0 527.4,196.0 527.9,195.1 528.5,194.3 529.0,193.2 529.5,192.1 530.0,190.8 530.5,189.4 531.0,187.9 531.5,186.3 532.0,184.5 532.5,182.7 533.0,180.7 533.5,178.4 534.0,176.1 534.5,173.6 535.0,171.1 535.5,168.4 536.0,165.6 536.5,162.7 537.0,159.7 537.5,156.7 538.0,153.6 538.6,149.6 539.1,141.8 539.6,134.5 540.1,127.8 540.6,121.9 541.1,116.9 541.6,112.8 542.1,109.4 542.6,106.9 543.1,104.8 543.6,103.3 544.1,102.0 544.6,101.0 545.1,100.3 545.6,99.7 546.1,99.3 546.6,98.9 547.1,98.7 547.6,98.4 548.1,98.0 548.6,97.7 549.2,97.6 549.7,97.3 550.2,97.0 550.7,96.9 551.2,96.6 551.7,96.2 552.2,95.8 552.7,95.5 553.2,95.3 553.7,95.0 554.2,94.8 554.7,94.7 555.2,94.5 555.7,94.1 556.2,93.8 556.7,93.6 557.2,93.3 557.7,93.0 558.2,92.5 558.7,92.3 559.2,91.7 559.8,91.3 560.3,91.0 560.8,90.8 561.3,90.3 561.8,89.7 562.3,89.5 562.8,89.0 563.3,88.7 563.8,88.2 564.3,87.6 564.8,87.2 565.3,86.8 565.8,86.3 566.3,86.0 566.8,85.5 567.3,85.2 567.8,84.7 568.3,84.3 568.8,83.6 569.3,83.4 569.8,82.9 570.4,82.5 570.9,82.1 571.4,81.7 571.9,81.3 572.4,80.8 572.9,80.4 573.4,80.0 573.9,79.9 574.4,79.4 574.9,79.0 575.4,78.5 575.9,78.2 576.4,78.0 576.9,77.9 577.4,77.7 577.9,77.6 578.4,77.3 578.9,77.0 579.4,76.8 579.9,76.5 580.4,76.4 581.0,76.2 581.5,76.0 582.0,75.8 582.5,75.4 583.0,75.0 583.5,74.8 584.0,74.6 584.5,74.3 585.0,74.3 585.5,74.0 586.0,73.7 586.5,73.5 587.0,73.4 587.5,73.4 588.0,73.1 588.5,72.9 589.0,72.9 589.5,73.0 590.0,72.8 590.5,72.6 591.0,72.6 591.6,72.5 592.1,72.3 592.6,72.3 593.1,72.5 593.6,72.5 594.1,72.4 594.6,72.2 595.1,72.1 595.6,72.0 596.1,71.7 596.6,71.5 597.1,71.3 597.6,71.3 598.1,71.3 598.6,71.0 599.1,70.9 599.6,70.8 600.1,70.9 600.6,71.0 601.1,71.2 601.6,71.4 602.2,71.5 602.7,71.4 603.2,71.4 603.7,71.4 604.2,71.5 604.7,71.4 605.2,71.5 605.7,71.4 606.2,71.4 606.7,71.2 607.2,71.3" fill="none" stroke="#0000ff" stroke-width="1.5" stroke-linejoin="round"/>
<polyline points="380.0,202.1 380.6,202.2 381.1,202.1 381.6,202.1 382.1,202.2 382.6,202.2 383.1,202.3 383.6,202.3 384.1,202.2 384.6,202.0 385.1,202.1 385.6,202.0 386.1,202.1 386.6,201.9 387.1,201.9 387.6,201.8 388.1,201.8 388.6,201.7 389.1,201.7 389.6,202.0 390.1,201.8 390.7,201.6 391.2,201.6 391.7,201.6 392.2,201.3 392.7,201.5 393.2,201.7 393.7,201.5 394.2,201.4 394.7,201.2 395.2,201.5 395.7,201.6 396.2,201.6 396.7,201.4 397.2,201.2 397.7,200.7 398.2,200.3 398.7,200.2 399.2,199.9 399.7,199.5 400.2,199.0 400.7,198.4 401.3,198.0 401.8,197.4 402.3,196.9 402.8,196.4 403.3,195.7 403.8,195.0 404.3,193.9 404.8,193.0 405.3,191.8 405.8,190.6 406.3,189.1 406.8,187.6 407.3,185.8 407.8,183.8 408.3,181.8 408.8,179.5 409.3,177.1 409.8,174.5 410.3,171.8 410.8,169.0 411.3,166.0 411.9,163.0 412.4,159.8 412.9,156.6 413.4,153.4 413.9,151.2 414.4,148.9 414.9,146.7 415.4,144.5 415.9,142.4 416.4,140.3 416.9,138.2 417.4,136.2 417.9,134.3 418.4,132.5 418.9,130.6 419.4,129.0 419.9,127.4 420.4,125.9 420.9,124.5 421.4,123.0 421.9,121.8 422.5,120.5 423.0,119.4 423.5,118.4 424.0,117.4 424.5,116.3 425.0,115.3 425.5,114.4 426.0,113.5 426.5,112.7 427.0,111.9 427.5,111.3 428.0,110.6 428.5,110.0 429.0,109.4 429.5,109.1 430.0,108.5 430.5,108.0 431.0,107.5 431.5,107.2 432.0,106.9 432.5,106.7 433.1,106.5 433.6,106.1 434.1,105.7 434.6,105.1 435.1,105.0 435.6,104.7 436.1,104.4 436.6,104.1 437.1,103.6 437.6,103.2 438.1,102.8 438.6,102.4 439.1,102.1 439.6,101.9 440.1,101.4 440.6,101.0 441.1,100.7 441.6,100.2 442.1,99.9 442.6,99.3 443.1,98.6 443.7,98.1 444.2,97.5 444.7,96.8 445.2,96.2 445.7,95.5 446.2,94.8 446.7,94.0 447.2,92.9 447.7,92.2 448.2,91.6 448.7,90.8 449.2,90.1 449.7,89.1 450.2,88.0 450.7,87.5 451.2,86.6 451.7,85.7 452.2,85.1 452.7,84.3 453.2,83.1 453.7,82.2 454.3,81.4 454.8,80.8 455.3,80.2 455.8,79.3 456.3,78.5 456.8,78.1 457.3,77.3 457.8,76.8 458.3,76.3 458.8,75.8 459.3,75.1 459.8,74.6 460.3,74.2 460.8,74.0 461.3,73.6 461.8,73.1 462.3,72.9 462.8,72.6 463.3,72.6 463.8,72.4 464.3,72.2 464.9,72.0 465.4,71.7 465.9,71.3 466.4,71.3 466.9,71.3 467.4,71.0 467.9,70.9 468.4,70.7 468.9,70.6 469.4,70.7 469.9,70.6 470.4,70.7 470.9,70.8 471.4,70.5 471.9,70.4 472.4,70.3 472.9,70.1 473.4,70.2 473.9,70.1 474.4,70.1 474.9,70.3 475.5,70.1 476.0,70.1 476.5,70.1 477.0,70.5 477.5,70.6 478.0,70.8 478.5,70.7 479.0,70.9 479.5,70.8 480.0,70.6 480.5,70.6 481.0,70.3 481.5,70.3 482.0,70.2 482.5,69.9 483.0,69.7 483.5,69.6 484.0,69.5 484.5,69.6 485.0,69.7 485.5,69.8 486.1,70.1 486.6,70.2 487.1,70.1 487.6,70.2 488.1,70.3 488.6,70.2 489.1,70.4 489.6,70.1 490.1,70.1 490.6,69.9 491.1,69.9 491.6,69.9 492.1,69.8 492.6,69.8 493.1,69.8 493.6,70.1 494.1,70.0 494.6,70.0 495.1,70.2 495.6,70.2 496.1,70.1 496.7,70.1 497.2,70.1 497.7,70.2 498.2,70.3 498.7,70.0 499.2,70.1 499.7,70.2 500.2,70.1 500.7,70.1 501.2,70.2 501.7,70.4 502.2,70.5 502.7,70.3 503.2,70.3 503.7,70.3 504.2,70.1 504.7,70.1 505.2,70.0 505.7,70.2 506.2,70.0 506.7,69.8 507.3,69.9 507.8,70.0 508.3,70.0 508.8,70.1 509.3,70.2 509.8,70.0 510.3,70.0 510.8,69.9 511.3,70.0 511.8,69.9 512.3,69.8 512.8,69.7 513.3,69.6 513.8,69.5 514.3,69.6 514.8,69.6 515.3,69.8 515.8,69.5 516.3,69.6 516.8,69.7 517.3,69.5 517.9,69.5 518.4,69.4 518.9,69.4 519.4,69.2 519.9,69.2 520.4,69.1 520.9,69.2 521.4,69.3 521.9,69.3 522.4,69.5 522.9,69.7 523.4,69.8 523.9,69.8 524.4,69.8 524.9,69.8 525.4,69.9 525.9,69.8 526.4,69.7 526.9,69.9 527.4,69.8 527.9,69.6 528.5,69.8 529.0,69.9 529.5,70.2 530.0,70.3 530.5,70.2 531.0,70.4 531.5,70.4 532.0,70.1 532.5,69.9 533.0,70.2 533.5,69.9 534.0,69.9 534.5,69.8 535.0,69.6 535.5,69.7 536.0,69.4 536.5,69.7 537.0,70.0 537.5,70.2 538.0,70.2 538.6,70.3 539.1,70.3 539.6,70.1 540.1,70.2 540.6,70.4 541.1,70.4 541.6,70.3 542.1,70.1 542.6,70.2 543.1,69.9 543.6,69.9 544.1,69.8 544.6,69.9 545.1,70.0 545.6,70.0 546.1,70.2 546.6,70.0 547.1,70.0 547.6,70.0 548.1,70.2 548.6,70.3 549.2,70.5 549.7,70.8 550.2,70.7 550.7,70.7 551.2,70.5 551.7,70.7 552.2,70.7 552.7,70.4 553.2,70.4 553.7,70.4 554.2,70.0 554.7,69.8 555.2,69.8 555.7,69.5 556.2,69.7 556.7,69.4 557.2,69.6 557.7,69.7 558.2,69.7 558.7,69.7 559.2,69.7 559.8,69.7 560.3,69.8 560.8,69.8 561.3,69.6 561.8,69.8 562.3,69.6 562.8,69.7 563.3,69.6 563.8,69.6 564.3,69.6 564.8,69.6 565.3,69.6 565.8,69.8 566.3,70.0 566.8,70.0 567.3,70.1 567.8,70.0 568.3,70.0 568.8,70.1 569.3,70.1 569.8,70.2 570.4,70.1 570.9,70.3 571.4,70.3 571.9,70.2 572.4,70.0 572.9,70.2 573.4,70.2 573.9,70.1 574.4,70.1 574.9,69.9 575.4,69.6 575.9,69.6 576.4,69.6 576.9,69.9 577.4,70.0 577.9,70.1 578.4,70.1 578.9,70.3 579.4,70.4 579.9,70.7 580.4,71.0 581.0,71.0 581.5,71.0 582.0,71.1 582.5,71.3 583.0,71.0 583.5,70.8 584.0,71.0 584.5,70.9 585.0,70.7 585.5,70.5 586.0,70.6 586.5,70.3 587.0,70.4 587.5,70.4 588.0,70.4 588.5,70.6 589.0,70.3 589.5,70.4 590.0,70.7 590.5,70.9 591.0,70.8 591.6,71.1 592.1,70.9 592.6,70.7 593.1,70.9 593.6,70.9 594.1,71.1 594.6,71.1 595.1,70.9 595.6,70.7 596.1,70.7 596.6,70.8 597.1,70.7 597.6,70.7 598.1,70.6 598.6,70.6 599.1,70.5 599.6,70.5 600.1,70.6 600.6,70.7 601.1,70.8 601.6,70.7 602.2,71.0 602.7,71.1 603.2,71.0 603.7,71.0 604.2,71.1 604.7,71.2 605.2,71.2 605.7,71.0 606.2,71.1 606.7,71.0 607.2,70.7" fill="none" stroke="#00a000" stroke-width="1.5" stroke-linejoin="round"/>
<polyline points="380.0,201.9 380.6,201.8 381.1,202.0 381.6,202.0 382.1,201.7 382.6,201.7 383.1,201.6 383.6,201.4 384.1,201.4 384.6,201.2 385.1,201.3 385.6,201.5 386.1,201.5 386.6,201.5 387.1,201.7 387.6,201.6 388.1,201.7 388.6,201.8 389.1,201.6 389.6,201.6 390.1,201.6 390.7,201.6 391.2,201.6 391.7,201.9 392.2,201.9 392.7,202.0 393.2,202.1 393.7,202.2 394.2,202.4 394.7,202.5 395.2,202.7 395.7,202.7 396.2,202.5 396.7,202.4 397.2,202.5 397.7,202.3 398.2,202.1 398.7,202.0 399.2,201.9 399.7,202.1 400.2,202.0 400.7,202.0 401.3,201.9 401.8,201.8 402.3,201.6 402.8,201.9 403.3,202.1 403.8,202.3 404.3,202.0 404.8,202.1 405.3,202.1 405.8,202.2 406.3,202.2 406.8,202.1 407.3,202.0 407.8,201.8 408.3,201.8 408.8,201.9 409.3,202.3 409.8,202.1 410.3,202.3 410.8,202.3 411.3,202.6 411.9,202.5 412.4,202.6 412.9,202.7 413.4,202.5 413.9,202.5 414.4,202.5 414.9,202.6 415.4,202.3 415.9,202.3 416.4,202.1 416.9,202.3 417.4,202.3 417.9,202.3 418.4,202.6 418.9,202.7 419.4,202.5 419.9,202.4 420.4,202.5 420.9,202.4 421.4,202.6 421.9,202.8 422.5,202.8 423.0,202.7 423.5,202.6 424.0,202.4 424.5,202.7 425.0,202.7 425.5,202.9 426.0,202.7 426.5,202.6 427.0,202.4 427.5,202.7 428.0,202.9 428.5,202.8 429.0,202.8 429.5,202.8 430.0,202.7 430.5,202.5 431.0,202.6 431.5,202.7 432.0,202.8 432.5,202.5 433.1,202.3 433.6,202.4 434.1,202.4 434.6,202.2 435.1,202.5 435.6,202.7 436.1,202.7 436.6,202.8 437.1,202.9 437.6,203.1 438.1,203.3 438.6,203.2 439.1,203.2 439.6,203.2 440.1,202.9 440.6,203.1 441.1,203.1 441.6,203.0 442.1,202.8 442.6,202.8 443.1,202.9 443.7,202.8 444.2,202.9 444.7,202.9 445.2,203.1 445.7,203.1 446.2,203.1 446.7,203.3 447.2,203.2 447.7,203.1 448.2,203.0 448.7,203.1 449.2,203.1 449.7,203.3 450.2,203.1 450.7,202.9 451.2,202.9 451.7,203.0 452.2,203.3 452.7,203.3 453.2,203.4 453.7,203.3 454.3,203.5 454.8,203.4 455.3,203.5 455.8,203.5 456.3,203.4 456.8,203.5 457.3,203.2 457.8,203.5 458.3,203.6 458.8,203.6 459.3,203.7 459.8,203.7 460.3,203.8 460.8,203.7 461.3,204.0 461.8,203.9 462.3,203.9 462.8,203.9 463.3,203.8 463.8,203.7 464.3,203.6 464.9,203.7 465.4,203.9 465.9,204.1 466.4,204.0 466.9,203.9 467.4,203.9 467.9,203.7 468.4,203.7 468.9,203.9 469.4,203.8 469.9,203.9 470.4,203.8 470.9,203.9 471.4,204.0 471.9,204.0 472.4,204.3 472.9,204.4 473.4,204.5 473.9,204.5 474.4,204.7 474.9,204.7 475.5,204.6 476.0,204.5 476.5,204.5 477.0,204.6 477.5,204.5 478.0,204.3 478.5,204.4 479.0,204.6 479.5,204.5 480.0,204.4 480.5,204.3 481.0,204.1 481.5,204.1 482.0,204.1 482.5,204.1 483.0,204.1 483.5,203.9 484.0,203.7 484.5,203.6 485.0,203.7 485.5,203.8 486.1,204.0 486.6,203.8 487.1,203.9 487.6,203.9 488.1,203.9 488.6,204.0 489.1,204.0 489.6,203.8 490.1,203.7 490.6,203.6 491.1,203.6 491.6,203.5 492.1,203.5 492.6,203.4 493.1,203.7 493.6,203.8 494.1,203.9 494.6,204.0 495.1,204.1 495.6,204.3 496.1,204.1 496.7,204.3 497.2,204.0 497.7,203.9 498.2,203.7 498.7,203.4 499.2,203.1 499.7,203.1 500.2,203.0 500.7,203.0 501.2,203.0 501.7,202.8 502.2,202.8 502.7,203.1 503.2,203.2 503.7,203.3 504.2,203.4 504.7,203.3 505.2,203.5 505.7,203.3 506.2,203.2 506.7,203.3 507.3,203.3 507.8,203.0 508.3,202.7 508.8,202.7 509.3,202.8 509.8,202.8 510.3,202.8 510.8,202.9 511.3,203.1 511.8,203.1 512.3,203.0 512.8,203.2 513.3,203.1 513.8,202.9 514.3,202.7 514.8,202.5 515.3,202.2 515.8,202.0 516.3,201.9 516.8,201.6 517.3,201.7 517.9,201.4 518.4,201.6 518.9,201.4 519.4,201.4 519.9,201.4 520.4,201.3 520.9,200.8 521.4,200.3 521.9,200.1 522.4,199.6 522.9,199.2 523.4,198.7 523.9,198.3 524.4,197.9 524.9,197.3 525.4,196.8 525.9,196.2 526.4,195.6 526.9,194.7 527.4,193.9 527.9,193.1 528.5,192.2 529.0,191.1 529.5,189.8 530.0,188.6 530.5,187.0 531.0,185.5 531.5,183.9 532.0,182.0 532.5,180.1 533.0,178.0 533.5,175.7 534.0,173.3 534.5,170.7 535.0,168.0 535.5,165.3 536.0,162.4 536.5,159.4 537.0,156.4 537.5,153.4 538.0,150.3 538.6,143.4 539.1,135.9 539.6,128.9 540.1,122.7 540.6,117.4 541.1,112.9 541.6,109.3 542.1,106.4 542.6,104.1 543.1,102.3 543.6,100.9 544.1,99.8 544.6,99.0 545.1,98.4 545.6,97.9 546.1,97.5 546.6,97.1 547.1,96.7 547.6,96.4 548.1,96.2 548.6,96.1 549.2,95.7 549.7,95.4 550.2,95.1 550.7,94.8 551.2,94.6 551.7,94.6 552.2,94.4 552.7,94.0 553.2,93.9 553.7,93.5 554.2,93.2 554.7,93.0 555.2,92.4 555.7,92.4 556.2,92.0 556.7,91.7 557.2,91.2 557.7,91.2 558.2,90.6 558.7,90.0 559.2,89.6 559.8,89.0 560.3,89.0 560.8,88.4 561.3,88.0 561.8,87.7 562.3,87.5 562.8,86.9 563.3,86.5 563.8,86.4 564.3,86.2 564.8,86.0 565.3,85.3 565.8,84.8 566.3,84.3 566.8,83.6 567.3,82.9 567.8,82.7 568.3,82.4 568.8,82.0 569.3,81.5 569.8,80.9 570.4,80.7 570.9,80.3 571.4,79.9 571.9,79.8 572.4,79.5 572.9,78.9 573.4,78.7 573.9,78.2 574.4,78.1 574.9,77.7 575.4,77.5 575.9,77.2 576.4,76.8 576.9,76.3 577.4,76.1 577.9,76.0 578.4,75.4 578.9,75.1 579.4,74.8 579.9,74.8 580.4,74.4 581.0,74.5 581.5,74.2 582.0,74.0 582.5,73.8 583.0,73.5 583.5,73.5 584.0,73.4 584.5,73.1 585.0,72.9 585.5,73.1 586.0,72.7 586.5,72.8 587.0,73.0 587.5,72.9 588.0,73.1 588.5,73.1 589.0,72.9 589.5,72.8 590.0,72.6 590.5,72.2 591.0,72.3 591.6,72.2 592.1,72.0 592.6,72.0 593.1,71.8 593.6,71.5 594.1,71.6 594.6,71.5 595.1,71.7 595.6,71.9 596.1,71.8 596.6,71.6 597.1,71.6 597.6,71.4 598.1,71.4 598.6,71.5 599.1,71.3 599.6,71.3 600.1,71.2 600.6,70.9 601.1,71.0 601.6,71.1 602.2,71.1 602.7,71.2 603.2,71.3 603.7,71.3 604.2,71.5 604.7,71.6 605.2,71.3 605.7,71.4 606.2,71.4 606.7,71.2 607.2,71.3" fill="none" stroke="#00a000" stroke-width="1.5" stroke-linejoin="round"/>
<polyline points="380.0,203.0 380.6,202.8 381.1,202.8 381.6,202.8 382.1,202.6 382.6,202.5 383.1,202.2 383.6,201.9 384.1,202.0 384.6,202.2 385.1,202.0 385.6,202.1 386.1,201.9 386.6,201.8 387.1,201.8 387.6,201.7 388.1,201.9 388.6,202.0 389.1,202.0 389.6,202.1 390.1,202.2 390.7,202.1 391.2,202.1 391.7,202.3 392.2,202.4 392.7,202.4 393.2,202.4 393.7,202.3 394.2,202.2 394.7,202.1 395.2,202.0 395.7,202.0 396.2,201.9 396.7,201.9 397.2,202.0 397.7,202.0 398.2,201.8 398.7,201.9 399.2,201.8 399.7,201.6 400.2,201.4 400.7,201.2 401.3,201.3 401.8,201.0 402.3,200.7 402.8,200.4 403.3,200.0 403.8,199.5 404.3,199.2 404.8,198.7 405.3,198.3 405.8,197.6 406.3,196.7 406.8,195.9 407.3,194.9 407.8,193.8 408.3,192.7 408.8,191.3 409.3,189.8 409.8,188.0 410.3,186.1 410.8,184.1 411.3,182.0 411.9,179.6 412.4,177.0 412.9,174.2 413.4,171.3 413.9,168.3 414.4,165.2 414.9,161.9 415.4,158.6 415.9,155.2 416.4,152.5 416.9,150.2 417.4,148.0 417.9,145.8 418.4,143.7 418.9,141.5 419.4,139.4 419.9,137.5 420.4,135.5 420.9,133.6 421.4,131.8 421.9,130.0 422.5,128.3 423.0,126.7 423.5,125.1 424.0,123.6 424.5,122.3 425.0,121.0 425.5,119.8 426.0,118.7 426.5,117.6 427.0,116.5 427.5,115.5 428.0,114.7 428.5,114.0 429.0,113.5 429.5,112.7 430.0,112.1 430.5,111.4 431.0,110.8 431.5,110.1 432.0,109.5 432.5,109.0 433.1,108.4 433.6,107.7 434.1,107.3 434.6,106.7 435.1,106.1 435.6,105.5 436.1,105.2 436.6,105.0 437.1,104.7 437.6,104.4 438.1,103.9 438.6,103.7 439.1,103.2 439.6,103.0 440.1,102.6 440.6,102.2 441.1,101.7 441.6,101.3 442.1,100.9 442.6,100.3 443.1,99.8 443.7,99.1 444.2,98.6 444.7,97.7 445.2,97.0 445.7,96.5 446.2,95.8 446.7,94.7 447.2,94.1 447.7,93.5 448.2,92.8 448.7,91.8 449.2,90.8 449.7,90.0 450.2,89.2 450.7,88.3 451.2,87.3 451.7,86.5 452.2,85.5 452.7,84.5 453.2,83.5 453.7,82.6 454.3,81.8 454.8,80.9 455.3,80.2 455.8,79.5 456.3,78.9 456.8,78.4 457.3,78.0 457.8,77.6 458.3,77.0 458.8,76.6 459.3,76.1 459.8,76.0 460.3,75.6 460.8,75.1 461.3,74.5 461.8,74.1 462.3,73.7 462.8,73.4 463.3,73.1 463.8,72.7 464.3,72.7 464.9,72.3 465.4,71.9 465.9,71.8 466.4,71.7 466.9,71.7 467.4,71.4 467.9,71.1 468.4,71.2 468.9,71.0 469.4,71.0 469.9,70.9 470.4,70.9 470.9,70.7 471.4,70.5 471.9,70.3 472.4,70.4 472.9,70.5 473.4,70.4 473.9,70.5 474.4,70.5 474.9,70.6 475.5,70.3 476.0,70.6 476.5,70.6 477.0,70.7 477.5,70.4 478.0,70.3 478.5,70.1 479.0,70.1 479.5,69.9 480.0,70.1 480.5,70.1 481.0,69.8 481.5,69.8 482.0,70.0 482.5,70.1 483.0,70.2 483.5,70.3 484.0,70.4 484.5,70.4 485.0,70.1 485.5,70.2 486.1,70.1 486.6,70.0 487.1,70.1 487.6,70.0 488.1,70.0 488.6,69.9 489.1,69.9 489.6,69.8 490.1,70.0 490.6,70.0 491.1,70.2 491.6,70.3 492.1,70.2 492.6,70.2 493.1,70.0 493.6,70.1 494.1,70.3 494.6,70.2 495.1,70.2 495.6,70.2 496.1,70.0 496.7,70.0 497.2,70.0 497.7,69.9 498.2,70.1 498.7,69.9 499.2,69.6 499.7,69.8 500.2,69.9 500.7,70.0 501.2,70.1 501.7,70.3 502.2,70.1 502.7,70.5 503.2,70.3 503.7,70.2 504.2,70.3 504.7,70.2 505.2,70.3 505.7,70.1 506.2,69.9 506.7,69.9 507.3,70.1 507.8,70.0 508.3,70.3 508.8,70.3 509.3,70.2 509.8,70.3 510.3,70.2 510.8,70.4 511.3,70.7 511.8,70.7 512.3,70.7 512.8,70.7 513.3,70.6 513.8,70.8 514.3,70.9 514.8,70.8 515.3,70.9 515.8,70.7 516.3,70.4 516.8,70.4 517.3,70.6 517.9,70.4 518.4,70.4 518.9,70.3 519.4,70.1 519.9,70.2 520.4,70.0 520.9,70.3 521.4,70.2 521.9,70.1 522.4,70.0 522.9,70.0 523.4,69.8 523.9,69.8 524.4,70.1 524.9,70.0 525.4,70.2 525.9,70.0 526.4,70.1 526.9,70.2 527.4,70.1 527.9,70.3 528.5,70.5 529.0,70.7 529.5,70.7 530.0,70.8 530.5,70.8 531.0,70.7 531.5,70.9 532.0,70.8 532.5,71.0 533.0,70.9 533.5,70.9 534.0,70.6 534.5,70.6 535.0,70.7 535.5,70.7 536.0,70.8 536.5,70.8 537.0,70.9 537.5,70.8 538.0,71.0 538.6,70.8 539.1,70.7 539.6,70.7 540.1,70.6 540.6,70.8 541.1,71.0 541.6,71.0 542.1,70.6 542.6,70.6 543.1,70.3 543.6,70.4 544.1,70.5 544.6,70.3 545.1,70.2 545.6,70.1 546.1,70.0 546.6,69.8 547.1,70.0 547.6,70.2 548.1,70.2 548.6,70.1 549.2,70.2 549.7,70.2 550.2,70.3 550.7,70.4 551.2,70.4 551.7,70.4 552.2,70.5 552.7,70.4 553.2,70.6 553.7,70.7 554.2,70.6 554.7,70.7 555.2,70.7 555.7,70.7 556.2,70.6 556.7,70.6 557.2,70.6 557.7,70.7 558.2,70.7 558.7,70.8 559.2,70.7 559.8,70.4 560.3,70.3 560.8,70.3 561.3,70.3 561.8,70.5 562.3,70.4 562.8,70.2 563.3,70.2 563.8,70.2 564.3,70.5 564.8,70.5 565.3,70.7 565.8,70.6 566.3,70.8 566.8,70.6 567.3,70.6 567.8,70.6 568.3,70.4 568.8,70.3 569.3,70.3 569.8,70.5 570.4,70.4 570.9,70.5 571.4,70.2 571.9,70.2 572.4,70.2 572.9,70.4 573.4,70.6 573.9,70.7 574.4,70.5 574.9,70.6 575.4,70.7 575.9,70.5 576.4,70.7 576.9,70.7 577.4,70.7 577.9,70.5 578.4,70.2 578.9,70.3 579.4,70.4 579.9,70.2 580.4,70.1 581.0,70.1 581.5,70.0 582.0,70.0 582.5,70.1 583.0,70.2 583.5,70.4 584.0,70.3 584.5,70.5 585.0,70.4 585.5,70.4 586.0,70.7 586.5,70.7 587.0,70.8 587.5,70.6 588.0,70.5 588.5,70.5 589.0,70.4 589.5,70.4 590.0,70.6 590.5,70.7 591.0,70.6 591.6,70.8 592.1,71.0 592.6,71.2 593.1,71.4 593.6,71.5 594.1,71.7 594.6,71.5 595.1,71.7 595.6,71.5 596.1,71.7 596.6,71.7 597.1,71.7 597.6,71.7 598.1,71.7 598.6,71.8 599.1,71.8 599.6,71.9 600.1,71.7 600.6,71.5 601.1,71.5 601.6,71.5 602.2,71.2 602.7,71.2 603.2,71.1 603.7,70.9 604.2,70.9 604.7,70.6 605.2,70.9 605.7,70.9 606.2,70.7 606.7,70.4 607.2,70.5" fill="none" stroke="#b080f0" stroke-width="1.5" stroke-linejoin="round"/>
<polyline points="380.0,202.9 380.6,202.8 381.1,202.8 381.6,202.8 382.1,202.9 382.6,202.8 383.1,202.7 383.6,202.4 384.1,202.6 384.6,202.4 385.1,202.4 385.6,202.8 386.1,202.7 386.6,202.8 387.1,202.6 387.6,202.5 388.1,202.5 388.6,202.5 389.1,202.5 389.6,202.5 390.1,202.4 390.7,202.1 391.2,202.1 391.7,202.0 392.2,202.0 392.7,202.0 393.2,201.9 393.7,202.2 394.2,202.1 394.7,202.2 395.2,202.3 395.7,202.6 396.2,202.9 396.7,202.9 397.2,203.1 397.7,203.1 398.2,203.1 398.7,202.8 399.2,202.8 399.7,202.9 400.2,202.9 400.7,202.8 401.3,202.6 401.8,202.5 402.3,202.2 402.8,202.4 403.3,202.6 403.8,202.7 404.3,202.7 404.8,202.7 405.3,202.4 405.8,202.3 406.3,202.3 406.8,202.3 407.3,202.6 407.8,202.4 408.3,202.2 408.8,202.4 409.3,202.6 409.8,202.6 410.3,202.8 410.8,202.7 411.3,202.9 411.9,203.0 412.4,202.9 412.9,202.9 413.4,203.0 413.9,202.8 414.4,202.6 414.9,202.6 415.4,202.4 415.9,202.4 416.4,202.3 416.9,202.2 417.4,202.4 417.9,202.7 418.4,202.6 418.9,202.9 419.4,202.9 419.9,203.0 420.4,203.2 420.9,203.3 421.4,203.3 421.9,203.2 422.5,203.1 423.0,203.0 423.5,202.9 424.0,202.6 424.5,202.6 425.0,202.7 425.5,202.5 426.0,202.8 426.5,203.1 427.0,203.2 427.5,203.3 428.0,203.2 428.5,203.3 429.0,203.6 429.5,203.5 430.0,203.2 430.5,203.3 431.0,203.0 431.5,202.8 432.0,202.9 432.5,202.6 433.1,202.6 433.6,202.6 434.1,202.7 434.6,202.9 435.1,203.0 435.6,203.1 436.1,203.4 436.6,203.6 437.1,203.7 437.6,203.9 438.1,204.2 438.6,204.2 439.1,204.2 439.6,204.0 440.1,204.2 440.6,204.1 441.1,204.0 441.6,204.1 442.1,203.9 442.6,203.9 443.1,203.8 443.7,204.0 444.2,203.9 444.7,204.0 445.2,203.8 445.7,203.9 446.2,204.1 446.7,203.8 447.2,204.1 447.7,204.1 448.2,204.2 448.7,204.1 449.2,204.3 449.7,204.6 450.2,204.5 450.7,204.5 451.2,204.5 451.7,204.7 452.2,204.7 452.7,204.8 453.2,204.7 453.7,204.6 454.3,204.6 454.8,204.5 455.3,204.8 455.8,204.9 456.3,204.8 456.8,204.7 457.3,204.6 457.8,204.3 458.3,204.3 458.8,204.4 459.3,204.4 459.8,204.5 460.3,204.3 460.8,204.4 461.3,204.3 461.8,204.5 462.3,204.7 462.8,204.7 463.3,204.9 463.8,204.9 464.3,204.7 464.9,204.7 465.4,204.9 465.9,204.8 466.4,204.9 466.9,204.6 467.4,204.4 467.9,204.7 468.4,204.7 468.9,204.6 469.4,204.7 469.9,204.6 470.4,204.6 470.9,204.3 471.4,204.6 471.9,204.6 472.4,204.7 472.9,204.6 473.4,204.5 473.9,204.8 474.4,204.6 474.9,204.6 475.5,204.6 476.0,204.7 476.5,204.6 477.0,204.8 477.5,204.6 478.0,204.6 478.5,204.7 479.0,204.4 479.5,204.3 480.0,204.3 480.5,204.4 481.0,204.3 481.5,204.4 482.0,204.1 482.5,204.3 483.0,204.2 483.5,204.2 484.0,204.1 484.5,204.1 485.0,203.9 485.5,204.0 486.1,204.1 486.6,204.0 487.1,204.0 487.6,204.0 488.1,204.0 488.6,204.1 489.1,204.3 489.6,204.5 490.1,204.7 490.6,204.8 491.1,204.9 491.6,204.9 492.1,204.9 492.6,204.9 493.1,205.0 493.6,204.8 494.1,204.8 494.6,204.8 495.1,204.7 495.6,204.8 496.1,204.7 496.7,204.6 497.2,204.8 497.7,204.7 498.2,204.8 498.7,204.7 499.2,204.7 499.7,204.4 500.2,204.1 500.7,203.8 501.2,203.6 501.7,203.6 502.2,203.3 502.7,203.4 503.2,203.4 503.7,203.4 504.2,203.4 504.7,203.7 505.2,203.7 505.7,203.8 506.2,203.7 506.7,203.8 507.3,203.9 507.8,203.9 508.3,203.7 508.8,203.7 509.3,203.7 509.8,203.4 510.3,203.6 510.8,203.8 511.3,203.6 511.8,203.7 512.3,203.5 512.8,203.4 513.3,203.5 513.8,203.6 514.3,203.6 514.8,203.6 515.3,203.6 515.8,203.5 516.3,203.6 516.8,203.2 517.3,203.1 517.9,203.0 518.4,202.8 518.9,202.5 519.4,202.2 519.9,202.1 520.4,201.7 520.9,201.3 521.4,201.0 521.9,200.8 522.4,200.5 522.9,200.0 523.4,199.7 523.9,199.2 524.4,198.7 524.9,198.1 525.4,197.4 525.9,196.7 526.4,195.9 526.9,195.0 527.4,194.0 527.9,193.0 528.5,191.7 529.0,190.5 529.5,189.1 530.0,187.6 530.5,185.9 531.0,184.2 531.5,182.2 532.0,180.2 532.5,178.1 533.0,175.8 533.5,173.3 534.0,170.7 534.5,168.0 535.0,165.3 535.5,162.4 536.0,159.4 536.5,156.4 537.0,153.4 537.5,150.3 538.0,142.5 538.6,135.0 539.1,128.1 539.6,122.1 540.1,116.9 540.6,112.7 541.1,109.2 541.6,106.5 542.1,104.3 542.6,102.6 543.1,101.3 543.6,100.3 544.1,99.5 544.6,98.8 545.1,98.3 545.6,97.8 546.1,97.5 546.6,97.1 547.1,96.9 547.6,96.5 548.1,96.2 548.6,95.9 549.2,95.8 549.7,95.6 550.2,95.4 550.7,95.1 551.2,94.6 551.7,94.4 552.2,94.0 552.7,93.6 553.2,93.5 553.7,93.2 554.2,92.7 554.7,92.4 555.2,92.0 555.7,91.8 556.2,91.5 556.7,91.4 557.2,91.1 557.7,90.9 558.2,90.4 558.7,90.1 559.2,89.6 559.8,89.0 560.3,88.9 560.8,88.2 561.3,87.9 561.8,87.5 562.3,87.2 562.8,86.8 563.3,86.3 563.8,85.6 564.3,85.4 564.8,85.0 565.3,84.3 565.8,84.2 566.3,83.7 566.8,83.2 567.3,82.5 567.8,82.0 568.3,81.6 568.8,81.5 569.3,81.0 569.8,80.6 570.4,80.3 570.9,79.9 571.4,79.4 571.9,79.2 572.4,78.9 572.9,78.6 573.4,78.5 573.9,78.0 574.4,77.5 574.9,77.5 575.4,77.1 575.9,76.9 576.4,76.6 576.9,76.3 577.4,76.1 577.9,75.8 578.4,75.4 578.9,74.9 579.4,74.9 579.9,74.7 580.4,74.5 581.0,74.1 581.5,74.0 582.0,73.8 582.5,73.7 583.0,73.7 583.5,73.7 584.0,73.6 584.5,73.4 585.0,73.1 585.5,72.9 586.0,73.0 586.5,72.8 587.0,72.6 587.5,72.3 588.0,72.1 588.5,71.9 589.0,72.0 589.5,72.0 590.0,71.9 590.5,71.8 591.0,71.6 591.6,71.7 592.1,71.7 592.6,71.7 593.1,71.8 593.6,71.6 594.1,71.5 594.6,71.2 595.1,71.2 595.6,71.1 596.1,71.2 596.6,70.9 597.1,70.8 597.6,70.7 598.1,70.7 598.6,70.8 599.1,71.1 599.6,71.0 600.1,70.9 600.6,70.9 601.1,70.9 601.6,70.9 602.2,71.2 602.7,71.3 603.2,71.4 603.7,71.3 604.2,71.2 604.7,71.3 605.2,71.2 605.7,71.3 606.2,71.4 606.7,71.7 607.2,71.4" fill="none" stroke="#b080f0" stroke-width="1.5" stroke-linejoin="round"/>
<polyline points="380.0,202.5 380.6,202.5 381.1,202.2 381.6,201.9 382.1,201.9 382.6,202.1 383.1,202.1 383.6,202.1 384.1,202.2 384.6,202.4 385.1,202.2 385.6,202.3 386.1,202.3 386.6,202.4 387.1,202.1 387.6,202.2 388.1,202.0 388.6,201.8 389.1,201.7 389.6,201.5 390.1,201.6 390.7,201.4 391.2,201.5 391.7,201.7 392.2,201.8 392.7,201.6 393.2,201.8 393.7,201.8 394.2,201.8 394.7,201.7 395.2,201.9 395.7,202.1 396.2,202.0 396.7,202.1 397.2,202.1 397.7,202.0 398.2,201.8 398.7,202.0 399.2,202.3 399.7,202.2 400.2,202.2 400.7,202.1 401.3,202.2 401.8,202.0 402.3,202.1 402.8,202.0 403.3,201.8 403.8,201.6 404.3,201.5 404.8,201.5 405.3,201.4 405.8,201.3 406.3,201.2 406.8,201.1 407.3,200.8 407.8,200.8 408.3,200.7 408.8,200.6 409.3,200.3 409.8,200.0 410.3,199.6 410.8,199.2 411.3,198.8 411.9,198.3 412.4,197.6 412.9,196.8 413.4,195.9 413.9,194.8 414.4,193.4 414.9,191.9 415.4,190.2 415.9,188.3 416.4,186.0 416.9,183.5 417.4,180.7 417.9,177.6 418.4,174.3 418.9,170.7 419.4,166.9 419.9,162.9 420.4,158.8 420.9,154.6 421.4,152.4 421.9,150.3 422.5,148.1 423.0,146.0 423.5,143.9 424.0,141.8 424.5,139.8 425.0,137.9 425.5,136.0 426.0,134.2 426.5,132.4 427.0,130.6 427.5,129.0 428.0,127.4 428.5,126.0 429.0,124.6 429.5,123.3 430.0,122.1 430.5,120.9 431.0,119.7 431.5,118.8 432.0,117.8 432.5,117.0 433.1,116.3 433.6,115.4 434.1,114.7 434.6,113.9 435.1,113.3 435.6,112.7 436.1,112.2 436.6,111.6 437.1,111.1 437.6,110.4 438.1,109.7 438.6,109.4 439.1,109.1 439.6,108.7 440.1,108.1 440.6,107.6 441.1,107.0 441.6,106.3 442.1,105.9 442.6,105.6 443.1,105.3 443.7,104.8 444.2,104.2 444.7,103.5 445.2,103.1 445.7,102.6 446.2,102.1 446.7,101.4 447.2,100.7 447.7,99.9 448.2,99.1 448.7,98.2 449.2,97.1 449.7,96.3 450.2,95.3 450.7,94.1 451.2,93.2 451.7,92.3 452.2,91.2 452.7,90.1 453.2,89.0 453.7,87.9 454.3,87.1 454.8,86.0 455.3,85.1 455.8,84.2 456.3,83.3 456.8,82.4 457.3,81.8 457.8,80.9 458.3,80.3 458.8,79.9 459.3,79.3 459.8,78.9 460.3,78.6 460.8,78.1 461.3,77.8 461.8,77.5 462.3,77.1 462.8,77.0 463.3,76.9 463.8,76.4 464.3,76.3 464.9,75.9 465.4,75.6 465.9,75.3 466.4,75.1 466.9,75.0 467.4,75.0 467.9,74.7 468.4,74.4 468.9,74.4 469.4,74.1 469.9,74.0 470.4,73.9 470.9,74.0 471.4,74.0 471.9,73.9 472.4,73.8 472.9,73.8 473.4,73.7 473.9,73.5 474.4,73.5 474.9,73.6 475.5,73.8 476.0,73.8 476.5,73.7 477.0,73.8 477.5,73.7 478.0,73.8 478.5,73.8 479.0,74.1 479.5,74.1 480.0,74.0 480.5,74.0 481.0,73.9 481.5,74.1 482.0,74.1 482.5,74.2 483.0,74.1 483.5,74.1 484.0,74.1 484.5,74.3 485.0,74.5 485.5,74.3 486.1,74.5 486.6,74.4 487.1,74.2 487.6,74.2 488.1,74.1 488.6,74.4 489.1,74.2 489.6,74.0 490.1,74.0 490.6,74.0 491.1,74.1 491.6,74.0 492.1,74.1 492.6,73.9 493.1,73.8 493.6,73.8 494.1,73.8 494.6,73.8 495.1,73.7 495.6,73.7 496.1,73.5 496.7,73.6 497.2,73.7 497.7,73.7 498.2,73.6 498.7,73.5 499.2,73.4 499.7,73.3 500.2,73.3 500.7,73.5 501.2,73.7 501.7,73.8 502.2,73.8 502.7,74.0 503.2,74.1 503.7,74.3 504.2,74.4 504.7,74.6 505.2,74.4 505.7,74.4 506.2,74.3 506.7,74.4 507.3,74.5 507.8,74.2 508.3,74.4 508.8,74.3 509.3,74.2 509.8,74.2 510.3,74.2 510.8,74.3 511.3,74.3 511.8,74.0 512.3,73.7 512.8,73.8 513.3,73.5 513.8,73.6 514.3,73.9 514.8,74.0 515.3,73.9 515.8,73.8 516.3,73.8 516.8,73.8 517.3,74.0 517.9,74.1 518.4,74.3 518.9,74.3 519.4,74.0 519.9,74.0 520.4,74.0 520.9,73.9 521.4,73.8 521.9,73.9 522.4,73.9 522.9,74.1 523.4,74.0 523.9,73.9 524.4,73.9 524.9,73.8 525.4,74.0 525.9,74.2 526.4,74.1 526.9,74.1 527.4,74.1 527.9,73.8 528.5,74.0 529.0,74.0 529.5,74.1 530.0,74.0 530.5,73.8 531.0,73.9 531.5,73.8 532.0,73.7 532.5,73.4 533.0,73.5 533.5,73.4 534.0,73.4 534.5,73.3 535.0,73.2 535.5,73.3 536.0,73.0 536.5,73.0 537.0,72.9 537.5,73.1 538.0,73.1 538.6,72.9 539.1,72.8 539.6,72.7 540.1,73.0 540.6,72.9 541.1,73.0 541.6,73.1 542.1,73.3 542.6,73.1 543.1,73.2 543.6,73.1 544.1,72.9 544.6,72.8 545.1,72.7 545.6,72.6 546.1,72.7 546.6,72.7 547.1,72.5 547.6,72.4 548.1,72.4 548.6,72.5 549.2,72.5 549.7,72.3 550.2,72.2 550.7,72.1 551.2,72.1 551.7,71.9 552.2,71.9 552.7,72.0 553.2,71.8 553.7,71.7 554.2,71.9 554.7,72.1 555.2,72.1 555.7,72.2 556.2,72.1 556.7,72.0 557.2,71.9 557.7,71.7 558.2,71.6 558.7,71.5 559.2,71.5 559.8,71.2 560.3,71.0 560.8,70.8 561.3,70.6 561.8,70.6 562.3,70.7 562.8,70.9 563.3,70.9 563.8,70.9 564.3,70.7 564.8,70.6 565.3,70.8 565.8,70.6 566.3,70.8 566.8,71.0 567.3,70.9 567.8,70.8 568.3,70.7 568.8,70.8 569.3,71.1 569.8,71.1 570.4,71.3 570.9,71.3 571.4,71.2 571.9,71.1 572.4,71.1 572.9,71.0 573.4,71.2 573.9,70.9 574.4,70.9 574.9,71.1 575.4,71.0 575.9,71.0 576.4,71.0 576.9,70.7 577.4,70.8 577.9,71.1 578.4,70.9 578.9,71.2 579.4,71.0 579.9,70.9 580.4,70.8 581.0,71.0 581.5,70.9 582.0,71.1 582.5,71.0 583.0,70.7 583.5,70.8 584.0,70.8 584.5,70.9 585.0,70.8 585.5,70.8 586.0,70.8 586.5,71.0 587.0,71.0 587.5,71.0 588.0,71.1 588.5,71.0 589.0,71.1 589.5,71.1 590.0,71.1 590.5,71.0 591.0,71.1 591.6,71.1 592.1,71.1 592.6,71.0 593.1,71.0 593.6,70.9 594.1,70.9 594.6,70.6 595.1,70.9 595.6,71.0 596.1,70.6 596.6,70.4 597.1,70.3 597.6,70.4 598.1,70.2 598.6,70.2 599.1,70.2 599.6,70.2 600.1,69.9 600.6,70.0 601.1,70.2 601.6,70.2 602.2,70.4 602.7,70.1 603.2,70.3 603.7,70.5 604.2,70.5 604.7,70.7 605.2,70.7 605.7,70.7 606.2,70.5 606.7,70.5 607.2,70.5" fill="none" stroke="#d9a010" stroke-width="1.5" stroke-linejoin="round"/>
<polyline points="380.0,201.5 380.6,201.2 381.1,201.0 381.6,201.2 382.1,201.6 382.6,201.8 383.1,201.9 383.6,202.1 384.1,202.1 384.6,202.1 385.1,202.4 385.6,202.3 386.1,202.5 386.6,202.6 387.1,202.6 387.6,202.5 388.1,202.6 388.6,202.4 389.1,202.6 389.6,202.6 390.1,202.4 390.7,202.6 391.2,202.6 391.7,202.3 392.2,202.0 392.7,201.9 393.2,201.5 393.7,201.4 394.2,201.3 394.7,201.3 395.2,201.3 395.7,201.3 396.2,201.3 396.7,201.5 397.2,201.7 397.7,201.8 398.2,201.8 398.7,202.0 399.2,202.2 399.7,202.2 400.2,202.1 400.7,202.3 401.3,202.2 401.8,202.1 402.3,201.9 402.8,202.0 403.3,202.2 403.8,201.9 404.3,201.6 404.8,201.5 405.3,201.7 405.8,201.6 406.3,201.5 406.8,201.5 407.3,201.5 407.8,201.5 408.3,201.5 408.8,201.7 409.3,202.0 409.8,202.2 410.3,202.1 410.8,202.3 411.3,202.5 411.9,202.6 412.4,202.7 412.9,202.7 413.4,202.6 413.9,202.6 414.4,202.5 414.9,202.4 415.4,202.4 415.9,202.2 416.4,202.1 416.9,202.0 417.4,202.1 417.9,202.2 418.4,202.4 418.9,202.6 419.4,202.7 419.9,202.9 420.4,202.9 420.9,203.0 421.4,203.2 421.9,203.1 422.5,203.1 423.0,203.0 423.5,202.9 424.0,202.6 424.5,202.5 425.0,202.5 425.5,202.5 426.0,202.6 426.5,202.4 427.0,202.5 427.5,202.6 428.0,202.9 428.5,202.7 429.0,202.9 429.5,203.1 430.0,202.8 430.5,203.0 431.0,203.0 431.5,203.1 432.0,203.0 432.5,202.8 433.1,202.5 433.6,202.8 434.1,202.8 434.6,202.8 435.1,203.2 435.6,203.1 436.1,203.1 436.6,202.9 437.1,203.2 437.6,203.4 438.1,203.4 438.6,203.3 439.1,203.2 439.6,203.3 440.1,203.3 440.6,203.4 441.1,203.4 441.6,203.7 442.1,203.6 442.6,203.4 443.1,203.7 443.7,203.9 444.2,203.9 444.7,203.7 445.2,203.5 445.7,203.3 446.2,203.4 446.7,203.3 447.2,203.3 447.7,203.4 448.2,203.1 448.7,203.0 449.2,203.0 449.7,203.0 450.2,203.1 450.7,203.2 451.2,203.1 451.7,203.1 452.2,202.9 452.7,203.0 453.2,203.2 453.7,203.0 454.3,203.0 454.8,203.0 455.3,203.1 455.8,203.2 456.3,203.4 456.8,203.4 457.3,203.7 457.8,203.7 458.3,203.7 458.8,203.9 459.3,204.1 459.8,204.1 460.3,204.0 460.8,204.0 461.3,204.1 461.8,204.2 462.3,204.2 462.8,204.1 463.3,204.1 463.8,204.1 464.3,204.0 464.9,204.2 465.4,204.4 465.9,204.3 466.4,204.1 466.9,203.9 467.4,203.9 467.9,204.0 468.4,204.2 468.9,204.1 469.4,204.1 469.9,204.0 470.4,204.0 470.9,204.1 471.4,204.1 471.9,204.1 472.4,204.2 472.9,203.9 473.4,203.8 473.9,204.1 474.4,204.3 474.9,204.1 475.5,203.9 476.0,203.9 476.5,204.1 477.0,204.2 477.5,204.2 478.0,204.5 478.5,204.3 479.0,204.1 479.5,204.1 480.0,204.4 480.5,204.5 481.0,204.2 481.5,204.0 482.0,203.8 482.5,203.7 483.0,203.5 483.5,203.8 484.0,203.8 484.5,203.7 485.0,203.6 485.5,203.7 486.1,204.0 486.6,203.9 487.1,204.0 487.6,204.2 488.1,204.3 488.6,204.0 489.1,204.0 489.6,204.0 490.1,204.0 490.6,203.8 491.1,203.5 491.6,203.5 492.1,203.6 492.6,203.5 493.1,203.5 493.6,203.7 494.1,203.4 494.6,203.2 495.1,202.9 495.6,202.9 496.1,203.0 496.7,203.1 497.2,202.9 497.7,202.9 498.2,202.7 498.7,202.5 499.2,202.7 499.7,202.9 500.2,203.0 500.7,203.3 501.2,203.3 501.7,203.5 502.2,203.8 502.7,203.6 503.2,203.5 503.7,203.5 504.2,203.4 504.7,203.2 505.2,203.2 505.7,203.0 506.2,202.9 506.7,202.9 507.3,202.8 507.8,203.0 508.3,203.2 508.8,203.2 509.3,203.2 509.8,203.4 510.3,203.2 510.8,203.1 511.3,202.8 511.8,202.5 512.3,202.5 512.8,202.3 513.3,202.1 513.8,201.9 514.3,201.8 514.8,201.6 515.3,201.6 515.8,201.8 516.3,201.9 516.8,201.7 517.3,201.4 517.9,201.2 518.4,201.0 518.9,200.9 519.4,200.6 519.9,200.4 520.4,200.0 520.9,199.4 521.4,198.9 521.9,198.5 522.4,197.9 522.9,197.3 523.4,196.7 523.9,195.9 524.4,195.2 524.9,194.2 525.4,193.4 525.9,192.4 526.4,191.3 526.9,190.2 527.4,189.0 527.9,187.7 528.5,186.2 529.0,184.6 529.5,182.8 530.0,180.9 530.5,178.8 531.0,176.6 531.5,174.4 532.0,171.8 532.5,169.3 533.0,166.6 533.5,163.8 534.0,161.0 534.5,158.0 535.0,155.1 535.5,152.1 536.0,146.3 536.5,138.8 537.0,131.9 537.5,125.7 538.0,120.3 538.6,115.8 539.1,112.1 539.6,109.1 540.1,106.8 540.6,104.9 541.1,103.5 541.6,102.4 542.1,101.4 542.6,100.6 543.1,100.0 543.6,99.5 544.1,99.2 544.6,99.0 545.1,98.6 545.6,98.3 546.1,98.0 546.6,97.9 547.1,97.6 547.6,97.4 548.1,97.2 548.6,96.8 549.2,96.4 549.7,95.9 550.2,95.7 550.7,95.4 551.2,95.0 551.7,94.5 552.2,94.0 552.7,93.7 553.2,93.3 553.7,92.9 554.2,92.6 554.7,92.3 555.2,91.9 555.7,91.5 556.2,91.3 556.7,90.7 557.2,90.5 557.7,89.9 558.2,89.6 558.7,89.3 559.2,89.0 559.8,88.3 560.3,87.9 560.8,87.4 561.3,86.8 561.8,86.6 562.3,86.3 562.8,85.8 563.3,85.4 563.8,85.0 564.3,84.5 564.8,84.2 565.3,83.6 565.8,83.2 566.3,82.8 566.8,82.1 567.3,81.5 567.8,81.2 568.3,80.7 568.8,80.3 569.3,80.0 569.8,79.6 570.4,79.4 570.9,79.1 571.4,78.8 571.9,78.7 572.4,78.5 572.9,78.2 573.4,77.8 573.9,77.3 574.4,76.9 574.9,76.7 575.4,76.6 575.9,76.3 576.4,76.0 576.9,75.6 577.4,75.5 577.9,75.1 578.4,74.8 578.9,74.8 579.4,74.5 579.9,74.2 580.4,74.0 581.0,73.7 581.5,73.6 582.0,73.5 582.5,73.3 583.0,73.3 583.5,73.5 584.0,73.3 584.5,73.3 585.0,73.3 585.5,73.2 586.0,72.9 586.5,72.9 587.0,72.8 587.5,72.7 588.0,72.6 588.5,72.2 589.0,72.3 589.5,72.3 590.0,72.1 590.5,71.9 591.0,72.0 591.6,72.0 592.1,72.0 592.6,72.1 593.1,71.9 593.6,71.9 594.1,71.9 594.6,71.6 595.1,71.6 595.6,71.8 596.1,71.6 596.6,71.5 597.1,71.3 597.6,71.0 598.1,70.9 598.6,71.1 599.1,71.2 599.6,71.1 600.1,71.2 600.6,70.9 601.1,71.1 601.6,71.0 602.2,71.4 602.7,71.7 603.2,71.6 603.7,71.5 604.2,71.4 604.7,71.3 605.2,71.1 605.7,71.2 606.2,71.0 606.7,71.1 607.2,71.0" fill="none" stroke="#d9a010" stroke-width="1.5" stroke-linejoin="round"/>
<line x1="402.76" y1="232.80" x2="402.76" y2="228.80" stroke="#1a1a1a" stroke-width="1.2" />
<line x1="448.19" y1="232.80" x2="448.19" y2="228.80" stroke="#1a1a1a" stroke-width="1.2" />
<line x1="493.62" y1="232.80" x2="493.62" y2="228.80" stroke="#1a1a1a" stroke-width="1.2" />
<line x1="539.06" y1="232.80" x2="539.06" y2="228.80" stroke="#1a1a1a" stroke-width="1.2" />
<line x1="584.49" y1="232.80" x2="584.49" y2="228.80" stroke="#1a1a1a" stroke-width="1.2" />
<line x1="425.48" y1="232.80" x2="425.48" y2="230.30" stroke="#1a1a1a" stroke-width="1.0" />
<line x1="470.91" y1="232.80" x2="470.91" y2="230.30" stroke="#1a1a1a" stroke-width="1.0" />
<line x1="516.34" y1="232.80" x2="516.34" y2="230.30" stroke="#1a1a1a" stroke-width="1.0" />
<line x1="561.77" y1="232.80" x2="561.77" y2="230.30" stroke="#1a1a1a" stroke-width="1.0" />
<line x1="380.05" y1="68.20" x2="384.05" y2="68.20" stroke="#1a1a1a" stroke-width="1.2" />
<line x1="380.05" y1="104.70" x2="384.05" y2="104.70" stroke="#1a1a1a" stroke-width="1.2" />
<line x1="380.05" y1="141.20" x2="384.05" y2="141.20" stroke="#1a1a1a" stroke-width="1.2" />
<line x1="380.05" y1="177.70" x2="384.05" y2="177.70" stroke="#1a1a1a" stroke-width="1.2" />
<line x1="380.05" y1="214.20" x2="384.05" y2="214.20" stroke="#1a1a1a" stroke-width="1.2" />
<line x1="380.05" y1="86.45" x2="382.55" y2="86.45" stroke="#1a1a1a" stroke-width="1.0" />
<line x1="380.05" y1="122.95" x2="382.55" y2="122.95" stroke="#1a1a1a" stroke-width="1.0" />
<line x1="380.05" y1="159.45" x2="382.55" y2="159.45" stroke="#1a1a1a" stroke-width="1.0" />
<line x1="380.05" y1="195.95" x2="382.55" y2="195.95" stroke="#1a1a1a" stroke-width="1.0" />
<rect x="380.05" y="49.75" width="227.15" height="183.05" fill="none" stroke="#1a1a1a" stroke-width="1.5"/>
<text x="402.76" y="246.80" font-size="12" text-anchor="middle" font-family="Liberation Serif" font-weight="bold" stroke="#000" stroke-width="0.22" >-600</text>
<text x="448.19" y="246.80" font-size="12" text-anchor="middle" font-family="Liberation Serif" font-weight="bold" stroke="#000" stroke-width="0.22" >-300</text>
<text x="493.62" y="246.80" font-size="12" text-anchor="middle" font-family="Liberation Serif" font-weight="bold" stroke="#000" stroke-width="0.22" >0</text>
<text x="539.06" y="246.80" font-size="12" text-anchor="middle" font-family="Liberation Serif" font-weight="bold" stroke="#000" stroke-width="0.22" >300</text>
<text x="584.49" y="246.80" font-size="12" text-anchor="middle" font-family="Liberation Serif" font-weight="bold" stroke="#000" stroke-width="0.22" >600</text>
<text x="376.50" y="72.30" font-size="12" text-anchor="end" font-family="Liberation Serif" font-weight="bold" stroke="#000" stroke-width="0.22" >1.0</text>
<text x="376.50" y="108.80" font-size="12" text-anchor="end" font-family="Liberation Serif" font-weight="bold" stroke="#000" stroke-width="0.22" >0.5</text>
<text x="376.50" y="145.30" font-size="12" text-anchor="end" font-family="Liberation Serif" font-weight="bold" stroke="#000" stroke-width="0.22" >0.0</text>
<text x="376.50" y="181.80" font-size="12" text-anchor="end" font-family="Liberation Serif" font-weight="bold" stroke="#000" stroke-width="0.22" >-0.5</text>
<text x="376.50" y="218.30" font-size="12" text-anchor="end" font-family="Liberation Serif" font-weight="bold" stroke="#000" stroke-width="0.22" >-1.0</text>
<text x="493.5" y="267.8" font-size="13.6" text-anchor="middle" font-family="Liberation Serif" font-weight="bold" stroke="#000" stroke-width="0.22"><tspan font-style="italic">H</tspan> (Oe)</text>
<text x="352.20" y="141.30" font-size="13.8" text-anchor="middle" font-family="Liberation Serif" font-weight="bold" stroke="#000" stroke-width="0.22" transform="rotate(-90 352.2 141.3)" >Kerr Signal (a.u.)</text>
<text x="317.60" y="16.20" font-size="22.6" text-anchor="start" font-family="Liberation Serif" font-weight="bold" stroke="#000" stroke-width="0.22" >(b)</text>
<rect x="446.5" y="104.2" width="82.3" height="72.8" fill="white" stroke="#c8c8c8" stroke-width="1"/>
<line x1="447.80" y1="111.30" x2="470.00" y2="111.30" stroke="#3a3a3a" stroke-width="1.5" />
<text x="472.10" y="114.60" font-size="9.6" text-anchor="start" font-family="Liberation Serif" font-weight="bold" stroke="#000" stroke-width="0.22" >without SAW</text>
<line x1="447.80" y1="123.20" x2="470.00" y2="123.20" stroke="#ff0000" stroke-width="1.5" />
<text x="472.10" y="126.50" font-size="9.6" text-anchor="start" font-family="Liberation Serif" font-weight="bold" stroke="#000" stroke-width="0.22" >12.3 mW</text>
<line x1="447.80" y1="134.90" x2="470.00" y2="134.90" stroke="#0000ff" stroke-width="1.5" />
<text x="472.10" y="138.20" font-size="9.6" text-anchor="start" font-family="Liberation Serif" font-weight="bold" stroke="#000" stroke-width="0.22" >19.5 mW</text>
<line x1="447.80" y1="146.90" x2="470.00" y2="146.90" stroke="#00a000" stroke-width="1.5" />
<text x="472.10" y="150.20" font-size="9.6" text-anchor="start" font-family="Liberation Serif" font-weight="bold" stroke="#000" stroke-width="0.22" >30.9 mW</text>
<line x1="447.80" y1="158.70" x2="470.00" y2="158.70" stroke="#b080f0" stroke-width="1.5" />
<text x="472.10" y="162.00" font-size="9.6" text-anchor="start" font-family="Liberation Serif" font-weight="bold" stroke="#000" stroke-width="0.22" >49.0 mW</text>
<line x1="447.80" y1="170.50" x2="470.00" y2="170.50" stroke="#d9a010" stroke-width="1.5" />
<text x="472.10" y="173.80" font-size="9.6" text-anchor="start" font-family="Liberation Serif" font-weight="bold" stroke="#000" stroke-width="0.22" >77.6 mW</text>
<rect x="374.90" y="14.60" width="45.20" height="20.60" fill="#ffcf5e"/>
<rect x="374.90" y="35.20" width="45.20" height="9.80" fill="#8cc63f"/>
<polygon points="380.35,16.38 378.45,16.38 378.45,20.58 376.95,20.58 379.40,24.68 381.85,20.58 380.35,20.58" fill="#ff1a1a"/>
<polygon points="378.45,34.25 380.35,34.25 380.35,30.05 381.85,30.05 379.40,25.95 376.95,30.05 378.45,30.05" fill="#ff1a1a"/>
<polygon points="378.45,44.29 380.35,44.29 380.35,40.09 381.85,40.09 379.40,35.99 376.95,40.09 378.45,40.09" fill="#1f6fe0"/>
<polygon points="387.65,16.38 385.75,16.38 385.75,20.58 384.25,20.58 386.70,24.68 389.15,20.58 387.65,20.58" fill="#ff1a1a"/>
<polygon points="385.75,34.25 387.65,34.25 387.65,30.05 389.15,30.05 386.70,25.95 384.25,30.05 385.75,30.05" fill="#ff1a1a"/>
<polygon points="385.75,44.29 387.65,44.29 387.65,40.09 389.15,40.09 386.70,35.99 384.25,40.09 385.75,40.09" fill="#1f6fe0"/>
<polygon points="394.95,16.38 393.05,16.38 393.05,20.58 391.55,20.58 394.00,24.68 396.45,20.58 394.95,20.58" fill="#ff1a1a"/>
<polygon points="393.05,34.25 394.95,34.25 394.95,30.05 396.45,30.05 394.00,25.95 391.55,30.05 393.05,30.05" fill="#ff1a1a"/>
<polygon points="393.05,44.29 394.95,44.29 394.95,40.09 396.45,40.09 394.00,35.99 391.55,40.09 393.05,40.09" fill="#1f6fe0"/>
<polygon points="407.05,24.68 408.95,24.68 408.95,20.48 410.45,20.48 408.00,16.38 405.55,20.48 407.05,20.48" fill="#ff1a1a"/>
<polygon points="408.95,25.95 407.05,25.95 407.05,30.15 405.55,30.15 408.00,34.25 410.45,30.15 408.95,30.15" fill="#ff1a1a"/>
<polygon points="408.95,35.99 407.05,35.99 407.05,40.19 405.55,40.19 408.00,44.29 410.45,40.19 408.95,40.19" fill="#1f6fe0"/>
<polygon points="414.45,24.68 416.35,24.68 416.35,20.48 417.85,20.48 415.40,16.38 412.95,20.48 414.45,20.48" fill="#ff1a1a"/>
<polygon points="416.35,25.95 414.45,25.95 414.45,30.15 412.95,30.15 415.40,34.25 417.85,30.15 416.35,30.15" fill="#ff1a1a"/>
<polygon points="416.35,35.99 414.45,35.99 414.45,40.19 412.95,40.19 415.40,44.29 417.85,40.19 416.35,40.19" fill="#1f6fe0"/>
<polyline points="400.54,14.10 400.80,16.72 400.46,19.33 399.86,21.95 399.60,24.57 399.94,27.18 400.54,29.80 400.80,32.42 400.46,35.03 399.86,37.65 399.60,40.27 399.94,42.88 400.54,45.50" fill="none" stroke="#1c1c2a" stroke-width="2.9"/>
<circle cx="399.70" cy="7.40" r="5.4" fill="white" stroke="#111" stroke-width="1.1"/>
<text x="399.70" y="10.70" font-size="9.6" text-anchor="middle" font-family="Liberation Serif" font-weight="bold" fill="#111">3</text>
<rect x="444.20" y="14.30" width="45.20" height="20.70" fill="#ffcf5e"/>
<rect x="444.20" y="35.00" width="45.20" height="9.70" fill="#8cc63f"/>
<polygon points="449.65,16.08 447.75,16.08 447.75,20.28 446.25,20.28 448.70,24.38 451.15,20.28 449.65,20.28" fill="#ff1a1a"/>
<polygon points="447.75,33.95 449.65,33.95 449.65,29.75 451.15,29.75 448.70,25.65 446.25,29.75 447.75,29.75" fill="#ff1a1a"/>
<polygon points="447.75,43.99 449.65,43.99 449.65,39.79 451.15,39.79 448.70,35.69 446.25,39.79 447.75,39.79" fill="#1f6fe0"/>
<polygon points="456.95,16.08 455.05,16.08 455.05,20.28 453.55,20.28 456.00,24.38 458.45,20.28 456.95,20.28" fill="#ff1a1a"/>
<polygon points="455.05,33.95 456.95,33.95 456.95,29.75 458.45,29.75 456.00,25.65 453.55,29.75 455.05,29.75" fill="#ff1a1a"/>
<polygon points="455.05,43.99 456.95,43.99 456.95,39.79 458.45,39.79 456.00,35.69 453.55,39.79 455.05,39.79" fill="#1f6fe0"/>
<polygon points="464.25,16.08 462.35,16.08 462.35,20.28 460.85,20.28 463.30,24.38 465.75,20.28 464.25,20.28" fill="#ff1a1a"/>
<polygon points="462.35,33.95 464.25,33.95 464.25,29.75 465.75,29.75 463.30,25.65 460.85,29.75 462.35,29.75" fill="#ff1a1a"/>
<polygon points="462.35,43.99 464.25,43.99 464.25,39.79 465.75,39.79 463.30,35.69 460.85,39.79 462.35,39.79" fill="#1f6fe0"/>
<polygon points="476.35,24.38 478.25,24.38 478.25,20.18 479.75,20.18 477.30,16.08 474.85,20.18 476.35,20.18" fill="#ff1a1a"/>
<polygon points="478.25,25.65 476.35,25.65 476.35,29.85 474.85,29.85 477.30,33.95 479.75,29.85 478.25,29.85" fill="#ff1a1a"/>
<polygon points="474.40,42.96 476.05,43.91 478.15,40.27 479.45,41.02 479.38,36.24 475.20,38.57 476.50,39.32" fill="#1f6fe0"/>
<polygon points="483.75,24.38 485.65,24.38 485.65,20.18 487.15,20.18 484.70,16.08 482.25,20.18 483.75,20.18" fill="#ff1a1a"/>
<polygon points="485.65,25.65 483.75,25.65 483.75,29.85 482.25,29.85 484.70,33.95 487.15,29.85 485.65,29.85" fill="#ff1a1a"/>
<polygon points="481.80,42.96 483.45,43.91 485.55,40.27 486.85,41.02 486.77,36.24 482.60,38.57 483.90,39.32" fill="#1f6fe0"/>
<polyline points="469.84,13.80 470.10,16.42 469.76,19.03 469.16,21.65 468.90,24.27 469.24,26.88 469.84,29.50 470.10,32.12 469.76,34.73 469.16,37.35 468.90,39.97 469.24,42.58 469.84,45.20" fill="none" stroke="#1c1c2a" stroke-width="2.9"/>
<circle cx="467.80" cy="7.80" r="5.4" fill="white" stroke="#111" stroke-width="1.1"/>
<text x="467.80" y="11.10" font-size="9.6" text-anchor="middle" font-family="Liberation Serif" font-weight="bold" fill="#111">2</text>
<rect x="562.10" y="14.80" width="45.20" height="20.60" fill="#ffcf5e"/>
<rect x="562.10" y="35.40" width="45.20" height="9.80" fill="#8cc63f"/>
<polygon points="567.55,16.58 565.65,16.58 565.65,20.78 564.15,20.78 566.60,24.88 569.05,20.78 567.55,20.78" fill="#ff1a1a"/>
<polygon points="565.65,34.45 567.55,34.45 567.55,30.25 569.05,30.25 566.60,26.15 564.15,30.25 565.65,30.25" fill="#ff1a1a"/>
<polygon points="565.65,44.49 567.55,44.49 567.55,40.29 569.05,40.29 566.60,36.19 564.15,40.29 565.65,40.29" fill="#1f6fe0"/>
<polygon points="574.85,16.58 572.95,16.58 572.95,20.78 571.45,20.78 573.90,24.88 576.35,20.78 574.85,20.78" fill="#ff1a1a"/>
<polygon points="572.95,34.45 574.85,34.45 574.85,30.25 576.35,30.25 573.90,26.15 571.45,30.25 572.95,30.25" fill="#ff1a1a"/>
<polygon points="572.95,44.49 574.85,44.49 574.85,40.29 576.35,40.29 573.90,36.19 571.45,40.29 572.95,40.29" fill="#1f6fe0"/>
<polygon points="582.15,16.58 580.25,16.58 580.25,20.78 578.75,20.78 581.20,24.88 583.65,20.78 582.15,20.78" fill="#ff1a1a"/>
<polygon points="580.25,34.45 582.15,34.45 582.15,30.25 583.65,30.25 581.20,26.15 578.75,30.25 580.25,30.25" fill="#ff1a1a"/>
<polygon points="580.25,44.49 582.15,44.49 582.15,40.29 583.65,40.29 581.20,36.19 578.75,40.29 580.25,40.29" fill="#1f6fe0"/>
<polygon points="594.25,24.88 596.15,24.88 596.15,20.68 597.65,20.68 595.20,16.58 592.75,20.68 594.25,20.68" fill="#ff1a1a"/>
<polygon points="596.15,26.15 594.25,26.15 594.25,30.35 592.75,30.35 595.20,34.45 597.65,30.35 596.15,30.35" fill="#ff1a1a"/>
<polygon points="594.25,44.49 596.15,44.49 596.15,40.29 597.65,40.29 595.20,36.19 592.75,40.29 594.25,40.29" fill="#1f6fe0"/>
<polygon points="601.65,24.88 603.55,24.88 603.55,20.68 605.05,20.68 602.60,16.58 600.15,20.68 601.65,20.68" fill="#ff1a1a"/>
<polygon points="603.55,26.15 601.65,26.15 601.65,30.35 600.15,30.35 602.60,34.45 605.05,30.35 603.55,30.35" fill="#ff1a1a"/>
<polygon points="601.65,44.49 603.55,44.49 603.55,40.29 605.05,40.29 602.60,36.19 600.15,40.29 601.65,40.29" fill="#1f6fe0"/>
<polyline points="587.74,14.30 588.00,16.92 587.66,19.53 587.06,22.15 586.80,24.77 587.14,27.38 587.74,30.00 588.00,32.62 587.66,35.23 587.06,37.85 586.80,40.47 587.14,43.08 587.74,45.70" fill="none" stroke="#1c1c2a" stroke-width="2.9"/>
<circle cx="587.60" cy="8.20" r="5.4" fill="white" stroke="#111" stroke-width="1.1"/>
<text x="587.60" y="11.50" font-size="9.6" text-anchor="middle" font-family="Liberation Serif" font-weight="bold" fill="#111">1</text>
<rect x="382.60" y="73.00" width="45.00" height="20.50" fill="#ffcf5e"/>
<rect x="382.60" y="93.50" width="45.00" height="9.80" fill="#8cc63f"/>
<polygon points="388.05,74.76 386.15,74.76 386.15,78.96 384.65,78.96 387.10,83.06 389.55,78.96 388.05,78.96" fill="#ff1a1a"/>
<polygon points="386.15,92.60 388.05,92.60 388.05,88.40 389.55,88.40 387.10,84.30 384.65,88.40 386.15,88.40" fill="#ff1a1a"/>
<polygon points="384.20,101.57 385.85,102.52 387.95,98.88 389.25,99.63 389.18,94.86 385.00,97.18 386.30,97.93" fill="#1f6fe0"/>
<polygon points="395.35,74.76 393.45,74.76 393.45,78.96 391.95,78.96 394.40,83.06 396.85,78.96 395.35,78.96" fill="#ff1a1a"/>
<polygon points="393.45,92.60 395.35,92.60 395.35,88.40 396.85,88.40 394.40,84.30 391.95,88.40 393.45,88.40" fill="#ff1a1a"/>
<polygon points="391.50,101.57 393.15,102.52 395.25,98.88 396.55,99.63 396.48,94.86 392.30,97.18 393.60,97.93" fill="#1f6fe0"/>
<polygon points="402.65,74.76 400.75,74.76 400.75,78.96 399.25,78.96 401.70,83.06 404.15,78.96 402.65,78.96" fill="#ff1a1a"/>
<polygon points="400.75,92.60 402.65,92.60 402.65,88.40 404.15,88.40 401.70,84.30 399.25,88.40 400.75,88.40" fill="#ff1a1a"/>
<polygon points="398.80,101.57 400.45,102.52 402.55,98.88 403.85,99.63 403.78,94.86 399.60,97.18 400.90,97.93" fill="#1f6fe0"/>
<polygon points="414.75,83.06 416.65,83.06 416.65,78.86 418.15,78.86 415.70,74.76 413.25,78.86 414.75,78.86" fill="#ff1a1a"/>
<polygon points="416.65,84.30 414.75,84.30 414.75,88.50 413.25,88.50 415.70,92.60 418.15,88.50 416.65,88.50" fill="#ff1a1a"/>
<polygon points="416.65,94.30 414.75,94.30 414.75,98.50 413.25,98.50 415.70,102.60 418.15,98.50 416.65,98.50" fill="#1f6fe0"/>
<polygon points="422.15,83.06 424.05,83.06 424.05,78.86 425.55,78.86 423.10,74.76 420.65,78.86 422.15,78.86" fill="#ff1a1a"/>
<polygon points="424.05,84.30 422.15,84.30 422.15,88.50 420.65,88.50 423.10,92.60 425.55,88.50 424.05,88.50" fill="#ff1a1a"/>
<polygon points="424.05,94.30 422.15,94.30 422.15,98.50 420.65,98.50 423.10,102.60 425.55,98.50 424.05,98.50" fill="#1f6fe0"/>
<polyline points="408.24,72.50 408.50,75.11 408.16,77.72 407.56,80.33 407.30,82.93 407.64,85.54 408.24,88.15 408.50,90.76 408.16,93.37 407.56,95.97 407.30,98.58 407.64,101.19 408.24,103.80" fill="none" stroke="#1c1c2a" stroke-width="2.9"/>
<circle cx="406.50" cy="67.40" r="5.4" fill="white" stroke="#111" stroke-width="1.1"/>
<text x="406.50" y="70.70" font-size="9.6" text-anchor="middle" font-family="Liberation Serif" font-weight="bold" fill="#111">4</text>
<rect x="560.00" y="100.70" width="45.00" height="20.50" fill="#ffcf5e"/>
<rect x="560.00" y="121.20" width="45.00" height="9.80" fill="#8cc63f"/>
<polygon points="565.45,102.46 563.55,102.46 563.55,106.66 562.05,106.66 564.50,110.76 566.95,106.66 565.45,106.66" fill="#ff1a1a"/>
<polygon points="563.55,120.30 565.45,120.30 565.45,116.10 566.95,116.10 564.50,112.00 562.05,116.10 563.55,116.10" fill="#ff1a1a"/>
<polygon points="563.55,130.30 565.45,130.30 565.45,126.10 566.95,126.10 564.50,122.00 562.05,126.10 563.55,126.10" fill="#1f6fe0"/>
<polygon points="572.75,102.46 570.85,102.46 570.85,106.66 569.35,106.66 571.80,110.76 574.25,106.66 572.75,106.66" fill="#ff1a1a"/>
<polygon points="570.85,120.30 572.75,120.30 572.75,116.10 574.25,116.10 571.80,112.00 569.35,116.10 570.85,116.10" fill="#ff1a1a"/>
<polygon points="570.85,130.30 572.75,130.30 572.75,126.10 574.25,126.10 571.80,122.00 569.35,126.10 570.85,126.10" fill="#1f6fe0"/>
<polygon points="580.05,102.46 578.15,102.46 578.15,106.66 576.65,106.66 579.10,110.76 581.55,106.66 580.05,106.66" fill="#ff1a1a"/>
<polygon points="578.15,120.30 580.05,120.30 580.05,116.10 581.55,116.10 579.10,112.00 576.65,116.10 578.15,116.10" fill="#ff1a1a"/>
<polygon points="578.15,130.30 580.05,130.30 580.05,126.10 581.55,126.10 579.10,122.00 576.65,126.10 578.15,126.10" fill="#1f6fe0"/>
<polygon points="592.15,110.76 594.05,110.76 594.05,106.56 595.55,106.56 593.10,102.46 590.65,106.56 592.15,106.56" fill="#ff1a1a"/>
<polygon points="594.05,112.00 592.15,112.00 592.15,116.20 590.65,116.20 593.10,120.30 595.55,116.20 594.05,116.20" fill="#ff1a1a"/>
<polygon points="591.85,122.08 590.20,123.03 592.30,126.67 591.00,127.42 595.18,129.75 595.25,124.97 593.95,125.72" fill="#1f6fe0"/>
<polygon points="599.55,110.76 601.45,110.76 601.45,106.56 602.95,106.56 600.50,102.46 598.05,106.56 599.55,106.56" fill="#ff1a1a"/>
<polygon points="601.45,112.00 599.55,112.00 599.55,116.20 598.05,116.20 600.50,120.30 602.95,116.20 601.45,116.20" fill="#ff1a1a"/>
<polygon points="599.25,122.08 597.60,123.03 599.70,126.67 598.40,127.42 602.58,129.75 602.65,124.97 601.35,125.72" fill="#1f6fe0"/>
<polyline points="585.64,100.20 585.90,102.81 585.56,105.42 584.96,108.03 584.70,110.63 585.04,113.24 585.64,115.85 585.90,118.46 585.56,121.07 584.96,123.68 584.70,126.28 585.04,128.89 585.64,131.50" fill="none" stroke="#1c1c2a" stroke-width="2.9"/>
<circle cx="586.20" cy="94.20" r="5.4" fill="white" stroke="#111" stroke-width="1.1"/>
<text x="586.20" y="97.50" font-size="9.6" text-anchor="middle" font-family="Liberation Serif" font-weight="bold" fill="#111">8</text>
<rect x="560.00" y="152.20" width="45.20" height="20.50" fill="#ffcf5e"/>
<rect x="560.00" y="172.70" width="45.20" height="9.90" fill="#8cc63f"/>
<polygon points="565.45,153.98 563.55,153.98 563.55,158.18 562.05,158.18 564.50,162.28 566.95,158.18 565.45,158.18" fill="#ff1a1a"/>
<polygon points="563.55,171.85 565.45,171.85 565.45,167.65 566.95,167.65 564.50,163.55 562.05,167.65 563.55,167.65" fill="#ff1a1a"/>
<polygon points="563.55,181.89 565.45,181.89 565.45,177.69 566.95,177.69 564.50,173.59 562.05,177.69 563.55,177.69" fill="#1f6fe0"/>
<polygon points="572.75,153.98 570.85,153.98 570.85,158.18 569.35,158.18 571.80,162.28 574.25,158.18 572.75,158.18" fill="#ff1a1a"/>
<polygon points="570.85,171.85 572.75,171.85 572.75,167.65 574.25,167.65 571.80,163.55 569.35,167.65 570.85,167.65" fill="#ff1a1a"/>
<polygon points="570.85,181.89 572.75,181.89 572.75,177.69 574.25,177.69 571.80,173.59 569.35,177.69 570.85,177.69" fill="#1f6fe0"/>
<polygon points="580.05,153.98 578.15,153.98 578.15,158.18 576.65,158.18 579.10,162.28 581.55,158.18 580.05,158.18" fill="#ff1a1a"/>
<polygon points="578.15,171.85 580.05,171.85 580.05,167.65 581.55,167.65 579.10,163.55 576.65,167.65 578.15,167.65" fill="#ff1a1a"/>
<polygon points="578.15,181.89 580.05,181.89 580.05,177.69 581.55,177.69 579.10,173.59 576.65,177.69 578.15,177.69" fill="#1f6fe0"/>
<polygon points="592.15,162.28 594.05,162.28 594.05,158.08 595.55,158.08 593.10,153.98 590.65,158.08 592.15,158.08" fill="#ff1a1a"/>
<polygon points="594.05,163.55 592.15,163.55 592.15,167.75 590.65,167.75 593.10,171.85 595.55,167.75 594.05,167.75" fill="#ff1a1a"/>
<polygon points="594.05,173.59 592.15,173.59 592.15,177.79 590.65,177.79 593.10,181.89 595.55,177.79 594.05,177.79" fill="#1f6fe0"/>
<polygon points="599.55,162.28 601.45,162.28 601.45,158.08 602.95,158.08 600.50,153.98 598.05,158.08 599.55,158.08" fill="#ff1a1a"/>
<polygon points="601.45,163.55 599.55,163.55 599.55,167.75 598.05,167.75 600.50,171.85 602.95,167.75 601.45,167.75" fill="#ff1a1a"/>
<polygon points="601.45,173.59 599.55,173.59 599.55,177.79 598.05,177.79 600.50,181.89 602.95,177.79 601.45,177.79" fill="#1f6fe0"/>
<polyline points="585.74,151.70 586.00,154.32 585.66,156.93 585.06,159.55 584.80,162.17 585.14,164.78 585.74,167.40 586.00,170.02 585.66,172.63 585.06,175.25 584.80,177.87 585.14,180.48 585.74,183.10" fill="none" stroke="#1c1c2a" stroke-width="2.9"/>
<circle cx="584.10" cy="146.60" r="5.4" fill="white" stroke="#111" stroke-width="1.1"/>
<text x="584.10" y="149.90" font-size="9.6" text-anchor="middle" font-family="Liberation Serif" font-weight="bold" fill="#111">7</text>
<rect x="375.00" y="252.40" width="44.80" height="20.40" fill="#ffcf5e"/>
<rect x="375.00" y="272.80" width="44.80" height="9.90" fill="#8cc63f"/>
<polygon points="380.45,254.16 378.55,254.16 378.55,258.36 377.05,258.36 379.50,262.46 381.95,258.36 380.45,258.36" fill="#ff1a1a"/>
<polygon points="378.55,272.00 380.45,272.00 380.45,267.80 381.95,267.80 379.50,263.70 377.05,267.80 378.55,267.80" fill="#ff1a1a"/>
<polygon points="380.45,273.70 378.55,273.70 378.55,277.90 377.05,277.90 379.50,282.00 381.95,277.90 380.45,277.90" fill="#1f6fe0"/>
<polygon points="387.75,254.16 385.85,254.16 385.85,258.36 384.35,258.36 386.80,262.46 389.25,258.36 387.75,258.36" fill="#ff1a1a"/>
<polygon points="385.85,272.00 387.75,272.00 387.75,267.80 389.25,267.80 386.80,263.70 384.35,267.80 385.85,267.80" fill="#ff1a1a"/>
<polygon points="387.75,273.70 385.85,273.70 385.85,277.90 384.35,277.90 386.80,282.00 389.25,277.90 387.75,277.90" fill="#1f6fe0"/>
<polygon points="395.05,254.16 393.15,254.16 393.15,258.36 391.65,258.36 394.10,262.46 396.55,258.36 395.05,258.36" fill="#ff1a1a"/>
<polygon points="393.15,272.00 395.05,272.00 395.05,267.80 396.55,267.80 394.10,263.70 391.65,267.80 393.15,267.80" fill="#ff1a1a"/>
<polygon points="395.05,273.70 393.15,273.70 393.15,277.90 391.65,277.90 394.10,282.00 396.55,277.90 395.05,277.90" fill="#1f6fe0"/>
<polygon points="407.15,262.46 409.05,262.46 409.05,258.26 410.55,258.26 408.10,254.16 405.65,258.26 407.15,258.26" fill="#ff1a1a"/>
<polygon points="409.05,263.70 407.15,263.70 407.15,267.90 405.65,267.90 408.10,272.00 410.55,267.90 409.05,267.90" fill="#ff1a1a"/>
<polygon points="409.05,273.70 407.15,273.70 407.15,277.90 405.65,277.90 408.10,282.00 410.55,277.90 409.05,277.90" fill="#1f6fe0"/>
<polygon points="414.55,262.46 416.45,262.46 416.45,258.26 417.95,258.26 415.50,254.16 413.05,258.26 414.55,258.26" fill="#ff1a1a"/>
<polygon points="416.45,263.70 414.55,263.70 414.55,267.90 413.05,267.90 415.50,272.00 417.95,267.90 416.45,267.90" fill="#ff1a1a"/>
<polygon points="416.45,273.70 414.55,273.70 414.55,277.90 413.05,277.90 415.50,282.00 417.95,277.90 416.45,277.90" fill="#1f6fe0"/>
<polyline points="400.64,251.90 400.90,254.51 400.56,257.12 399.96,259.73 399.70,262.33 400.04,264.94 400.64,267.55 400.90,270.16 400.56,272.77 399.96,275.38 399.70,277.98 400.04,280.59 400.64,283.20" fill="none" stroke="#1c1c2a" stroke-width="2.9"/>
<circle cx="398.00" cy="289.60" r="5.4" fill="white" stroke="#111" stroke-width="1.1"/>
<text x="398.00" y="292.90" font-size="9.6" text-anchor="middle" font-family="Liberation Serif" font-weight="bold" fill="#111">5</text>
<rect x="542.80" y="252.60" width="44.90" height="20.00" fill="#ffcf5e"/>
<rect x="542.80" y="272.60" width="44.90" height="9.90" fill="#8cc63f"/>
<polygon points="548.25,254.28 546.35,254.28 546.35,258.48 544.85,258.48 547.30,262.58 549.75,258.48 548.25,258.48" fill="#ff1a1a"/>
<polygon points="546.35,272.00 548.25,272.00 548.25,267.80 549.75,267.80 547.30,263.70 544.85,267.80 546.35,267.80" fill="#ff1a1a"/>
<polygon points="546.05,273.65 544.40,274.60 546.50,278.23 545.20,278.98 549.38,281.31 549.45,276.53 548.15,277.28" fill="#1f6fe0"/>
<polygon points="555.55,254.28 553.65,254.28 553.65,258.48 552.15,258.48 554.60,262.58 557.05,258.48 555.55,258.48" fill="#ff1a1a"/>
<polygon points="553.65,272.00 555.55,272.00 555.55,267.80 557.05,267.80 554.60,263.70 552.15,267.80 553.65,267.80" fill="#ff1a1a"/>
<polygon points="553.35,273.65 551.70,274.60 553.80,278.23 552.50,278.98 556.67,281.31 556.75,276.53 555.45,277.28" fill="#1f6fe0"/>
<polygon points="562.85,254.28 560.95,254.28 560.95,258.48 559.45,258.48 561.90,262.58 564.35,258.48 562.85,258.48" fill="#ff1a1a"/>
<polygon points="560.95,272.00 562.85,272.00 562.85,267.80 564.35,267.80 561.90,263.70 559.45,267.80 560.95,267.80" fill="#ff1a1a"/>
<polygon points="560.65,273.65 559.00,274.60 561.10,278.23 559.80,278.98 563.98,281.31 564.05,276.53 562.75,277.28" fill="#1f6fe0"/>
<polygon points="574.95,262.58 576.85,262.58 576.85,258.38 578.35,258.38 575.90,254.28 573.45,258.38 574.95,258.38" fill="#ff1a1a"/>
<polygon points="576.85,263.70 574.95,263.70 574.95,267.90 573.45,267.90 575.90,272.00 578.35,267.90 576.85,267.90" fill="#ff1a1a"/>
<polygon points="576.85,273.57 574.95,273.57 574.95,277.77 573.45,277.77 575.90,281.87 578.35,277.77 576.85,277.77" fill="#1f6fe0"/>
<polygon points="582.35,262.58 584.25,262.58 584.25,258.38 585.75,258.38 583.30,254.28 580.85,258.38 582.35,258.38" fill="#ff1a1a"/>
<polygon points="584.25,263.70 582.35,263.70 582.35,267.90 580.85,267.90 583.30,272.00 585.75,267.90 584.25,267.90" fill="#ff1a1a"/>
<polygon points="584.25,273.57 582.35,273.57 582.35,277.77 580.85,277.77 583.30,281.87 585.75,277.77 584.25,277.77" fill="#1f6fe0"/>
<polyline points="568.14,252.10 568.40,254.67 568.06,257.25 567.46,259.82 567.20,262.40 567.54,264.98 568.14,267.55 568.40,270.12 568.06,272.70 567.46,275.27 567.20,277.85 567.54,280.43 568.14,283.00" fill="none" stroke="#1c1c2a" stroke-width="2.9"/>
<circle cx="564.40" cy="289.40" r="5.4" fill="white" stroke="#111" stroke-width="1.1"/>
<text x="564.40" y="292.70" font-size="9.6" text-anchor="middle" font-family="Liberation Serif" font-weight="bold" fill="#111">6</text>
<circle cx="441.50" cy="100.50" r="5.60" fill="none" stroke="#555" stroke-width="1.3" stroke-dasharray="3.0,1.8"/>
<circle cx="456.30" cy="78.40" r="5.20" fill="none" stroke="#555" stroke-width="1.3" stroke-dasharray="3.0,1.8"/>
<circle cx="415.60" cy="149.40" r="9.20" fill="none" stroke="#555" stroke-width="1.3" stroke-dasharray="3.0,1.8"/>
<circle cx="391.20" cy="202.60" r="5.60" fill="none" stroke="#555" stroke-width="1.3" stroke-dasharray="3.0,1.8"/>
<circle cx="535.50" cy="162.00" r="6.00" fill="none" stroke="#555" stroke-width="1.3" stroke-dasharray="3.0,1.8"/>
<circle cx="548.40" cy="98.80" r="5.20" fill="none" stroke="#555" stroke-width="1.3" stroke-dasharray="3.0,1.8"/>
<circle cx="568.60" cy="83.40" r="5.20" fill="none" stroke="#555" stroke-width="1.3" stroke-dasharray="3.0,1.8"/>
<circle cx="599.80" cy="71.70" r="5.30" fill="none" stroke="#555" stroke-width="1.3" stroke-dasharray="3.0,1.8"/>
<line x1="438.60" y1="96.00" x2="418.29" y2="49.84" stroke="#222" stroke-width="1.25" />
<polygon points="416.60,46.00 420.12,49.04 416.46,50.65" fill="#222"/>
<line x1="454.60" y1="73.40" x2="462.08" y2="50.79" stroke="#222" stroke-width="1.25" />
<polygon points="463.40,46.80 463.98,51.42 460.18,50.16" fill="#222"/>
<line x1="597.00" y1="67.20" x2="586.21" y2="49.77" stroke="#222" stroke-width="1.25" />
<polygon points="584.00,46.20 587.91,48.72 584.51,50.82" fill="#222"/>
<line x1="410.00" y1="140.40" x2="399.50" y2="108.19" stroke="#222" stroke-width="1.25" />
<polygon points="398.20,104.20 401.40,107.57 397.60,108.81" fill="#222"/>
<line x1="389.60" y1="208.20" x2="386.71" y2="246.81" stroke="#222" stroke-width="1.25" />
<polygon points="386.40,251.00 384.72,246.66 388.71,246.96" fill="#222"/>
<line x1="537.00" y1="168.00" x2="556.28" y2="244.93" stroke="#222" stroke-width="1.25" />
<polygon points="557.30,249.00 554.34,245.41 558.22,244.44" fill="#222"/>
<line x1="549.70" y1="104.40" x2="561.53" y2="145.17" stroke="#222" stroke-width="1.25" />
<polygon points="562.70,149.20 559.61,145.72 563.45,144.61" fill="#222"/>
<line x1="570.40" y1="89.40" x2="576.24" y2="96.55" stroke="#222" stroke-width="1.25" />
<polygon points="578.90,99.80 574.69,97.81 577.79,95.28" fill="#222"/>
<line x1="87.98" y1="505.00" x2="87.98" y2="501.50" stroke="#1a1a1a" stroke-width="1.2" />
<line x1="133.44" y1="505.00" x2="133.44" y2="501.50" stroke="#1a1a1a" stroke-width="1.2" />
<line x1="178.90" y1="505.00" x2="178.90" y2="501.50" stroke="#1a1a1a" stroke-width="1.2" />
<line x1="224.36" y1="505.00" x2="224.36" y2="501.50" stroke="#1a1a1a" stroke-width="1.2" />
<line x1="269.82" y1="505.00" x2="269.82" y2="501.50" stroke="#1a1a1a" stroke-width="1.2" />
<line x1="110.71" y1="505.00" x2="110.71" y2="503.20" stroke="#1a1a1a" stroke-width="1.1" />
<line x1="156.17" y1="505.00" x2="156.17" y2="503.20" stroke="#1a1a1a" stroke-width="1.1" />
<line x1="201.63" y1="505.00" x2="201.63" y2="503.20" stroke="#1a1a1a" stroke-width="1.1" />
<line x1="247.09" y1="505.00" x2="247.09" y2="503.20" stroke="#1a1a1a" stroke-width="1.1" />
<line x1="65.25" y1="363.80" x2="68.75" y2="363.80" stroke="#1a1a1a" stroke-width="1.2" />
<line x1="292.50" y1="363.80" x2="289.00" y2="363.80" stroke="#1a1a1a" stroke-width="0" />
<line x1="65.25" y1="342.70" x2="67.05" y2="342.70" stroke="#1a1a1a" stroke-width="1.1" />
<line x1="65.25" y1="384.90" x2="67.05" y2="384.90" stroke="#1a1a1a" stroke-width="1.1" />
<line x1="65.25" y1="406.50" x2="68.75" y2="406.50" stroke="#1a1a1a" stroke-width="1.2" />
<line x1="65.25" y1="448.75" x2="68.75" y2="448.75" stroke="#1a1a1a" stroke-width="1.2" />
<line x1="65.25" y1="491.00" x2="68.75" y2="491.00" stroke="#1a1a1a" stroke-width="1.2" />
<line x1="65.25" y1="427.62" x2="67.05" y2="427.62" stroke="#1a1a1a" stroke-width="1.1" />
<line x1="65.25" y1="469.87" x2="67.05" y2="469.87" stroke="#1a1a1a" stroke-width="1.1" />
<rect x="65.25" y="322.10" width="227.25" height="182.90" fill="none" stroke="#1a1a1a" stroke-width="1.5"/>
<polygon points="63.05,392.60 67.45,389.40 67.45,391.40 63.05,394.60" fill="white"/>
<line x1="63.15" y1="392.10" x2="67.35" y2="388.90" stroke="#1a1a1a" stroke-width="1.3" />
<line x1="63.15" y1="395.10" x2="67.35" y2="391.90" stroke="#1a1a1a" stroke-width="1.3" />
<polygon points="290.30,391.60 294.70,388.40 294.70,390.40 290.30,393.60" fill="white"/>
<line x1="290.40" y1="391.10" x2="294.60" y2="387.90" stroke="#1a1a1a" stroke-width="1.3" />
<line x1="290.40" y1="394.10" x2="294.60" y2="390.90" stroke="#1a1a1a" stroke-width="1.3" />
<text x="60.80" y="325.70" font-size="12" text-anchor="end" font-family="Liberation Serif" font-weight="bold" stroke="#000" stroke-width="0.22" >450</text>
<text x="60.80" y="367.90" font-size="12" text-anchor="end" font-family="Liberation Serif" font-weight="bold" stroke="#000" stroke-width="0.22" >375</text>
<text x="60.80" y="410.60" font-size="12" text-anchor="end" font-family="Liberation Serif" font-weight="bold" stroke="#000" stroke-width="0.22" >-375</text>
<text x="60.80" y="452.85" font-size="12" text-anchor="end" font-family="Liberation Serif" font-weight="bold" stroke="#000" stroke-width="0.22" >-450</text>
<text x="60.80" y="495.10" font-size="12" text-anchor="end" font-family="Liberation Serif" font-weight="bold" stroke="#000" stroke-width="0.22" >-525</text>
<text x="87.98" y="518.60" font-size="12" text-anchor="middle" font-family="Liberation Serif" font-weight="bold" stroke="#000" stroke-width="0.22" >0</text>
<text x="133.44" y="518.60" font-size="12" text-anchor="middle" font-family="Liberation Serif" font-weight="bold" stroke="#000" stroke-width="0.22" >20</text>
<text x="178.90" y="518.60" font-size="12" text-anchor="middle" font-family="Liberation Serif" font-weight="bold" stroke="#000" stroke-width="0.22" >40</text>
<text x="224.36" y="518.60" font-size="12" text-anchor="middle" font-family="Liberation Serif" font-weight="bold" stroke="#000" stroke-width="0.22" >60</text>
<text x="269.82" y="518.60" font-size="12" text-anchor="middle" font-family="Liberation Serif" font-weight="bold" stroke="#000" stroke-width="0.22" >80</text>
<text x="178.80" y="539.30" font-size="13.6" text-anchor="middle" font-family="Liberation Serif" font-weight="bold" stroke="#000" stroke-width="0.22" >Power (mW)</text>
<text x="30.2" y="413.3" font-size="13.2" text-anchor="middle" font-family="Liberation Serif" font-weight="bold" stroke="#000" stroke-width="0.22" transform="rotate(-90 30.2 413.3)"><tspan font-style="italic">H</tspan><tspan font-size="10" font-style="italic" dy="3.4">C</tspan><tspan dy="-3.4"> (Oe)</tspan></text>
<text x="2.40" y="319.60" font-size="22.6" text-anchor="start" font-family="Liberation Serif" font-weight="bold" stroke="#000" stroke-width="0.22" >(c)</text>
<circle cx="87.90" cy="342.10" r="3.2" fill="url(#gr)"/>
<circle cx="115.70" cy="342.10" r="3.2" fill="url(#gr)"/>
<circle cx="131.90" cy="349.80" r="3.2" fill="url(#gr)"/>
<circle cx="157.80" cy="356.60" r="3.2" fill="url(#gr)"/>
<circle cx="199.00" cy="362.10" r="3.2" fill="url(#gr)"/>
<circle cx="264.10" cy="376.00" r="3.2" fill="url(#gr)"/>
<circle cx="87.90" cy="485.60" r="3.2" fill="url(#gb)"/>
<circle cx="115.70" cy="485.60" r="3.2" fill="url(#gb)"/>
<circle cx="131.90" cy="459.70" r="3.2" fill="url(#gb)"/>
<circle cx="157.80" cy="447.30" r="3.2" fill="url(#gb)"/>
<circle cx="199.00" cy="433.70" r="3.2" fill="url(#gb)"/>
<circle cx="264.10" cy="411.70" r="3.2" fill="url(#gb)"/>
<rect x="247.4" y="325.2" width="42.0" height="30.0" rx="1" fill="white" stroke="#c8c8c8" stroke-width="0.9"/>
<circle cx="259.40" cy="332.10" r="3.2" fill="url(#gb)"/>
<circle cx="259.40" cy="346.30" r="3.2" fill="url(#gr)"/>
<text x="272.4" y="335.8" font-size="10" font-family="Liberation Serif" font-weight="bold" stroke="#000" stroke-width="0.22"><tspan font-style="italic">H</tspan><tspan font-size="6.8" dy="2.6">C1</tspan></text>
<text x="272.4" y="350.0" font-size="10" font-family="Liberation Serif" font-weight="bold" stroke="#000" stroke-width="0.22"><tspan font-style="italic">H</tspan><tspan font-size="6.8" dy="2.6">C2</tspan></text>
<line x1="402.78" y1="504.80" x2="402.78" y2="501.30" stroke="#1a1a1a" stroke-width="1.2" />
<line x1="448.24" y1="504.80" x2="448.24" y2="501.30" stroke="#1a1a1a" stroke-width="1.2" />
<line x1="493.70" y1="504.80" x2="493.70" y2="501.30" stroke="#1a1a1a" stroke-width="1.2" />
<line x1="539.16" y1="504.80" x2="539.16" y2="501.30" stroke="#1a1a1a" stroke-width="1.2" />
<line x1="584.62" y1="504.80" x2="584.62" y2="501.30" stroke="#1a1a1a" stroke-width="1.2" />
<line x1="425.51" y1="504.80" x2="425.51" y2="503.00" stroke="#1a1a1a" stroke-width="1.1" />
<line x1="470.97" y1="504.80" x2="470.97" y2="503.00" stroke="#1a1a1a" stroke-width="1.1" />
<line x1="516.43" y1="504.80" x2="516.43" y2="503.00" stroke="#1a1a1a" stroke-width="1.1" />
<line x1="561.89" y1="504.80" x2="561.89" y2="503.00" stroke="#1a1a1a" stroke-width="1.1" />
<line x1="380.05" y1="347.80" x2="383.55" y2="347.80" stroke="#1a1a1a" stroke-width="1.2" />
<line x1="380.05" y1="375.00" x2="383.55" y2="375.00" stroke="#1a1a1a" stroke-width="1.2" />
<line x1="380.05" y1="402.80" x2="383.55" y2="402.80" stroke="#1a1a1a" stroke-width="1.2" />
<line x1="380.05" y1="425.50" x2="383.55" y2="425.50" stroke="#1a1a1a" stroke-width="1.2" />
<line x1="380.05" y1="468.50" x2="383.55" y2="468.50" stroke="#1a1a1a" stroke-width="1.2" />
<line x1="380.05" y1="495.20" x2="383.55" y2="495.20" stroke="#1a1a1a" stroke-width="1.2" />
<line x1="380.05" y1="334.60" x2="381.85" y2="334.60" stroke="#1a1a1a" stroke-width="1.1" />
<line x1="380.05" y1="361.40" x2="381.85" y2="361.40" stroke="#1a1a1a" stroke-width="1.1" />
<line x1="380.05" y1="454.20" x2="381.85" y2="454.20" stroke="#1a1a1a" stroke-width="1.1" />
<line x1="380.05" y1="481.90" x2="381.85" y2="481.90" stroke="#1a1a1a" stroke-width="1.1" />
<rect x="380.05" y="322.10" width="227.15" height="182.70" fill="none" stroke="#1a1a1a" stroke-width="1.5"/>
<polygon points="377.85,389.60 382.25,386.40 382.25,388.40 377.85,391.60" fill="white"/>
<line x1="377.95" y1="389.10" x2="382.15" y2="385.90" stroke="#1a1a1a" stroke-width="1.3" />
<line x1="377.95" y1="392.10" x2="382.15" y2="388.90" stroke="#1a1a1a" stroke-width="1.3" />
<polygon points="605.00,389.60 609.40,386.40 609.40,388.40 605.00,391.60" fill="white"/>
<line x1="605.10" y1="389.10" x2="609.30" y2="385.90" stroke="#1a1a1a" stroke-width="1.3" />
<line x1="605.10" y1="392.10" x2="609.30" y2="388.90" stroke="#1a1a1a" stroke-width="1.3" />
<polygon points="377.85,417.40 382.25,414.20 382.25,416.20 377.85,419.40" fill="white"/>
<line x1="377.95" y1="416.90" x2="382.15" y2="413.70" stroke="#1a1a1a" stroke-width="1.3" />
<line x1="377.95" y1="419.90" x2="382.15" y2="416.70" stroke="#1a1a1a" stroke-width="1.3" />
<polygon points="605.00,417.40 609.40,414.20 609.40,416.20 605.00,419.40" fill="white"/>
<line x1="605.10" y1="416.90" x2="609.30" y2="413.70" stroke="#1a1a1a" stroke-width="1.3" />
<line x1="605.10" y1="419.90" x2="609.30" y2="416.70" stroke="#1a1a1a" stroke-width="1.3" />
<polygon points="377.85,445.00 382.25,441.80 382.25,443.80 377.85,447.00" fill="white"/>
<line x1="377.95" y1="444.50" x2="382.15" y2="441.30" stroke="#1a1a1a" stroke-width="1.3" />
<line x1="377.95" y1="447.50" x2="382.15" y2="444.30" stroke="#1a1a1a" stroke-width="1.3" />
<polygon points="605.00,445.00 609.40,441.80 609.40,443.80 605.00,447.00" fill="white"/>
<line x1="605.10" y1="444.50" x2="609.30" y2="441.30" stroke="#1a1a1a" stroke-width="1.3" />
<line x1="605.10" y1="447.50" x2="609.30" y2="444.30" stroke="#1a1a1a" stroke-width="1.3" />
<text x="376.00" y="351.90" font-size="12" text-anchor="end" font-family="Liberation Serif" font-weight="bold" stroke="#000" stroke-width="0.22" >550</text>
<text x="376.00" y="379.10" font-size="12" text-anchor="end" font-family="Liberation Serif" font-weight="bold" stroke="#000" stroke-width="0.22" >495</text>
<text x="376.00" y="406.90" font-size="12" text-anchor="end" font-family="Liberation Serif" font-weight="bold" stroke="#000" stroke-width="0.22" >275</text>
<text x="376.00" y="429.60" font-size="12" text-anchor="end" font-family="Liberation Serif" font-weight="bold" stroke="#000" stroke-width="0.22" >-275</text>
<text x="376.00" y="472.60" font-size="12" text-anchor="end" font-family="Liberation Serif" font-weight="bold" stroke="#000" stroke-width="0.22" >-495</text>
<text x="376.00" y="499.30" font-size="12" text-anchor="end" font-family="Liberation Serif" font-weight="bold" stroke="#000" stroke-width="0.22" >-550</text>
<text x="402.78" y="518.70" font-size="12" text-anchor="middle" font-family="Liberation Serif" font-weight="bold" stroke="#000" stroke-width="0.22" >0</text>
<text x="448.24" y="518.70" font-size="12" text-anchor="middle" font-family="Liberation Serif" font-weight="bold" stroke="#000" stroke-width="0.22" >20</text>
<text x="493.70" y="518.70" font-size="12" text-anchor="middle" font-family="Liberation Serif" font-weight="bold" stroke="#000" stroke-width="0.22" >40</text>
<text x="539.16" y="518.70" font-size="12" text-anchor="middle" font-family="Liberation Serif" font-weight="bold" stroke="#000" stroke-width="0.22" >60</text>
<text x="584.62" y="518.70" font-size="12" text-anchor="middle" font-family="Liberation Serif" font-weight="bold" stroke="#000" stroke-width="0.22" >80</text>
<text x="493.60" y="542.00" font-size="15.3" text-anchor="middle" font-family="Liberation Serif" font-weight="bold" stroke="#000" stroke-width="0.22" >Power (mW)</text>
<text x="343.6" y="413.5" font-size="15" text-anchor="middle" font-family="Liberation Serif" font-weight="bold" stroke="#000" stroke-width="0.22" transform="rotate(-90 343.6 413.5)"><tspan font-style="italic">H</tspan><tspan font-size="11.8" dy="3.3">C</tspan><tspan dy="-3.3"> (Oe)</tspan></text>
<text x="317.60" y="319.80" font-size="22.6" text-anchor="start" font-family="Liberation Serif" font-weight="bold" stroke="#000" stroke-width="0.22" >(d)</text>
<circle cx="402.50" cy="344.50" r="2.95" fill="#ff3a12"/>
<circle cx="402.50" cy="396.50" r="2.90" fill="white" stroke="#5b9cff" stroke-width="0.8"/>
<path d="M402.50,393.20 A3.3,3.3 0 0 1 402.50,399.80 Z" fill="#0a5cff"/>
<polygon points="399.00,439.90 406.00,439.90 402.50,433.90" fill="#ff3a12"/>
<polygon points="399.60,489.65 405.40,489.65 402.50,484.60" fill="white" stroke="#4f95ff" stroke-width="0.8"/>
<polygon points="402.50,490.00 405.80,490.00 402.50,484.00" fill="#0a5cff"/>
<circle cx="430.40" cy="350.60" r="2.95" fill="#ff3a12"/>
<circle cx="430.40" cy="397.60" r="2.90" fill="white" stroke="#5b9cff" stroke-width="0.8"/>
<path d="M430.40,394.30 A3.3,3.3 0 0 1 430.40,400.90 Z" fill="#0a5cff"/>
<polygon points="426.90,436.50 433.90,436.50 430.40,430.50" fill="#ff3a12"/>
<polygon points="427.50,482.35 433.30,482.35 430.40,477.30" fill="white" stroke="#4f95ff" stroke-width="0.8"/>
<polygon points="430.40,482.70 433.70,482.70 430.40,476.70" fill="#0a5cff"/>
<circle cx="446.90" cy="356.40" r="2.95" fill="#ff3a12"/>
<circle cx="446.90" cy="398.80" r="2.90" fill="white" stroke="#5b9cff" stroke-width="0.8"/>
<path d="M446.90,395.50 A3.3,3.3 0 0 1 446.90,402.10 Z" fill="#0a5cff"/>
<polygon points="443.40,437.30 450.40,437.30 446.90,431.30" fill="#ff3a12"/>
<polygon points="444.00,473.15 449.80,473.15 446.90,468.10" fill="white" stroke="#4f95ff" stroke-width="0.8"/>
<polygon points="446.90,473.50 450.20,473.50 446.90,467.50" fill="#0a5cff"/>
<circle cx="472.90" cy="360.00" r="2.95" fill="#ff3a12"/>
<circle cx="472.90" cy="401.10" r="2.90" fill="white" stroke="#5b9cff" stroke-width="0.8"/>
<path d="M472.90,397.80 A3.3,3.3 0 0 1 472.90,404.40 Z" fill="#0a5cff"/>
<polygon points="469.40,435.80 476.40,435.80 472.90,429.80" fill="#ff3a12"/>
<polygon points="470.00,476.35 475.80,476.35 472.90,471.30" fill="white" stroke="#4f95ff" stroke-width="0.8"/>
<polygon points="472.90,476.70 476.20,476.70 472.90,470.70" fill="#0a5cff"/>
<circle cx="514.10" cy="369.20" r="2.95" fill="#ff3a12"/>
<circle cx="514.10" cy="401.20" r="2.90" fill="white" stroke="#5b9cff" stroke-width="0.8"/>
<path d="M514.10,397.90 A3.3,3.3 0 0 1 514.10,404.50 Z" fill="#0a5cff"/>
<polygon points="510.60,432.00 517.60,432.00 514.10,426.00" fill="#ff3a12"/>
<polygon points="511.20,464.65 517.00,464.65 514.10,459.60" fill="white" stroke="#4f95ff" stroke-width="0.8"/>
<polygon points="514.10,465.00 517.40,465.00 514.10,459.00" fill="#0a5cff"/>
<circle cx="579.00" cy="383.40" r="2.95" fill="#ff3a12"/>
<circle cx="579.00" cy="409.40" r="2.90" fill="white" stroke="#5b9cff" stroke-width="0.8"/>
<path d="M579.00,406.10 A3.3,3.3 0 0 1 579.00,412.70 Z" fill="#0a5cff"/>
<polygon points="575.50,426.00 582.50,426.00 579.00,420.00" fill="#ff3a12"/>
<polygon points="576.10,452.15 581.90,452.15 579.00,447.10" fill="white" stroke="#4f95ff" stroke-width="0.8"/>
<polygon points="579.00,452.50 582.30,452.50 579.00,446.50" fill="#0a5cff"/>
<rect x="570.3" y="322.6" width="37.0" height="56.3" rx="1" fill="white" stroke="#c8c8c8" stroke-width="0.9"/>
<polygon points="577.70,332.70 584.70,332.70 581.20,327.10" fill="#ff3a12"/>
<circle cx="581.2" cy="344.1" r="3.1" fill="#ff3a12"/>
<circle cx="581.20" cy="357.90" r="2.60" fill="white" stroke="#5b9cff" stroke-width="0.8"/>
<path d="M581.20,354.90 A3.0,3.0 0 0 1 581.20,360.90 Z" fill="#0a5cff"/>
<polygon points="578.40,373.75 584.00,373.75 581.20,369.30" fill="white" stroke="#4f95ff" stroke-width="0.8"/>
<polygon points="581.20,374.10 584.40,374.10 581.20,368.70" fill="#0a5cff"/>
<text x="590.6" y="333.2" font-size="8.6" font-family="Liberation Serif" font-weight="bold" stroke="#000" stroke-width="0.22" font-style="italic">H</text>
<text x="597.0" y="329.0" font-size="5" font-family="Liberation Serif" font-weight="bold" stroke="#000" stroke-width="0.22">L</text>
<text x="596.8" y="335.5" font-size="6" font-family="Liberation Serif" font-weight="bold" stroke="#000" stroke-width="0.22">C1</text>
<text x="590.6" y="347.4" font-size="8.6" font-family="Liberation Serif" font-weight="bold" stroke="#000" stroke-width="0.22" font-style="italic">H</text>
<text x="597.0" y="343.2" font-size="5" font-family="Liberation Serif" font-weight="bold" stroke="#000" stroke-width="0.22">L</text>
<text x="596.8" y="349.7" font-size="6" font-family="Liberation Serif" font-weight="bold" stroke="#000" stroke-width="0.22">C2</text>
<text x="590.6" y="361.2" font-size="8.6" font-family="Liberation Serif" font-weight="bold" stroke="#000" stroke-width="0.22" font-style="italic">H</text>
<text x="597.0" y="357.0" font-size="5" font-family="Liberation Serif" font-weight="bold" stroke="#000" stroke-width="0.22">R</text>
<text x="596.8" y="363.5" font-size="6" font-family="Liberation Serif" font-weight="bold" stroke="#000" stroke-width="0.22">C2</text>
<text x="590.6" y="374.8" font-size="8.6" font-family="Liberation Serif" font-weight="bold" stroke="#000" stroke-width="0.22" font-style="italic">H</text>
<text x="597.0" y="370.6" font-size="5" font-family="Liberation Serif" font-weight="bold" stroke="#000" stroke-width="0.22">R</text>
<text x="596.8" y="377.1" font-size="6" font-family="Liberation Serif" font-weight="bold" stroke="#000" stroke-width="0.22">C1</text>
<line x1="87.98" y1="746.60" x2="87.98" y2="743.10" stroke="#1a1a1a" stroke-width="1.2" />
<line x1="133.44" y1="746.60" x2="133.44" y2="743.10" stroke="#1a1a1a" stroke-width="1.2" />
<line x1="178.90" y1="746.60" x2="178.90" y2="743.10" stroke="#1a1a1a" stroke-width="1.2" />
<line x1="224.36" y1="746.60" x2="224.36" y2="743.10" stroke="#1a1a1a" stroke-width="1.2" />
<line x1="269.82" y1="746.60" x2="269.82" y2="743.10" stroke="#1a1a1a" stroke-width="1.2" />
<line x1="110.71" y1="746.60" x2="110.71" y2="744.80" stroke="#1a1a1a" stroke-width="1.1" />
<line x1="156.17" y1="746.60" x2="156.17" y2="744.80" stroke="#1a1a1a" stroke-width="1.1" />
<line x1="201.63" y1="746.60" x2="201.63" y2="744.80" stroke="#1a1a1a" stroke-width="1.1" />
<line x1="247.09" y1="746.60" x2="247.09" y2="744.80" stroke="#1a1a1a" stroke-width="1.1" />
<line x1="65.25" y1="571.30" x2="68.75" y2="571.30" stroke="#1a1a1a" stroke-width="1.2" />
<line x1="65.25" y1="623.55" x2="68.75" y2="623.55" stroke="#1a1a1a" stroke-width="1.2" />
<line x1="65.25" y1="675.80" x2="68.75" y2="675.80" stroke="#1a1a1a" stroke-width="1.2" />
<line x1="65.25" y1="728.05" x2="68.75" y2="728.05" stroke="#1a1a1a" stroke-width="1.2" />
<line x1="65.25" y1="597.42" x2="67.05" y2="597.42" stroke="#1a1a1a" stroke-width="1.1" />
<line x1="65.25" y1="649.67" x2="67.05" y2="649.67" stroke="#1a1a1a" stroke-width="1.1" />
<line x1="65.25" y1="701.92" x2="67.05" y2="701.92" stroke="#1a1a1a" stroke-width="1.1" />
<rect x="65.25" y="563.50" width="227.25" height="183.10" fill="none" stroke="#1a1a1a" stroke-width="1.5"/>
<text x="60.80" y="575.40" font-size="12" text-anchor="end" font-family="Liberation Serif" font-weight="bold" stroke="#000" stroke-width="0.22" >0</text>
<text x="60.80" y="627.65" font-size="12" text-anchor="end" font-family="Liberation Serif" font-weight="bold" stroke="#000" stroke-width="0.22" >-20</text>
<text x="60.80" y="679.90" font-size="12" text-anchor="end" font-family="Liberation Serif" font-weight="bold" stroke="#000" stroke-width="0.22" >-40</text>
<text x="60.80" y="732.15" font-size="12" text-anchor="end" font-family="Liberation Serif" font-weight="bold" stroke="#000" stroke-width="0.22" >-60</text>
<text x="87.98" y="760.30" font-size="12" text-anchor="middle" font-family="Liberation Serif" font-weight="bold" stroke="#000" stroke-width="0.22" >0</text>
<text x="133.44" y="760.30" font-size="12" text-anchor="middle" font-family="Liberation Serif" font-weight="bold" stroke="#000" stroke-width="0.22" >20</text>
<text x="178.90" y="760.30" font-size="12" text-anchor="middle" font-family="Liberation Serif" font-weight="bold" stroke="#000" stroke-width="0.22" >40</text>
<text x="224.36" y="760.30" font-size="12" text-anchor="middle" font-family="Liberation Serif" font-weight="bold" stroke="#000" stroke-width="0.22" >60</text>
<text x="269.82" y="760.30" font-size="12" text-anchor="middle" font-family="Liberation Serif" font-weight="bold" stroke="#000" stroke-width="0.22" >80</text>
<text x="178.80" y="780.30" font-size="13.6" text-anchor="middle" font-family="Liberation Serif" font-weight="bold" stroke="#000" stroke-width="0.22" >Power (mW)</text>
<text x="37.8" y="655.0" font-size="13.6" text-anchor="middle" font-family="Liberation Serif" font-weight="bold" stroke="#000" stroke-width="0.22" transform="rotate(-90 37.8 655.0)"><tspan font-style="italic">H</tspan><tspan font-size="9.2" dy="2.6">EB</tspan><tspan dy="-2.6"> (Oe)</tspan></text>
<text x="2.40" y="561.10" font-size="22.6" text-anchor="start" font-family="Liberation Serif" font-weight="bold" stroke="#000" stroke-width="0.22" >(e)</text>
<polygon points="87.80,698.90 89.02,701.83 92.17,702.08 89.77,704.14 90.50,707.22 87.80,705.57 85.10,707.22 85.83,704.14 83.43,702.08 86.58,701.83" fill="#ff0000"/>
<polygon points="115.70,698.90 116.92,701.83 120.07,702.08 117.67,704.14 118.40,707.22 115.70,705.57 113.00,707.22 113.73,704.14 111.33,702.08 114.48,701.83" fill="#ff0000"/>
<polygon points="132.10,657.00 133.32,659.93 136.47,660.18 134.07,662.24 134.80,665.32 132.10,663.67 129.40,665.32 130.13,662.24 127.73,660.18 130.88,659.93" fill="#ff0000"/>
<polygon points="158.00,643.90 159.22,646.83 162.37,647.08 159.97,649.14 160.70,652.22 158.00,650.57 155.30,652.22 156.03,649.14 153.63,647.08 156.78,646.83" fill="#ff0000"/>
<polygon points="199.30,625.30 200.52,628.23 203.67,628.48 201.27,630.54 202.00,633.62 199.30,631.97 196.60,633.62 197.33,630.54 194.93,628.48 198.08,628.23" fill="#ff0000"/>
<polygon points="264.10,606.60 265.32,609.53 268.47,609.78 266.07,611.84 266.80,614.92 264.10,613.27 261.40,614.92 262.13,611.84 259.73,609.78 262.88,609.53" fill="#ff0000"/>
<line x1="402.78" y1="746.60" x2="402.78" y2="743.10" stroke="#1a1a1a" stroke-width="1.2" />
<line x1="448.24" y1="746.60" x2="448.24" y2="743.10" stroke="#1a1a1a" stroke-width="1.2" />
<line x1="493.70" y1="746.60" x2="493.70" y2="743.10" stroke="#1a1a1a" stroke-width="1.2" />
<line x1="539.16" y1="746.60" x2="539.16" y2="743.10" stroke="#1a1a1a" stroke-width="1.2" />
<line x1="584.62" y1="746.60" x2="584.62" y2="743.10" stroke="#1a1a1a" stroke-width="1.2" />
<line x1="425.51" y1="746.60" x2="425.51" y2="744.80" stroke="#1a1a1a" stroke-width="1.1" />
<line x1="470.97" y1="746.60" x2="470.97" y2="744.80" stroke="#1a1a1a" stroke-width="1.1" />
<line x1="516.43" y1="746.60" x2="516.43" y2="744.80" stroke="#1a1a1a" stroke-width="1.1" />
<line x1="561.89" y1="746.60" x2="561.89" y2="744.80" stroke="#1a1a1a" stroke-width="1.1" />
<line x1="380.05" y1="588.80" x2="383.55" y2="588.80" stroke="#1a1a1a" stroke-width="1.2" />
<line x1="380.05" y1="631.90" x2="383.55" y2="631.90" stroke="#1a1a1a" stroke-width="1.2" />
<line x1="380.05" y1="567.25" x2="381.85" y2="567.25" stroke="#1a1a1a" stroke-width="1.1" />
<line x1="380.05" y1="610.35" x2="381.85" y2="610.35" stroke="#1a1a1a" stroke-width="1.1" />
<line x1="380.05" y1="678.00" x2="383.55" y2="678.00" stroke="#1a1a1a" stroke-width="1.2" />
<line x1="380.05" y1="720.50" x2="383.55" y2="720.50" stroke="#1a1a1a" stroke-width="1.2" />
<line x1="380.05" y1="699.25" x2="381.85" y2="699.25" stroke="#1a1a1a" stroke-width="1.1" />
<line x1="380.05" y1="741.75" x2="381.85" y2="741.75" stroke="#1a1a1a" stroke-width="1.1" />
<rect x="380.05" y="563.50" width="227.15" height="183.10" fill="none" stroke="#1a1a1a" stroke-width="1.5"/>
<polygon points="377.85,652.10 382.25,648.90 382.25,650.90 377.85,654.10" fill="white"/>
<line x1="377.95" y1="651.60" x2="382.15" y2="648.40" stroke="#1a1a1a" stroke-width="1.3" />
<line x1="377.95" y1="654.60" x2="382.15" y2="651.40" stroke="#1a1a1a" stroke-width="1.3" />
<polygon points="605.00,652.10 609.40,648.90 609.40,650.90 605.00,654.10" fill="white"/>
<line x1="605.10" y1="651.60" x2="609.30" y2="648.40" stroke="#1a1a1a" stroke-width="1.3" />
<line x1="605.10" y1="654.60" x2="609.30" y2="651.40" stroke="#1a1a1a" stroke-width="1.3" />
<text x="376.00" y="592.90" font-size="12" text-anchor="end" font-family="Liberation Serif" font-weight="bold" stroke="#000" stroke-width="0.22" >125</text>
<text x="376.00" y="636.00" font-size="12" text-anchor="end" font-family="Liberation Serif" font-weight="bold" stroke="#000" stroke-width="0.22" >100</text>
<text x="376.00" y="682.10" font-size="12" text-anchor="end" font-family="Liberation Serif" font-weight="bold" stroke="#000" stroke-width="0.22" >-100</text>
<text x="376.00" y="724.60" font-size="12" text-anchor="end" font-family="Liberation Serif" font-weight="bold" stroke="#000" stroke-width="0.22" >-125</text>
<text x="402.78" y="760.30" font-size="12" text-anchor="middle" font-family="Liberation Serif" font-weight="bold" stroke="#000" stroke-width="0.22" >0</text>
<text x="448.24" y="760.30" font-size="12" text-anchor="middle" font-family="Liberation Serif" font-weight="bold" stroke="#000" stroke-width="0.22" >20</text>
<text x="493.70" y="760.30" font-size="12" text-anchor="middle" font-family="Liberation Serif" font-weight="bold" stroke="#000" stroke-width="0.22" >40</text>
<text x="539.16" y="760.30" font-size="12" text-anchor="middle" font-family="Liberation Serif" font-weight="bold" stroke="#000" stroke-width="0.22" >60</text>
<text x="584.62" y="760.30" font-size="12" text-anchor="middle" font-family="Liberation Serif" font-weight="bold" stroke="#000" stroke-width="0.22" >80</text>
<text x="493.60" y="780.30" font-size="13.6" text-anchor="middle" font-family="Liberation Serif" font-weight="bold" stroke="#000" stroke-width="0.22" >Power (mW)</text>
<text x="346.2" y="655.0" font-size="13.6" text-anchor="middle" font-family="Liberation Serif" font-weight="bold" stroke="#000" stroke-width="0.22" transform="rotate(-90 346.2 655.0)"><tspan font-style="italic">H</tspan><tspan font-size="9.2" dy="2.6">EB</tspan><tspan dy="-2.6"> (Oe)</tspan></text>
<text x="317.60" y="561.10" font-size="22.6" text-anchor="start" font-family="Liberation Serif" font-weight="bold" stroke="#000" stroke-width="0.22" >(f)</text>
<polygon points="402.40,577.10 403.62,580.03 406.77,580.28 404.37,582.34 405.10,585.42 402.40,583.77 399.70,585.42 400.43,582.34 398.03,580.28 401.18,580.03" fill="#11ee11"/>
<polygon points="430.60,582.60 431.82,585.53 434.97,585.78 432.57,587.84 433.30,590.92 430.60,589.27 427.90,590.92 428.63,587.84 426.23,585.78 429.38,585.53" fill="#11ee11"/>
<polygon points="446.60,594.10 447.82,597.03 450.97,597.28 448.57,599.34 449.30,602.42 446.60,600.77 443.90,602.42 444.63,599.34 442.23,597.28 445.38,597.03" fill="#11ee11"/>
<polygon points="472.50,597.60 473.72,600.53 476.87,600.78 474.47,602.84 475.20,605.92 472.50,604.27 469.80,605.92 470.53,602.84 468.13,600.78 471.28,600.53" fill="#11ee11"/>
<polygon points="514.10,606.00 515.32,608.93 518.47,609.18 516.07,611.24 516.80,614.32 514.10,612.67 511.40,614.32 512.13,611.24 509.73,609.18 512.88,608.93" fill="#11ee11"/>
<polygon points="578.90,620.30 580.12,623.23 583.27,623.48 580.87,625.54 581.60,628.62 578.90,626.97 576.20,628.62 576.93,625.54 574.53,623.48 577.68,623.23" fill="#11ee11"/>
<polygon points="402.40,712.90 403.62,715.83 406.77,716.08 404.37,718.14 405.10,721.22 402.40,719.57 399.70,721.22 400.43,718.14 398.03,716.08 401.18,715.83" fill="#ff0000"/>
<polygon points="430.40,702.00 431.62,704.93 434.77,705.18 432.37,707.24 433.10,710.32 430.40,708.67 427.70,710.32 428.43,707.24 426.03,705.18 429.18,704.93" fill="#ff0000"/>
<polygon points="446.90,688.60 448.12,691.53 451.27,691.78 448.87,693.84 449.60,696.92 446.90,695.27 444.20,696.92 444.93,693.84 442.53,691.78 445.68,691.53" fill="#ff0000"/>
<polygon points="472.50,698.20 473.72,701.13 476.87,701.38 474.47,703.44 475.20,706.52 472.50,704.87 469.80,706.52 470.53,703.44 468.13,701.38 471.28,701.13" fill="#ff0000"/>
<polygon points="514.10,678.10 515.32,681.03 518.47,681.28 516.07,683.34 516.80,686.42 514.10,684.77 511.40,686.42 512.13,683.34 509.73,681.28 512.88,681.03" fill="#ff0000"/>
<polygon points="578.90,669.50 580.12,672.43 583.27,672.68 580.87,674.74 581.60,677.82 578.90,676.17 576.20,677.82 576.93,674.74 574.53,672.68 577.68,672.43" fill="#ff0000"/>
<rect x="559.0" y="567.3" width="45.0" height="31.7" rx="1" fill="white" stroke="#c8c8c8" stroke-width="0.9"/>
<polygon points="571.00,570.70 572.19,573.56 575.28,573.81 572.93,575.83 573.65,578.84 571.00,577.23 568.35,578.84 569.07,575.83 566.72,573.81 569.81,573.56" fill="#11ee11"/>
<polygon points="571.00,586.30 572.19,589.16 575.28,589.41 572.93,591.43 573.65,594.44 571.00,592.82 568.35,594.44 569.07,591.43 566.72,589.41 569.81,589.16" fill="#ff0000"/>
<text x="584.2" y="579.2" font-size="10" font-family="Liberation Serif" font-weight="bold" stroke="#000" stroke-width="0.22" font-style="italic">H</text>
<text x="594.4" y="574.6" font-size="6.4" font-family="Liberation Serif" font-weight="bold" stroke="#000" stroke-width="0.22">R</text>
<text x="593.4" y="581.8000000000001" font-size="6.6" font-family="Liberation Serif" font-weight="bold" stroke="#000" stroke-width="0.22">EB</text>
<text x="584.2" y="594.8" font-size="10" font-family="Liberation Serif" font-weight="bold" stroke="#000" stroke-width="0.22" font-style="italic">H</text>
<text x="594.4" y="590.1999999999999" font-size="6.4" font-family="Liberation Serif" font-weight="bold" stroke="#000" stroke-width="0.22">L</text>
<text x="593.4" y="597.4" font-size="6.6" font-family="Liberation Serif" font-weight="bold" stroke="#000" stroke-width="0.22">EB</text></svg></body></html>
